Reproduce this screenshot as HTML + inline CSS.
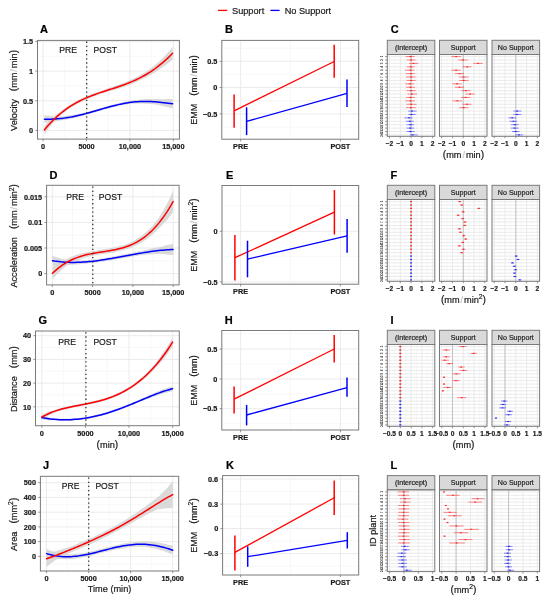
<!DOCTYPE html>
<html><head><meta charset="utf-8"><title>Figure</title>
<style>html,body{margin:0;padding:0;background:#fff;width:550px;height:600px;overflow:hidden}svg{display:block;font-family:"Liberation Sans",sans-serif;filter:blur(0.3px)}</style>
</head><body>
<svg width="550" height="600" viewBox="0 0 550 600" font-family='"Liberation Sans", sans-serif'><defs><clipPath id="c40"><rect x="38" y="40.9" width="140.9" height="97.7"/></clipPath><clipPath id="c185"><rect x="47.1" y="185.8" width="131.5" height="98.6"/></clipPath><clipPath id="c331"><rect x="36" y="331.5" width="142.8" height="93.7"/></clipPath><clipPath id="c476"><rect x="40.9" y="476.8" width="137.3" height="93.7"/></clipPath></defs><rect width="550" height="600" fill="#fff"/><rect x="37.5" y="40.4" width="141.9" height="98.7" fill="#fff"/>
<line x1="64.8" y1="40.4" x2="64.8" y2="139.1" stroke="#f3f3f3" stroke-width="0.6"/>
<line x1="108.2" y1="40.4" x2="108.2" y2="139.1" stroke="#f3f3f3" stroke-width="0.6"/>
<line x1="151.6" y1="40.4" x2="151.6" y2="139.1" stroke="#f3f3f3" stroke-width="0.6"/>
<line x1="37.5" y1="115.58" x2="179.4" y2="115.58" stroke="#f3f3f3" stroke-width="0.6"/>
<line x1="37.5" y1="85.92" x2="179.4" y2="85.92" stroke="#f3f3f3" stroke-width="0.6"/>
<line x1="37.5" y1="56.25" x2="179.4" y2="56.25" stroke="#f3f3f3" stroke-width="0.6"/>
<line x1="43.1" y1="40.4" x2="43.1" y2="139.1" stroke="#e6e6e6" stroke-width="0.8"/>
<line x1="86.5" y1="40.4" x2="86.5" y2="139.1" stroke="#e6e6e6" stroke-width="0.8"/>
<line x1="129.9" y1="40.4" x2="129.9" y2="139.1" stroke="#e6e6e6" stroke-width="0.8"/>
<line x1="173.3" y1="40.4" x2="173.3" y2="139.1" stroke="#e6e6e6" stroke-width="0.8"/>
<line x1="37.5" y1="130.4" x2="179.4" y2="130.4" stroke="#e6e6e6" stroke-width="0.8"/>
<line x1="37.5" y1="100.75" x2="179.4" y2="100.75" stroke="#e6e6e6" stroke-width="0.8"/>
<line x1="37.5" y1="71.1" x2="179.4" y2="71.1" stroke="#e6e6e6" stroke-width="0.8"/>
<line x1="37.5" y1="41.4" x2="179.4" y2="41.4" stroke="#e6e6e6" stroke-width="0.8"/>
<g clip-path="url(#c40)">
<path d="M44.4,115.63 L46.57,115.87 L48.75,116.08 L50.92,116.25 L53.09,116.39 L55.26,116.49 L57.44,116.56 L59.61,116.58 L61.78,116.44 L63.96,116.22 L66.13,115.97 L68.3,115.69 L70.47,115.36 L72.65,115.01 L74.82,114.61 L76.99,114.19 L79.17,113.74 L81.34,113.26 L83.51,112.76 L85.68,112.24 L87.86,111.69 L90.03,111.14 L92.2,110.51 L94.38,109.87 L96.55,109.22 L98.72,108.57 L100.89,107.93 L103.07,107.29 L105.24,106.65 L107.41,106.03 L109.59,105.42 L111.76,104.83 L113.93,104.27 L116.11,103.72 L118.28,103.2 L120.45,102.72 L122.62,102.26 L124.8,101.84 L126.97,101.45 L129.14,101.1 L131.32,100.74 L133.49,100.37 L135.66,100.05 L137.83,99.77 L140.01,99.54 L142.18,99.35 L144.35,99.19 L146.53,99.09 L148.7,99.02 L150.87,98.99 L153.04,99 L155.22,99.04 L157.39,99.11 L159.56,99.21 L161.74,99.18 L163.91,99.13 L166.08,99.1 L168.25,99.07 L170.43,99.04 L172.6,99.01 L172.6,108.41 L170.43,107.86 L168.25,107.3 L166.08,106.74 L163.91,106.19 L161.74,105.65 L159.56,105.16 L157.39,104.85 L155.22,104.56 L153.04,104.3 L150.87,104.08 L148.7,103.89 L146.53,103.74 L144.35,103.63 L142.18,103.56 L140.01,103.54 L137.83,103.56 L135.66,103.62 L133.49,103.72 L131.32,103.87 L129.14,104.1 L126.97,104.42 L124.8,104.79 L122.62,105.19 L120.45,105.62 L118.28,106.09 L116.11,106.58 L113.93,107.1 L111.76,107.65 L109.59,108.22 L107.41,108.8 L105.24,109.41 L103.07,110.02 L100.89,110.64 L98.72,111.26 L96.55,111.89 L94.38,112.51 L92.2,113.13 L90.03,113.74 L87.86,114.39 L85.68,115.04 L83.51,115.66 L81.34,116.27 L79.17,116.85 L76.99,117.4 L74.82,117.92 L72.65,118.42 L70.47,118.88 L68.3,119.3 L66.13,119.69 L63.96,120.04 L61.78,120.35 L59.61,120.65 L57.44,121.05 L55.26,121.4 L53.09,121.72 L50.92,122 L48.75,122.24 L46.57,122.45 L44.4,122.63Z" fill="#d4d4d4" fill-opacity="0.85"/>
<path d="M44.4,125.9 L46.57,123.59 L48.75,121.41 L50.92,119.35 L53.09,117.41 L55.26,115.58 L57.44,113.86 L59.61,112.24 L61.78,110.51 L63.96,108.84 L66.13,107.26 L68.3,105.77 L70.47,104.36 L72.65,103.03 L74.82,101.78 L76.99,100.59 L79.17,99.47 L81.34,98.42 L83.51,97.41 L85.68,96.47 L87.86,95.57 L90.03,94.71 L92.2,93.89 L94.38,93.11 L96.55,92.35 L98.72,91.62 L100.89,90.88 L103.07,90.11 L105.24,89.35 L107.41,88.59 L109.59,87.84 L111.76,87.09 L113.93,86.33 L116.11,85.57 L118.28,84.78 L120.45,83.99 L122.62,83.17 L124.8,82.32 L126.97,81.44 L129.14,80.53 L131.32,79.58 L133.49,78.59 L135.66,77.55 L137.83,76.47 L140.01,75.33 L142.18,74.03 L144.35,72.67 L146.53,71.25 L148.7,69.76 L150.87,68.2 L153.04,66.57 L155.22,64.87 L157.39,63.09 L159.56,61.23 L161.74,59.08 L163.91,56.79 L166.08,54.41 L168.25,51.95 L170.43,49.39 L172.6,46.75 L172.6,59.75 L170.43,61.53 L168.25,63.22 L166.08,64.83 L163.91,66.34 L161.74,67.77 L159.56,69.17 L157.39,70.7 L155.22,72.15 L153.04,73.53 L150.87,74.83 L148.7,76.06 L146.53,77.23 L144.35,78.32 L142.18,79.36 L140.01,80.33 L137.83,81.36 L135.66,82.34 L133.49,83.26 L131.32,84.15 L129.14,84.99 L126.97,85.79 L124.8,86.56 L122.62,87.3 L120.45,88.01 L118.28,88.7 L116.11,89.37 L113.93,90.03 L111.76,90.68 L109.59,91.32 L107.41,91.96 L105.24,92.61 L103.07,93.26 L100.89,93.92 L98.72,94.65 L96.55,95.44 L94.38,96.25 L92.2,97.08 L90.03,97.96 L87.86,98.87 L85.68,99.82 L83.51,100.83 L81.34,101.88 L79.17,102.99 L76.99,104.17 L74.82,105.41 L72.65,106.72 L70.47,108.1 L68.3,109.56 L66.13,111.11 L63.96,112.74 L61.78,114.47 L59.61,116.34 L57.44,118.51 L55.26,120.79 L53.09,123.18 L50.92,125.68 L48.75,128.3 L46.57,131.03 L44.4,133.9Z" fill="#d4d4d4" fill-opacity="0.85"/>
<path d="M44.4,119.13 L46.57,119.16 L48.75,119.16 L50.92,119.13 L53.09,119.06 L55.26,118.95 L57.44,118.8 L59.61,118.62 L61.78,118.39 L63.96,118.13 L66.13,117.83 L68.3,117.49 L70.47,117.12 L72.65,116.71 L74.82,116.27 L76.99,115.8 L79.17,115.29 L81.34,114.76 L83.51,114.21 L85.68,113.64 L87.86,113.04 L90.03,112.44 L92.2,111.82 L94.38,111.19 L96.55,110.55 L98.72,109.92 L100.89,109.28 L103.07,108.65 L105.24,108.03 L107.41,107.42 L109.59,106.82 L111.76,106.24 L113.93,105.69 L116.11,105.15 L118.28,104.64 L120.45,104.17 L122.62,103.72 L124.8,103.31 L126.97,102.94 L129.14,102.6 L131.32,102.3 L133.49,102.05 L135.66,101.84 L137.83,101.67 L140.01,101.54 L142.18,101.45 L144.35,101.41 L146.53,101.41 L148.7,101.45 L150.87,101.53 L153.04,101.65 L155.22,101.8 L157.39,101.98 L159.56,102.18 L161.74,102.41 L163.91,102.66 L166.08,102.92 L168.25,103.19 L170.43,103.45 L172.6,103.71" fill="none" stroke="#0000ff" stroke-width="1.5" stroke-linecap="round"/>
<path d="M44.4,129.9 L46.57,127.31 L48.75,124.85 L50.92,122.52 L53.09,120.29 L55.26,118.18 L57.44,116.18 L59.61,114.29 L61.78,112.49 L63.96,110.79 L66.13,109.19 L68.3,107.67 L70.47,106.23 L72.65,104.87 L74.82,103.59 L76.99,102.38 L79.17,101.23 L81.34,100.15 L83.51,99.12 L85.68,98.14 L87.86,97.22 L90.03,96.33 L92.2,95.49 L94.38,94.68 L96.55,93.89 L98.72,93.14 L100.89,92.4 L103.07,91.68 L105.24,90.98 L107.41,90.28 L109.59,89.58 L111.76,88.88 L113.93,88.18 L116.11,87.47 L118.28,86.74 L120.45,86 L122.62,85.23 L124.8,84.44 L126.97,83.62 L129.14,82.76 L131.32,81.86 L133.49,80.93 L135.66,79.95 L137.83,78.91 L140.01,77.83 L142.18,76.69 L144.35,75.5 L146.53,74.24 L148.7,72.91 L150.87,71.52 L153.04,70.05 L155.22,68.51 L157.39,66.9 L159.56,65.2 L161.74,63.43 L163.91,61.57 L166.08,59.62 L168.25,57.59 L170.43,55.46 L172.6,53.25" fill="none" stroke="#ff0000" stroke-width="1.5" stroke-linecap="round"/>
</g>
<line x1="86.7" y1="41.6" x2="86.7" y2="139.1" stroke="#2a2a2a" stroke-width="1.25" stroke-dasharray="1.3 2.85"/>
<text x="77" y="53.3" font-size="8.6" text-anchor="end" fill="#1a1a1a" stroke="#1a1a1a" stroke-width="0.2">PRE</text>
<text x="93.6" y="53.3" font-size="8.6" text-anchor="start" fill="#1a1a1a" stroke="#1a1a1a" stroke-width="0.2">POST</text>
<rect x="37.5" y="40.4" width="141.9" height="98.7" fill="none" stroke="#7a7a7a" stroke-width="1"/>
<line x1="35.3" y1="130.4" x2="37.5" y2="130.4" stroke="#7a7a7a" stroke-width="0.8"/>
<text x="33.1" y="133.15" font-size="7.3" text-anchor="end" font-weight="bold" fill="#1a1a1a" stroke="#1a1a1a" stroke-width="0.2">0</text>
<line x1="35.3" y1="100.75" x2="37.5" y2="100.75" stroke="#7a7a7a" stroke-width="0.8"/>
<text x="33.1" y="103.5" font-size="7.3" text-anchor="end" font-weight="bold" fill="#1a1a1a" stroke="#1a1a1a" stroke-width="0.2">0.5</text>
<line x1="35.3" y1="71.1" x2="37.5" y2="71.1" stroke="#7a7a7a" stroke-width="0.8"/>
<text x="33.1" y="73.85" font-size="7.3" text-anchor="end" font-weight="bold" fill="#1a1a1a" stroke="#1a1a1a" stroke-width="0.2">1</text>
<line x1="35.3" y1="41.4" x2="37.5" y2="41.4" stroke="#7a7a7a" stroke-width="0.8"/>
<text x="33.1" y="44.15" font-size="7.3" text-anchor="end" font-weight="bold" fill="#1a1a1a" stroke="#1a1a1a" stroke-width="0.2">1.5</text>
<line x1="43.1" y1="139.1" x2="43.1" y2="141.3" stroke="#7a7a7a" stroke-width="0.8"/>
<text x="43.1" y="149" font-size="7.3" text-anchor="middle" font-weight="bold" fill="#1a1a1a" stroke="#1a1a1a" stroke-width="0.2">0</text>
<line x1="86.5" y1="139.1" x2="86.5" y2="141.3" stroke="#7a7a7a" stroke-width="0.8"/>
<text x="86.5" y="149" font-size="7.3" text-anchor="middle" font-weight="bold" fill="#1a1a1a" stroke="#1a1a1a" stroke-width="0.2">5000</text>
<line x1="129.9" y1="139.1" x2="129.9" y2="141.3" stroke="#7a7a7a" stroke-width="0.8"/>
<text x="129.9" y="149" font-size="7.3" text-anchor="middle" font-weight="bold" fill="#1a1a1a" stroke="#1a1a1a" stroke-width="0.2">10,000</text>
<line x1="173.3" y1="139.1" x2="173.3" y2="141.3" stroke="#7a7a7a" stroke-width="0.8"/>
<text x="173.3" y="149" font-size="7.3" text-anchor="middle" font-weight="bold" fill="#1a1a1a" stroke="#1a1a1a" stroke-width="0.2">15,000</text>
<text x="40.1" y="33.3" font-size="11" text-anchor="start" font-weight="bold" fill="#000" stroke="#000" stroke-width="0.2">A</text>
<text transform="translate(16.6,90.45) rotate(-90)" font-size="9.2" text-anchor="middle" fill="#1a1a1a" stroke="#1a1a1a" stroke-width="0.2">Velocity<tspan dx="8.0"><tspan font-size="10.2">(</tspan>mm<tspan dx="0.9" fill="#c4c4c4" stroke="#c4c4c4">/</tspan><tspan dx="0.9">min</tspan><tspan font-size="10.2">)</tspan></tspan></text>
<rect x="46.6" y="185.3" width="132.5" height="99.6" fill="#fff"/>
<line x1="72.45" y1="185.3" x2="72.45" y2="284.9" stroke="#f3f3f3" stroke-width="0.6"/>
<line x1="112.75" y1="185.3" x2="112.75" y2="284.9" stroke="#f3f3f3" stroke-width="0.6"/>
<line x1="153.05" y1="185.3" x2="153.05" y2="284.9" stroke="#f3f3f3" stroke-width="0.6"/>
<line x1="46.6" y1="260.8" x2="179.1" y2="260.8" stroke="#f3f3f3" stroke-width="0.6"/>
<line x1="46.6" y1="235.2" x2="179.1" y2="235.2" stroke="#f3f3f3" stroke-width="0.6"/>
<line x1="46.6" y1="209.6" x2="179.1" y2="209.6" stroke="#f3f3f3" stroke-width="0.6"/>
<line x1="52.3" y1="185.3" x2="52.3" y2="284.9" stroke="#e6e6e6" stroke-width="0.8"/>
<line x1="92.6" y1="185.3" x2="92.6" y2="284.9" stroke="#e6e6e6" stroke-width="0.8"/>
<line x1="132.9" y1="185.3" x2="132.9" y2="284.9" stroke="#e6e6e6" stroke-width="0.8"/>
<line x1="173.2" y1="185.3" x2="173.2" y2="284.9" stroke="#e6e6e6" stroke-width="0.8"/>
<line x1="46.6" y1="273.6" x2="179.1" y2="273.6" stroke="#e6e6e6" stroke-width="0.8"/>
<line x1="46.6" y1="248" x2="179.1" y2="248" stroke="#e6e6e6" stroke-width="0.8"/>
<line x1="46.6" y1="222.4" x2="179.1" y2="222.4" stroke="#e6e6e6" stroke-width="0.8"/>
<line x1="46.6" y1="196.8" x2="179.1" y2="196.8" stroke="#e6e6e6" stroke-width="0.8"/>
<g clip-path="url(#c185)">
<path d="M52.5,255.7 L54.54,256.45 L56.59,257.15 L58.63,257.82 L60.68,258.45 L62.72,259.04 L64.76,259.6 L66.81,259.84 L68.85,260 L70.9,260.14 L72.94,260.24 L74.98,260.31 L77.03,260.35 L79.07,260.37 L81.12,260.35 L83.16,260.32 L85.21,260.26 L87.25,260.17 L89.29,260.07 L91.34,259.87 L93.38,259.62 L95.43,259.36 L97.47,259.07 L99.51,258.77 L101.56,258.46 L103.6,258.13 L105.65,257.79 L107.69,257.43 L109.73,257.07 L111.78,256.7 L113.82,256.32 L115.87,255.93 L117.91,255.54 L119.95,255.14 L122,254.74 L124.04,254.34 L126.09,253.94 L128.13,253.54 L130.17,253.14 L132.22,252.75 L134.26,252.35 L136.31,251.97 L138.35,251.58 L140.39,251.19 L142.44,250.69 L144.48,250.2 L146.53,249.72 L148.57,249.25 L150.62,248.8 L152.66,248.36 L154.7,247.94 L156.75,247.53 L158.79,247.14 L160.84,246.69 L162.88,246.14 L164.92,245.62 L166.97,245.11 L169.01,244.63 L171.06,244.17 L173.1,243.74 L173.1,255.14 L171.06,254.89 L169.01,254.66 L166.97,254.45 L164.92,254.27 L162.88,254.11 L160.84,253.97 L158.79,253.96 L156.75,254.04 L154.7,254.14 L152.66,254.26 L150.62,254.39 L148.57,254.54 L146.53,254.7 L144.48,254.87 L142.44,255.05 L140.39,255.24 L138.35,255.55 L136.31,255.89 L134.26,256.24 L132.22,256.59 L130.17,256.95 L128.13,257.3 L126.09,257.66 L124.04,258.02 L122,258.38 L119.95,258.74 L117.91,259.1 L115.87,259.45 L113.82,259.79 L111.78,260.13 L109.73,260.46 L107.69,260.79 L105.65,261.1 L103.6,261.4 L101.56,261.69 L99.51,261.96 L97.47,262.22 L95.43,262.47 L93.38,262.69 L91.34,262.9 L89.29,263.12 L87.25,263.39 L85.21,263.64 L83.16,263.87 L81.12,264.07 L79.07,264.24 L77.03,264.39 L74.98,264.51 L72.94,264.6 L70.9,264.66 L68.85,264.7 L66.81,264.69 L64.76,264.7 L62.72,264.96 L60.68,265.18 L58.63,265.37 L56.59,265.52 L54.54,265.63 L52.5,265.7Z" fill="#d4d4d4" fill-opacity="0.85"/>
<path d="M52.5,267.29 L54.54,265.78 L56.59,264.4 L58.63,263.14 L60.68,261.99 L62.72,260.96 L64.76,260.04 L66.81,258.95 L68.85,257.92 L70.9,256.98 L72.94,256.13 L74.98,255.36 L77.03,254.66 L79.07,254.04 L81.12,253.48 L83.16,252.98 L85.21,252.54 L87.25,252.14 L89.29,251.79 L91.34,251.4 L93.38,251 L95.43,250.64 L97.47,250.29 L99.51,249.95 L101.56,249.63 L103.6,249.3 L105.65,248.98 L107.69,248.64 L109.73,248.29 L111.78,247.92 L113.82,247.53 L115.87,247.1 L117.91,246.63 L119.95,246.12 L122,245.56 L124.04,244.95 L126.09,244.22 L128.13,243.39 L130.17,242.48 L132.22,241.49 L134.26,240.42 L136.31,239.26 L138.35,238 L140.39,236.65 L142.44,235.18 L144.48,233.6 L146.53,231.78 L148.57,229.79 L150.62,227.67 L152.66,225.41 L154.7,223.02 L156.75,220.48 L158.79,217.78 L160.84,214.73 L162.88,211.21 L164.92,207.53 L166.97,203.67 L169.01,199.64 L171.06,195.42 L173.1,191.02 L173.1,212.02 L171.06,214.86 L169.01,217.52 L166.97,219.99 L164.92,222.29 L162.88,224.41 L160.84,226.37 L158.79,228.46 L156.75,230.61 L154.7,232.6 L152.66,234.45 L150.62,236.16 L148.57,237.74 L146.53,239.18 L144.48,240.55 L142.44,241.92 L140.39,243.18 L138.35,244.34 L136.31,245.39 L134.26,246.35 L132.22,247.21 L130.17,248 L128.13,248.7 L126.09,249.33 L124.04,249.94 L122,250.53 L119.95,251.06 L117.91,251.55 L115.87,252 L113.82,252.4 L111.78,252.77 L109.73,253.12 L107.69,253.45 L105.65,253.76 L103.6,254.06 L101.56,254.36 L99.51,254.66 L97.47,254.97 L95.43,255.3 L93.38,255.64 L91.34,256.01 L89.29,256.45 L87.25,257 L85.21,257.6 L83.16,258.24 L81.12,258.93 L79.07,259.69 L77.03,260.51 L74.98,261.4 L72.94,262.36 L70.9,263.41 L68.85,264.55 L66.81,265.78 L64.76,267.14 L62.72,268.88 L60.68,270.72 L58.63,272.68 L56.59,274.76 L54.54,276.96 L52.5,279.29Z" fill="#d4d4d4" fill-opacity="0.85"/>
<path d="M52.5,260.7 L54.54,261.04 L56.59,261.33 L58.63,261.59 L60.68,261.82 L62.72,262 L64.76,262.15 L66.81,262.27 L68.85,262.35 L70.9,262.4 L72.94,262.42 L74.98,262.41 L77.03,262.37 L79.07,262.3 L81.12,262.21 L83.16,262.09 L85.21,261.95 L87.25,261.78 L89.29,261.59 L91.34,261.39 L93.38,261.16 L95.43,260.91 L97.47,260.65 L99.51,260.37 L101.56,260.07 L103.6,259.76 L105.65,259.44 L107.69,259.11 L109.73,258.77 L111.78,258.42 L113.82,258.06 L115.87,257.69 L117.91,257.32 L119.95,256.94 L122,256.56 L124.04,256.18 L126.09,255.8 L128.13,255.42 L130.17,255.04 L132.22,254.67 L134.26,254.3 L136.31,253.93 L138.35,253.57 L140.39,253.21 L142.44,252.87 L144.48,252.53 L146.53,252.21 L148.57,251.9 L150.62,251.6 L152.66,251.31 L154.7,251.04 L156.75,250.78 L158.79,250.55 L160.84,250.33 L162.88,250.13 L164.92,249.94 L166.97,249.78 L169.01,249.65 L171.06,249.53 L173.1,249.44" fill="none" stroke="#0000ff" stroke-width="1.5" stroke-linecap="round"/>
<path d="M52.5,273.29 L54.54,271.37 L56.59,269.58 L58.63,267.91 L60.68,266.36 L62.72,264.92 L64.76,263.59 L66.81,262.36 L68.85,261.23 L70.9,260.2 L72.94,259.25 L74.98,258.38 L77.03,257.58 L79.07,256.86 L81.12,256.21 L83.16,255.61 L85.21,255.07 L87.25,254.57 L89.29,254.12 L91.34,253.71 L93.38,253.32 L95.43,252.97 L97.47,252.63 L99.51,252.31 L101.56,251.99 L103.6,251.68 L105.65,251.37 L107.69,251.05 L109.73,250.71 L111.78,250.35 L113.82,249.96 L115.87,249.55 L117.91,249.09 L119.95,248.59 L122,248.05 L124.04,247.44 L126.09,246.78 L128.13,246.04 L130.17,245.24 L132.22,244.35 L134.26,243.38 L136.31,242.33 L138.35,241.17 L140.39,239.91 L142.44,238.55 L144.48,237.08 L146.53,235.48 L148.57,233.76 L150.62,231.92 L152.66,229.93 L154.7,227.81 L156.75,225.54 L158.79,223.12 L160.84,220.55 L162.88,217.81 L164.92,214.91 L166.97,211.83 L169.01,208.58 L171.06,205.14 L173.1,201.52" fill="none" stroke="#ff0000" stroke-width="1.5" stroke-linecap="round"/>
</g>
<line x1="92.8" y1="186.5" x2="92.8" y2="284.9" stroke="#2a2a2a" stroke-width="1.25" stroke-dasharray="1.3 2.85"/>
<text x="84" y="200.2" font-size="8.6" text-anchor="end" fill="#1a1a1a" stroke="#1a1a1a" stroke-width="0.2">PRE</text>
<text x="98.8" y="200.2" font-size="8.6" text-anchor="start" fill="#1a1a1a" stroke="#1a1a1a" stroke-width="0.2">POST</text>
<rect x="46.6" y="185.3" width="132.5" height="99.6" fill="none" stroke="#7a7a7a" stroke-width="1"/>
<line x1="44.4" y1="273.6" x2="46.6" y2="273.6" stroke="#7a7a7a" stroke-width="0.8"/>
<text x="42.2" y="276.35" font-size="7.3" text-anchor="end" font-weight="bold" fill="#1a1a1a" stroke="#1a1a1a" stroke-width="0.2">0</text>
<line x1="44.4" y1="248" x2="46.6" y2="248" stroke="#7a7a7a" stroke-width="0.8"/>
<text x="42.2" y="250.75" font-size="7.3" text-anchor="end" font-weight="bold" fill="#1a1a1a" stroke="#1a1a1a" stroke-width="0.2">0.005</text>
<line x1="44.4" y1="222.4" x2="46.6" y2="222.4" stroke="#7a7a7a" stroke-width="0.8"/>
<text x="42.2" y="225.15" font-size="7.3" text-anchor="end" font-weight="bold" fill="#1a1a1a" stroke="#1a1a1a" stroke-width="0.2">0.01</text>
<line x1="44.4" y1="196.8" x2="46.6" y2="196.8" stroke="#7a7a7a" stroke-width="0.8"/>
<text x="42.2" y="199.55" font-size="7.3" text-anchor="end" font-weight="bold" fill="#1a1a1a" stroke="#1a1a1a" stroke-width="0.2">0.015</text>
<line x1="52.3" y1="284.9" x2="52.3" y2="287.1" stroke="#7a7a7a" stroke-width="0.8"/>
<text x="52.3" y="294.8" font-size="7.3" text-anchor="middle" font-weight="bold" fill="#1a1a1a" stroke="#1a1a1a" stroke-width="0.2">0</text>
<line x1="92.6" y1="284.9" x2="92.6" y2="287.1" stroke="#7a7a7a" stroke-width="0.8"/>
<text x="92.6" y="294.8" font-size="7.3" text-anchor="middle" font-weight="bold" fill="#1a1a1a" stroke="#1a1a1a" stroke-width="0.2">5000</text>
<line x1="132.9" y1="284.9" x2="132.9" y2="287.1" stroke="#7a7a7a" stroke-width="0.8"/>
<text x="132.9" y="294.8" font-size="7.3" text-anchor="middle" font-weight="bold" fill="#1a1a1a" stroke="#1a1a1a" stroke-width="0.2">10,000</text>
<line x1="173.2" y1="284.9" x2="173.2" y2="287.1" stroke="#7a7a7a" stroke-width="0.8"/>
<text x="173.2" y="294.8" font-size="7.3" text-anchor="middle" font-weight="bold" fill="#1a1a1a" stroke="#1a1a1a" stroke-width="0.2">15,000</text>
<text x="49.6" y="178.5" font-size="11" text-anchor="start" font-weight="bold" fill="#000" stroke="#000" stroke-width="0.2">D</text>
<text transform="translate(17.4,235.8) rotate(-90)" font-size="9.2" text-anchor="middle" fill="#1a1a1a" stroke="#1a1a1a" stroke-width="0.2">Acceleration<tspan dx="8.0"><tspan font-size="10.2">(</tspan>mm<tspan dx="0.9" fill="#c4c4c4" stroke="#c4c4c4">/</tspan><tspan dx="0.9">min</tspan><tspan font-size="6.8" dy="-3.9">2</tspan><tspan dy="3.9" font-size="10.2">)</tspan></tspan></text>
<rect x="35.5" y="331" width="143.8" height="94.7" fill="#fff"/>
<line x1="63.6" y1="331" x2="63.6" y2="425.7" stroke="#f3f3f3" stroke-width="0.6"/>
<line x1="107.2" y1="331" x2="107.2" y2="425.7" stroke="#f3f3f3" stroke-width="0.6"/>
<line x1="150.8" y1="331" x2="150.8" y2="425.7" stroke="#f3f3f3" stroke-width="0.6"/>
<line x1="35.5" y1="394.95" x2="179.3" y2="394.95" stroke="#f3f3f3" stroke-width="0.6"/>
<line x1="35.5" y1="371.25" x2="179.3" y2="371.25" stroke="#f3f3f3" stroke-width="0.6"/>
<line x1="35.5" y1="347.55" x2="179.3" y2="347.55" stroke="#f3f3f3" stroke-width="0.6"/>
<line x1="35.5" y1="418.65" x2="179.3" y2="418.65" stroke="#f3f3f3" stroke-width="0.6"/>
<line x1="41.8" y1="331" x2="41.8" y2="425.7" stroke="#e6e6e6" stroke-width="0.8"/>
<line x1="85.4" y1="331" x2="85.4" y2="425.7" stroke="#e6e6e6" stroke-width="0.8"/>
<line x1="129" y1="331" x2="129" y2="425.7" stroke="#e6e6e6" stroke-width="0.8"/>
<line x1="172.6" y1="331" x2="172.6" y2="425.7" stroke="#e6e6e6" stroke-width="0.8"/>
<line x1="35.5" y1="406.8" x2="179.3" y2="406.8" stroke="#e6e6e6" stroke-width="0.8"/>
<line x1="35.5" y1="383.1" x2="179.3" y2="383.1" stroke="#e6e6e6" stroke-width="0.8"/>
<line x1="35.5" y1="359.4" x2="179.3" y2="359.4" stroke="#e6e6e6" stroke-width="0.8"/>
<line x1="35.5" y1="335.7" x2="179.3" y2="335.7" stroke="#e6e6e6" stroke-width="0.8"/>
<g clip-path="url(#c331)">
<path d="M41.7,415.6 L43.92,416.16 L46.14,416.68 L48.36,417.16 L50.57,417.61 L52.79,418.01 L55.01,418.37 L57.23,418.52 L59.45,418.63 L61.67,418.7 L63.89,418.73 L66.11,418.73 L68.32,418.68 L70.54,418.6 L72.76,418.48 L74.98,418.32 L77.2,418.12 L79.42,417.89 L81.64,417.62 L83.85,417.31 L86.07,416.97 L88.29,416.59 L90.51,416.17 L92.73,415.72 L94.95,415.23 L97.17,414.71 L99.38,414.16 L101.6,413.57 L103.82,412.96 L106.04,412.31 L108.26,411.63 L110.48,410.92 L112.7,410.18 L114.92,409.42 L117.13,408.63 L119.35,407.82 L121.57,406.98 L123.79,406.13 L126.01,405.25 L128.23,404.36 L130.45,403.46 L132.66,402.54 L134.88,401.61 L137.1,400.68 L139.32,399.74 L141.54,398.74 L143.76,397.71 L145.98,396.69 L148.19,395.68 L150.41,394.68 L152.63,393.7 L154.85,392.73 L157.07,391.79 L159.29,390.88 L161.51,390 L163.73,389.15 L165.94,388.35 L168.16,387.6 L170.38,386.9 L172.6,386.25 L172.6,391.25 L170.38,391.72 L168.16,392.24 L165.94,392.82 L163.73,393.45 L161.51,394.11 L159.29,394.82 L157.07,395.55 L154.85,396.32 L152.63,397.11 L150.41,397.91 L148.19,398.74 L145.98,399.57 L143.76,400.41 L141.54,401.26 L139.32,402.13 L137.1,403.06 L134.88,403.99 L132.66,404.9 L130.45,405.81 L128.23,406.71 L126.01,407.59 L123.79,408.45 L121.57,409.3 L119.35,410.12 L117.13,410.92 L114.92,411.7 L112.7,412.45 L110.48,413.18 L108.26,413.88 L106.04,414.55 L103.82,415.19 L101.6,415.79 L99.38,416.37 L97.17,416.91 L94.95,417.42 L92.73,417.9 L90.51,418.34 L88.29,418.74 L86.07,419.11 L83.85,419.45 L81.64,419.74 L79.42,420 L77.2,420.23 L74.98,420.41 L72.76,420.56 L70.54,420.67 L68.32,420.74 L66.11,420.78 L63.89,420.77 L61.67,420.73 L59.45,420.65 L57.23,420.53 L55.01,420.37 L52.79,420.34 L50.57,420.27 L48.36,420.16 L46.14,420.02 L43.92,419.83 L41.7,419.6Z" fill="#d4d4d4" fill-opacity="0.85"/>
<path d="M41.7,414.74 L43.92,413.67 L46.14,412.71 L48.36,411.86 L50.57,411.09 L52.79,410.41 L55.01,409.8 L57.23,409.06 L59.45,408.38 L61.67,407.75 L63.89,407.17 L66.11,406.64 L68.32,406.13 L70.54,405.65 L72.76,405.2 L74.98,404.76 L77.2,404.34 L79.42,403.91 L81.64,403.5 L83.85,403.07 L86.07,402.64 L88.29,402.2 L90.51,401.73 L92.73,401.25 L94.95,400.74 L97.17,400.2 L99.38,399.63 L101.6,399.03 L103.82,398.38 L106.04,397.69 L108.26,396.95 L110.48,396.16 L112.7,395.32 L114.92,394.42 L117.13,393.46 L119.35,392.44 L121.57,391.35 L123.79,390.19 L126.01,388.96 L128.23,387.66 L130.45,386.26 L132.66,384.68 L134.88,383.03 L137.1,381.29 L139.32,379.46 L141.54,377.53 L143.76,375.51 L145.98,373.38 L148.19,371.16 L150.41,368.82 L152.63,366.38 L154.85,363.82 L157.07,361 L159.29,358.06 L161.51,354.99 L163.73,351.79 L165.94,348.45 L168.16,344.98 L170.38,341.36 L172.6,337.59 L172.6,346.59 L170.38,349.85 L168.16,352.97 L165.94,355.94 L163.73,358.77 L161.51,361.47 L159.29,364.03 L157.07,366.47 L154.85,368.8 L152.63,371.15 L150.41,373.38 L148.19,375.5 L145.98,377.52 L143.76,379.43 L141.54,381.24 L139.32,382.95 L137.1,384.57 L134.88,386.1 L132.66,387.54 L130.45,388.9 L128.23,390.26 L126.01,391.56 L123.79,392.79 L121.57,393.95 L119.35,395.04 L117.13,396.06 L114.92,397.02 L112.7,397.92 L110.48,398.76 L108.26,399.55 L106.04,400.29 L103.82,400.98 L101.6,401.63 L99.38,402.23 L97.17,402.8 L94.95,403.34 L92.73,403.85 L90.51,404.33 L88.29,404.8 L86.07,405.24 L83.85,405.67 L81.64,406.1 L79.42,406.51 L77.2,406.94 L74.98,407.36 L72.76,407.8 L70.54,408.25 L68.32,408.73 L66.11,409.24 L63.89,409.77 L61.67,410.35 L59.45,410.98 L57.23,411.66 L55.01,412.4 L52.79,413.4 L50.57,414.49 L48.36,415.65 L46.14,416.91 L43.92,418.27 L41.7,419.74Z" fill="#d4d4d4" fill-opacity="0.85"/>
<path d="M41.7,417.6 L43.92,417.99 L46.14,418.35 L48.36,418.66 L50.57,418.94 L52.79,419.17 L55.01,419.37 L57.23,419.52 L59.45,419.64 L61.67,419.71 L63.89,419.75 L66.11,419.75 L68.32,419.71 L70.54,419.64 L72.76,419.52 L74.98,419.37 L77.2,419.18 L79.42,418.95 L81.64,418.68 L83.85,418.38 L86.07,418.04 L88.29,417.67 L90.51,417.26 L92.73,416.81 L94.95,416.33 L97.17,415.81 L99.38,415.27 L101.6,414.68 L103.82,414.07 L106.04,413.43 L108.26,412.75 L110.48,412.05 L112.7,411.32 L114.92,410.56 L117.13,409.78 L119.35,408.97 L121.57,408.14 L123.79,407.29 L126.01,406.42 L128.23,405.53 L130.45,404.63 L132.66,403.72 L134.88,402.8 L137.1,401.87 L139.32,400.93 L141.54,400 L143.76,399.06 L145.98,398.13 L148.19,397.21 L150.41,396.3 L152.63,395.4 L154.85,394.53 L157.07,393.67 L159.29,392.85 L161.51,392.05 L163.73,391.3 L165.94,390.59 L168.16,389.92 L170.38,389.31 L172.6,388.75" fill="none" stroke="#0000ff" stroke-width="1.5" stroke-linecap="round"/>
<path d="M41.7,417.24 L43.92,415.97 L46.14,414.81 L48.36,413.76 L50.57,412.79 L52.79,411.91 L55.01,411.1 L57.23,410.36 L59.45,409.68 L61.67,409.05 L63.89,408.47 L66.11,407.94 L68.32,407.43 L70.54,406.95 L72.76,406.5 L74.98,406.06 L77.2,405.64 L79.42,405.21 L81.64,404.8 L83.85,404.37 L86.07,403.94 L88.29,403.5 L90.51,403.03 L92.73,402.55 L94.95,402.04 L97.17,401.5 L99.38,400.93 L101.6,400.33 L103.82,399.68 L106.04,398.99 L108.26,398.25 L110.48,397.46 L112.7,396.62 L114.92,395.72 L117.13,394.76 L119.35,393.74 L121.57,392.65 L123.79,391.49 L126.01,390.26 L128.23,388.96 L130.45,387.58 L132.66,386.11 L134.88,384.56 L137.1,382.93 L139.32,381.2 L141.54,379.38 L143.76,377.47 L145.98,375.45 L148.19,373.33 L150.41,371.1 L152.63,368.76 L154.85,366.31 L157.07,363.74 L159.29,361.05 L161.51,358.23 L163.73,355.28 L165.94,352.19 L168.16,348.97 L170.38,345.61 L172.6,342.09" fill="none" stroke="#ff0000" stroke-width="1.5" stroke-linecap="round"/>
</g>
<line x1="85.9" y1="332.2" x2="85.9" y2="425.7" stroke="#2a2a2a" stroke-width="1.25" stroke-dasharray="1.3 2.85"/>
<text x="75.9" y="344.6" font-size="8.6" text-anchor="end" fill="#1a1a1a" stroke="#1a1a1a" stroke-width="0.2">PRE</text>
<text x="93.4" y="344.6" font-size="8.6" text-anchor="start" fill="#1a1a1a" stroke="#1a1a1a" stroke-width="0.2">POST</text>
<rect x="35.5" y="331" width="143.8" height="94.7" fill="none" stroke="#7a7a7a" stroke-width="1"/>
<line x1="33.3" y1="406.8" x2="35.5" y2="406.8" stroke="#7a7a7a" stroke-width="0.8"/>
<text x="31.1" y="409.55" font-size="7.3" text-anchor="end" font-weight="bold" fill="#1a1a1a" stroke="#1a1a1a" stroke-width="0.2">10</text>
<line x1="33.3" y1="383.1" x2="35.5" y2="383.1" stroke="#7a7a7a" stroke-width="0.8"/>
<text x="31.1" y="385.85" font-size="7.3" text-anchor="end" font-weight="bold" fill="#1a1a1a" stroke="#1a1a1a" stroke-width="0.2">20</text>
<line x1="33.3" y1="359.4" x2="35.5" y2="359.4" stroke="#7a7a7a" stroke-width="0.8"/>
<text x="31.1" y="362.15" font-size="7.3" text-anchor="end" font-weight="bold" fill="#1a1a1a" stroke="#1a1a1a" stroke-width="0.2">30</text>
<line x1="33.3" y1="335.7" x2="35.5" y2="335.7" stroke="#7a7a7a" stroke-width="0.8"/>
<text x="31.1" y="338.45" font-size="7.3" text-anchor="end" font-weight="bold" fill="#1a1a1a" stroke="#1a1a1a" stroke-width="0.2">40</text>
<line x1="41.8" y1="425.7" x2="41.8" y2="427.9" stroke="#7a7a7a" stroke-width="0.8"/>
<text x="41.8" y="435.6" font-size="7.3" text-anchor="middle" font-weight="bold" fill="#1a1a1a" stroke="#1a1a1a" stroke-width="0.2">0</text>
<line x1="85.4" y1="425.7" x2="85.4" y2="427.9" stroke="#7a7a7a" stroke-width="0.8"/>
<text x="85.4" y="435.6" font-size="7.3" text-anchor="middle" font-weight="bold" fill="#1a1a1a" stroke="#1a1a1a" stroke-width="0.2">5000</text>
<line x1="129" y1="425.7" x2="129" y2="427.9" stroke="#7a7a7a" stroke-width="0.8"/>
<text x="129" y="435.6" font-size="7.3" text-anchor="middle" font-weight="bold" fill="#1a1a1a" stroke="#1a1a1a" stroke-width="0.2">10,000</text>
<line x1="172.6" y1="425.7" x2="172.6" y2="427.9" stroke="#7a7a7a" stroke-width="0.8"/>
<text x="172.6" y="435.6" font-size="7.3" text-anchor="middle" font-weight="bold" fill="#1a1a1a" stroke="#1a1a1a" stroke-width="0.2">15,000</text>
<text x="38.6" y="323.7" font-size="11" text-anchor="start" font-weight="bold" fill="#000" stroke="#000" stroke-width="0.2">G</text>
<text transform="translate(17,379.05) rotate(-90)" font-size="9.2" text-anchor="middle" fill="#1a1a1a" stroke="#1a1a1a" stroke-width="0.2">Distance<tspan dx="8.0"><tspan font-size="10.2">(</tspan>mm<tspan font-size="10.2">)</tspan></tspan></text>
<text x="107.4" y="447.6" font-size="9.2" text-anchor="middle" fill="#1a1a1a" stroke="#1a1a1a" stroke-width="0.2"><tspan font-size="10.2">(</tspan>min<tspan font-size="10.2">)</tspan></text>
<rect x="40.4" y="476.3" width="138.3" height="94.7" fill="#fff"/>
<line x1="67.55" y1="476.3" x2="67.55" y2="571" stroke="#f3f3f3" stroke-width="0.6"/>
<line x1="109.6" y1="476.3" x2="109.6" y2="571" stroke="#f3f3f3" stroke-width="0.6"/>
<line x1="151.65" y1="476.3" x2="151.65" y2="571" stroke="#f3f3f3" stroke-width="0.6"/>
<line x1="40.4" y1="549.05" x2="178.7" y2="549.05" stroke="#f3f3f3" stroke-width="0.6"/>
<line x1="40.4" y1="534.3" x2="178.7" y2="534.3" stroke="#f3f3f3" stroke-width="0.6"/>
<line x1="40.4" y1="519.55" x2="178.7" y2="519.55" stroke="#f3f3f3" stroke-width="0.6"/>
<line x1="40.4" y1="504.8" x2="178.7" y2="504.8" stroke="#f3f3f3" stroke-width="0.6"/>
<line x1="40.4" y1="490.05" x2="178.7" y2="490.05" stroke="#f3f3f3" stroke-width="0.6"/>
<line x1="40.4" y1="563.75" x2="178.7" y2="563.75" stroke="#f3f3f3" stroke-width="0.6"/>
<line x1="46.5" y1="476.3" x2="46.5" y2="571" stroke="#e6e6e6" stroke-width="0.8"/>
<line x1="88.6" y1="476.3" x2="88.6" y2="571" stroke="#e6e6e6" stroke-width="0.8"/>
<line x1="130.6" y1="476.3" x2="130.6" y2="571" stroke="#e6e6e6" stroke-width="0.8"/>
<line x1="172.7" y1="476.3" x2="172.7" y2="571" stroke="#e6e6e6" stroke-width="0.8"/>
<line x1="40.4" y1="556.4" x2="178.7" y2="556.4" stroke="#e6e6e6" stroke-width="0.8"/>
<line x1="40.4" y1="541.7" x2="178.7" y2="541.7" stroke="#e6e6e6" stroke-width="0.8"/>
<line x1="40.4" y1="526.9" x2="178.7" y2="526.9" stroke="#e6e6e6" stroke-width="0.8"/>
<line x1="40.4" y1="512.2" x2="178.7" y2="512.2" stroke="#e6e6e6" stroke-width="0.8"/>
<line x1="40.4" y1="497.4" x2="178.7" y2="497.4" stroke="#e6e6e6" stroke-width="0.8"/>
<line x1="40.4" y1="482.7" x2="178.7" y2="482.7" stroke="#e6e6e6" stroke-width="0.8"/>
<g clip-path="url(#c476)">
<path d="M46.6,549.15 L48.74,550.09 L50.87,550.96 L53.01,551.76 L55.15,552.48 L57.29,553.14 L59.42,553.72 L61.56,554.02 L63.7,554.18 L65.84,554.27 L67.97,554.3 L70.11,554.27 L72.25,554.18 L74.38,554.04 L76.52,553.85 L78.66,553.61 L80.8,553.32 L82.93,552.99 L85.07,552.63 L87.21,552.23 L89.35,551.8 L91.48,551.34 L93.62,550.87 L95.76,550.37 L97.89,549.86 L100.03,549.34 L102.17,548.76 L104.31,548.18 L106.44,547.6 L108.58,547.03 L110.72,546.47 L112.86,545.93 L114.99,545.4 L117.13,544.89 L119.27,544.41 L121.41,543.96 L123.54,543.54 L125.68,543.16 L127.82,542.81 L129.95,542.51 L132.09,542.25 L134.23,542.04 L136.37,541.88 L138.5,541.77 L140.64,541.68 L142.78,541.6 L144.92,541.57 L147.05,541.59 L149.19,541.68 L151.33,541.82 L153.46,542.01 L155.6,542.26 L157.74,542.57 L159.88,542.93 L162.01,543.28 L164.15,543.69 L166.29,544.13 L168.43,544.63 L170.56,545.16 L172.7,545.73 L172.7,554.73 L170.56,553.82 L168.43,552.95 L166.29,552.12 L164.15,551.34 L162.01,550.6 L159.88,549.92 L157.74,549.34 L155.6,548.82 L153.46,548.36 L151.33,547.95 L149.19,547.6 L147.05,547.3 L144.92,547.06 L142.78,546.88 L140.64,546.75 L138.5,546.73 L136.37,546.79 L134.23,546.9 L132.09,547.05 L129.95,547.26 L127.82,547.51 L125.68,547.8 L123.54,548.13 L121.41,548.49 L119.27,548.89 L117.13,549.32 L114.99,549.77 L112.86,550.25 L110.72,550.74 L108.58,551.25 L106.44,551.77 L104.31,552.29 L102.17,552.82 L100.03,553.34 L97.89,553.91 L95.76,554.48 L93.62,555.03 L91.48,555.56 L89.35,556.07 L87.21,556.55 L85.07,557 L82.93,557.42 L80.8,557.8 L78.66,558.14 L76.52,558.44 L74.38,558.68 L72.25,558.88 L70.11,559.02 L67.97,559.1 L65.84,559.13 L63.7,559.09 L61.56,558.98 L59.42,558.89 L57.29,558.95 L55.15,558.93 L53.01,558.84 L50.87,558.68 L48.74,558.45 L46.6,558.15Z" fill="#d4d4d4" fill-opacity="0.85"/>
<path d="M46.6,551.3 L48.74,551.38 L50.87,551.45 L53.01,551.49 L55.15,551.48 L57.29,550.84 L59.42,550.19 L61.56,549.53 L63.7,548.86 L65.84,548.18 L67.97,547.49 L70.11,546.79 L72.25,545.91 L74.38,545.03 L76.52,544.14 L78.66,543.25 L80.8,542.34 L82.93,541.42 L85.07,540.5 L87.21,539.56 L89.35,538.61 L91.48,537.65 L93.62,536.68 L95.76,535.69 L97.89,534.69 L100.03,533.68 L102.17,532.65 L104.31,531.61 L106.44,530.54 L108.58,529.46 L110.72,528.35 L112.86,527.18 L114.99,526 L117.13,524.79 L119.27,523.57 L121.41,522.33 L123.54,521.03 L125.68,519.7 L127.82,518.35 L129.95,516.98 L132.09,515.59 L134.23,514.19 L136.37,512.72 L138.5,511.24 L140.64,509.75 L142.78,508.25 L144.92,506.74 L147.05,505.18 L149.19,503.58 L151.33,501.97 L153.46,500.37 L155.6,498.77 L157.74,497.19 L159.88,495.18 L162.01,493.12 L164.15,491.09 L166.29,489.01 L168.43,486.45 L170.56,483.93 L172.7,481.45 L172.7,507.95 L170.56,508.04 L168.43,508.17 L166.29,508.33 L164.15,508.52 L162.01,508.74 L159.88,508.97 L157.74,509.31 L155.6,510.29 L153.46,511.28 L151.33,512.28 L149.19,513.28 L147.05,514.28 L144.92,515.41 L142.78,516.65 L140.64,517.88 L138.5,519.11 L136.37,520.32 L134.23,521.52 L132.09,522.74 L129.95,523.94 L127.82,525.13 L125.68,526.3 L123.54,527.46 L121.41,528.61 L119.27,529.8 L117.13,530.97 L114.99,532.12 L112.86,533.25 L110.72,534.37 L108.58,535.46 L106.44,536.54 L104.31,537.61 L102.17,538.65 L100.03,539.68 L97.89,540.69 L95.76,541.69 L93.62,542.68 L91.48,543.65 L89.35,544.61 L87.21,545.56 L85.07,546.5 L82.93,547.42 L80.8,548.34 L78.66,549.25 L76.52,550.14 L74.38,551.03 L72.25,551.91 L70.11,552.79 L67.97,553.86 L65.84,554.93 L63.7,555.99 L61.56,557.05 L59.42,558.09 L57.29,559.13 L55.15,560.16 L53.01,561.8 L50.87,563.48 L48.74,565.15 L46.6,566.8Z" fill="#d4d4d4" fill-opacity="0.85"/>
<path d="M46.6,553.65 L48.74,554.27 L50.87,554.82 L53.01,555.3 L55.15,555.71 L57.29,556.04 L59.42,556.31 L61.56,556.5 L63.7,556.63 L65.84,556.7 L67.97,556.7 L70.11,556.65 L72.25,556.53 L74.38,556.36 L76.52,556.14 L78.66,555.87 L80.8,555.56 L82.93,555.21 L85.07,554.82 L87.21,554.39 L89.35,553.93 L91.48,553.45 L93.62,552.95 L95.76,552.42 L97.89,551.89 L100.03,551.34 L102.17,550.79 L104.31,550.24 L106.44,549.68 L108.58,549.14 L110.72,548.61 L112.86,548.09 L114.99,547.58 L117.13,547.1 L119.27,546.65 L121.41,546.23 L123.54,545.83 L125.68,545.48 L127.82,545.16 L129.95,544.88 L132.09,544.65 L134.23,544.47 L136.37,544.33 L138.5,544.25 L140.64,544.22 L142.78,544.24 L144.92,544.31 L147.05,544.45 L149.19,544.64 L151.33,544.88 L153.46,545.18 L155.6,545.54 L157.74,545.96 L159.88,546.42 L162.01,546.94 L164.15,547.51 L166.29,548.13 L168.43,548.79 L170.56,549.49 L172.7,550.23" fill="none" stroke="#0000ff" stroke-width="1.5" stroke-linecap="round"/>
<path d="M46.6,558.8 L48.74,558.04 L50.87,557.27 L53.01,556.48 L55.15,555.67 L57.29,554.86 L59.42,554.04 L61.56,553.2 L63.7,552.36 L65.84,551.51 L67.97,550.65 L70.11,549.79 L72.25,548.91 L74.38,548.03 L76.52,547.14 L78.66,546.25 L80.8,545.34 L82.93,544.42 L85.07,543.5 L87.21,542.56 L89.35,541.61 L91.48,540.65 L93.62,539.68 L95.76,538.69 L97.89,537.69 L100.03,536.68 L102.17,535.65 L104.31,534.61 L106.44,533.54 L108.58,532.46 L110.72,531.37 L112.86,530.25 L114.99,529.12 L117.13,527.97 L119.27,526.8 L121.41,525.61 L123.54,524.4 L125.68,523.18 L127.82,521.94 L129.95,520.68 L132.09,519.4 L134.23,518.11 L136.37,516.8 L138.5,515.48 L140.64,514.15 L142.78,512.81 L144.92,511.46 L147.05,510.11 L149.19,508.75 L151.33,507.39 L153.46,506.04 L155.6,504.69 L157.74,503.36 L159.88,502.03 L162.01,500.73 L164.15,499.45 L166.29,498.19 L168.43,496.97 L170.56,495.79 L172.7,494.65" fill="none" stroke="#ff0000" stroke-width="1.5" stroke-linecap="round"/>
</g>
<line x1="88.7" y1="477.5" x2="88.7" y2="571" stroke="#2a2a2a" stroke-width="1.25" stroke-dasharray="1.3 2.85"/>
<text x="79.4" y="489.2" font-size="8.6" text-anchor="end" fill="#1a1a1a" stroke="#1a1a1a" stroke-width="0.2">PRE</text>
<text x="95.4" y="489.2" font-size="8.6" text-anchor="start" fill="#1a1a1a" stroke="#1a1a1a" stroke-width="0.2">POST</text>
<rect x="40.4" y="476.3" width="138.3" height="94.7" fill="none" stroke="#7a7a7a" stroke-width="1"/>
<line x1="38.2" y1="556.4" x2="40.4" y2="556.4" stroke="#7a7a7a" stroke-width="0.8"/>
<text x="36" y="559.15" font-size="7.3" text-anchor="end" font-weight="bold" fill="#1a1a1a" stroke="#1a1a1a" stroke-width="0.2">0</text>
<line x1="38.2" y1="541.7" x2="40.4" y2="541.7" stroke="#7a7a7a" stroke-width="0.8"/>
<text x="36" y="544.45" font-size="7.3" text-anchor="end" font-weight="bold" fill="#1a1a1a" stroke="#1a1a1a" stroke-width="0.2">100</text>
<line x1="38.2" y1="526.9" x2="40.4" y2="526.9" stroke="#7a7a7a" stroke-width="0.8"/>
<text x="36" y="529.65" font-size="7.3" text-anchor="end" font-weight="bold" fill="#1a1a1a" stroke="#1a1a1a" stroke-width="0.2">200</text>
<line x1="38.2" y1="512.2" x2="40.4" y2="512.2" stroke="#7a7a7a" stroke-width="0.8"/>
<text x="36" y="514.95" font-size="7.3" text-anchor="end" font-weight="bold" fill="#1a1a1a" stroke="#1a1a1a" stroke-width="0.2">300</text>
<line x1="38.2" y1="497.4" x2="40.4" y2="497.4" stroke="#7a7a7a" stroke-width="0.8"/>
<text x="36" y="500.15" font-size="7.3" text-anchor="end" font-weight="bold" fill="#1a1a1a" stroke="#1a1a1a" stroke-width="0.2">400</text>
<line x1="38.2" y1="482.7" x2="40.4" y2="482.7" stroke="#7a7a7a" stroke-width="0.8"/>
<text x="36" y="485.45" font-size="7.3" text-anchor="end" font-weight="bold" fill="#1a1a1a" stroke="#1a1a1a" stroke-width="0.2">500</text>
<line x1="46.5" y1="571" x2="46.5" y2="573.2" stroke="#7a7a7a" stroke-width="0.8"/>
<text x="46.5" y="580.9" font-size="7.3" text-anchor="middle" font-weight="bold" fill="#1a1a1a" stroke="#1a1a1a" stroke-width="0.2">0</text>
<line x1="88.6" y1="571" x2="88.6" y2="573.2" stroke="#7a7a7a" stroke-width="0.8"/>
<text x="88.6" y="580.9" font-size="7.3" text-anchor="middle" font-weight="bold" fill="#1a1a1a" stroke="#1a1a1a" stroke-width="0.2">5000</text>
<line x1="130.6" y1="571" x2="130.6" y2="573.2" stroke="#7a7a7a" stroke-width="0.8"/>
<text x="130.6" y="580.9" font-size="7.3" text-anchor="middle" font-weight="bold" fill="#1a1a1a" stroke="#1a1a1a" stroke-width="0.2">10,000</text>
<line x1="172.7" y1="571" x2="172.7" y2="573.2" stroke="#7a7a7a" stroke-width="0.8"/>
<text x="172.7" y="580.9" font-size="7.3" text-anchor="middle" font-weight="bold" fill="#1a1a1a" stroke="#1a1a1a" stroke-width="0.2">15,000</text>
<text x="43.1" y="469" font-size="11" text-anchor="start" font-weight="bold" fill="#000" stroke="#000" stroke-width="0.2">J</text>
<text transform="translate(16.8,524.35) rotate(-90)" font-size="9.2" text-anchor="middle" fill="#1a1a1a" stroke="#1a1a1a" stroke-width="0.2">Area<tspan dx="8.0"><tspan font-size="10.2">(</tspan>mm<tspan font-size="6.8" dy="-3.9">2</tspan><tspan dy="3.9" font-size="10.2">)</tspan></tspan></text>
<text x="109.55" y="592.4" font-size="9.2" text-anchor="middle" fill="#1a1a1a" stroke="#1a1a1a" stroke-width="0.2">Time (min)</text>
<line x1="290.5" y1="40.4" x2="290.5" y2="139.2" stroke="#f3f3f3" stroke-width="0.6"/>
<line x1="221.8" y1="127.1" x2="358.7" y2="127.1" stroke="#f3f3f3" stroke-width="0.6"/>
<line x1="221.8" y1="100.7" x2="358.7" y2="100.7" stroke="#f3f3f3" stroke-width="0.6"/>
<line x1="221.8" y1="74.4" x2="358.7" y2="74.4" stroke="#f3f3f3" stroke-width="0.6"/>
<line x1="221.8" y1="48.2" x2="358.7" y2="48.2" stroke="#f3f3f3" stroke-width="0.6"/>
<line x1="240.6" y1="40.4" x2="240.6" y2="139.2" stroke="#e6e6e6" stroke-width="0.8"/>
<line x1="340.4" y1="40.4" x2="340.4" y2="139.2" stroke="#e6e6e6" stroke-width="0.8"/>
<line x1="221.8" y1="113.9" x2="358.7" y2="113.9" stroke="#e6e6e6" stroke-width="0.8"/>
<line x1="221.8" y1="87.5" x2="358.7" y2="87.5" stroke="#e6e6e6" stroke-width="0.8"/>
<line x1="221.8" y1="61.3" x2="358.7" y2="61.3" stroke="#e6e6e6" stroke-width="0.8"/>
<line x1="234.1" y1="110.8" x2="334.2" y2="61.5" stroke="#ff0000" stroke-width="1.3"/>
<line x1="234.1" y1="94.5" x2="234.1" y2="127.7" stroke="#ff0000" stroke-width="1.5"/>
<line x1="334.2" y1="44.8" x2="334.2" y2="77.8" stroke="#ff0000" stroke-width="1.5"/>
<line x1="246.6" y1="121.4" x2="347" y2="93.4" stroke="#0000ff" stroke-width="1.3"/>
<line x1="246.6" y1="107.3" x2="246.6" y2="135.1" stroke="#0000ff" stroke-width="1.5"/>
<line x1="347" y1="79.5" x2="347" y2="107" stroke="#0000ff" stroke-width="1.5"/>
<rect x="221.8" y="40.4" width="136.9" height="98.8" fill="none" stroke="#7a7a7a" stroke-width="1"/>
<line x1="219.6" y1="113.9" x2="221.8" y2="113.9" stroke="#7a7a7a" stroke-width="0.8"/>
<text x="217.4" y="116.65" font-size="7.3" text-anchor="end" font-weight="bold" fill="#1a1a1a" stroke="#1a1a1a" stroke-width="0.2">−0.5</text>
<line x1="219.6" y1="87.5" x2="221.8" y2="87.5" stroke="#7a7a7a" stroke-width="0.8"/>
<text x="217.4" y="90.25" font-size="7.3" text-anchor="end" font-weight="bold" fill="#1a1a1a" stroke="#1a1a1a" stroke-width="0.2">0</text>
<line x1="219.6" y1="61.3" x2="221.8" y2="61.3" stroke="#7a7a7a" stroke-width="0.8"/>
<text x="217.4" y="64.05" font-size="7.3" text-anchor="end" font-weight="bold" fill="#1a1a1a" stroke="#1a1a1a" stroke-width="0.2">0.5</text>
<line x1="240.6" y1="139.2" x2="240.6" y2="141.4" stroke="#7a7a7a" stroke-width="0.8"/>
<text x="240.6" y="149.1" font-size="7.3" text-anchor="middle" font-weight="bold" fill="#1a1a1a" stroke="#1a1a1a" stroke-width="0.2">PRE</text>
<line x1="340.4" y1="139.2" x2="340.4" y2="141.4" stroke="#7a7a7a" stroke-width="0.8"/>
<text x="340.4" y="149.1" font-size="7.3" text-anchor="middle" font-weight="bold" fill="#1a1a1a" stroke="#1a1a1a" stroke-width="0.2">POST</text>
<text x="225" y="33.3" font-size="11" text-anchor="start" font-weight="bold" fill="#000" stroke="#000" stroke-width="0.2">B</text>
<text transform="translate(196.8,90) rotate(-90)" font-size="9" text-anchor="middle" fill="#1a1a1a" stroke="#1a1a1a" stroke-width="0.2">EMM<tspan dx="8.0"><tspan font-size="10.2">(</tspan>mm<tspan dx="0.9" fill="#c4c4c4" stroke="#c4c4c4">/</tspan><tspan dx="0.9">min</tspan><tspan font-size="10.2">)</tspan></tspan></text>
<line x1="290.5" y1="185.5" x2="290.5" y2="284.2" stroke="#f3f3f3" stroke-width="0.6"/>
<line x1="222" y1="256.6" x2="358.7" y2="256.6" stroke="#f3f3f3" stroke-width="0.6"/>
<line x1="222" y1="206" x2="358.7" y2="206" stroke="#f3f3f3" stroke-width="0.6"/>
<line x1="240.6" y1="185.5" x2="240.6" y2="284.2" stroke="#e6e6e6" stroke-width="0.8"/>
<line x1="340.4" y1="185.5" x2="340.4" y2="284.2" stroke="#e6e6e6" stroke-width="0.8"/>
<line x1="222" y1="281.9" x2="358.7" y2="281.9" stroke="#e6e6e6" stroke-width="0.8"/>
<line x1="222" y1="231.3" x2="358.7" y2="231.3" stroke="#e6e6e6" stroke-width="0.8"/>
<line x1="234.9" y1="257.7" x2="334.4" y2="212.2" stroke="#ff0000" stroke-width="1.3"/>
<line x1="234.9" y1="235.1" x2="234.9" y2="280.4" stroke="#ff0000" stroke-width="1.5"/>
<line x1="334.4" y1="190.1" x2="334.4" y2="234.5" stroke="#ff0000" stroke-width="1.5"/>
<line x1="247.5" y1="259.1" x2="347.1" y2="235.9" stroke="#0000ff" stroke-width="1.3"/>
<line x1="247.5" y1="240.7" x2="247.5" y2="277.3" stroke="#0000ff" stroke-width="1.5"/>
<line x1="347.1" y1="219" x2="347.1" y2="252.8" stroke="#0000ff" stroke-width="1.5"/>
<rect x="222" y="185.5" width="136.7" height="98.7" fill="none" stroke="#7a7a7a" stroke-width="1"/>
<line x1="219.8" y1="281.9" x2="222" y2="281.9" stroke="#7a7a7a" stroke-width="0.8"/>
<text x="217.6" y="284.65" font-size="7.3" text-anchor="end" font-weight="bold" fill="#1a1a1a" stroke="#1a1a1a" stroke-width="0.2">−0.5</text>
<line x1="219.8" y1="231.3" x2="222" y2="231.3" stroke="#7a7a7a" stroke-width="0.8"/>
<text x="217.6" y="234.05" font-size="7.3" text-anchor="end" font-weight="bold" fill="#1a1a1a" stroke="#1a1a1a" stroke-width="0.2">0</text>
<line x1="240.6" y1="284.2" x2="240.6" y2="286.4" stroke="#7a7a7a" stroke-width="0.8"/>
<text x="240.6" y="294.1" font-size="7.3" text-anchor="middle" font-weight="bold" fill="#1a1a1a" stroke="#1a1a1a" stroke-width="0.2">PRE</text>
<line x1="340.4" y1="284.2" x2="340.4" y2="286.4" stroke="#7a7a7a" stroke-width="0.8"/>
<text x="340.4" y="294.1" font-size="7.3" text-anchor="middle" font-weight="bold" fill="#1a1a1a" stroke="#1a1a1a" stroke-width="0.2">POST</text>
<text x="225.9" y="178.5" font-size="11" text-anchor="start" font-weight="bold" fill="#000" stroke="#000" stroke-width="0.2">E</text>
<text transform="translate(197.3,235.05) rotate(-90)" font-size="9" text-anchor="middle" fill="#1a1a1a" stroke="#1a1a1a" stroke-width="0.2">EMM<tspan dx="8.0"><tspan font-size="10.2">(</tspan>mm<tspan dx="0.9" fill="#c4c4c4" stroke="#c4c4c4">/</tspan><tspan dx="0.9">min</tspan><tspan font-size="6.8" dy="-3.9">2</tspan><tspan dy="3.9" font-size="10.2">)</tspan></tspan></text>
<line x1="290.5" y1="330.5" x2="290.5" y2="430" stroke="#f3f3f3" stroke-width="0.6"/>
<line x1="221.8" y1="423.6" x2="358.7" y2="423.6" stroke="#f3f3f3" stroke-width="0.6"/>
<line x1="221.8" y1="393.9" x2="358.7" y2="393.9" stroke="#f3f3f3" stroke-width="0.6"/>
<line x1="221.8" y1="364" x2="358.7" y2="364" stroke="#f3f3f3" stroke-width="0.6"/>
<line x1="221.8" y1="334" x2="358.7" y2="334" stroke="#f3f3f3" stroke-width="0.6"/>
<line x1="240.6" y1="330.5" x2="240.6" y2="430" stroke="#e6e6e6" stroke-width="0.8"/>
<line x1="340.4" y1="330.5" x2="340.4" y2="430" stroke="#e6e6e6" stroke-width="0.8"/>
<line x1="221.8" y1="408.7" x2="358.7" y2="408.7" stroke="#e6e6e6" stroke-width="0.8"/>
<line x1="221.8" y1="379" x2="358.7" y2="379" stroke="#e6e6e6" stroke-width="0.8"/>
<line x1="221.8" y1="349" x2="358.7" y2="349" stroke="#e6e6e6" stroke-width="0.8"/>
<line x1="234.1" y1="399.2" x2="334.2" y2="349" stroke="#ff0000" stroke-width="1.3"/>
<line x1="234.1" y1="386.4" x2="234.1" y2="413.6" stroke="#ff0000" stroke-width="1.5"/>
<line x1="334.2" y1="335.1" x2="334.2" y2="362.4" stroke="#ff0000" stroke-width="1.5"/>
<line x1="246.6" y1="415" x2="347" y2="387.7" stroke="#0000ff" stroke-width="1.3"/>
<line x1="246.6" y1="404.9" x2="246.6" y2="425.4" stroke="#0000ff" stroke-width="1.5"/>
<line x1="347" y1="377.6" x2="347" y2="396.7" stroke="#0000ff" stroke-width="1.5"/>
<rect x="221.8" y="330.5" width="136.9" height="99.5" fill="none" stroke="#7a7a7a" stroke-width="1"/>
<line x1="219.6" y1="408.7" x2="221.8" y2="408.7" stroke="#7a7a7a" stroke-width="0.8"/>
<text x="217.4" y="411.45" font-size="7.3" text-anchor="end" font-weight="bold" fill="#1a1a1a" stroke="#1a1a1a" stroke-width="0.2">−0.5</text>
<line x1="219.6" y1="379" x2="221.8" y2="379" stroke="#7a7a7a" stroke-width="0.8"/>
<text x="217.4" y="381.75" font-size="7.3" text-anchor="end" font-weight="bold" fill="#1a1a1a" stroke="#1a1a1a" stroke-width="0.2">0</text>
<line x1="219.6" y1="349" x2="221.8" y2="349" stroke="#7a7a7a" stroke-width="0.8"/>
<text x="217.4" y="351.75" font-size="7.3" text-anchor="end" font-weight="bold" fill="#1a1a1a" stroke="#1a1a1a" stroke-width="0.2">0.5</text>
<line x1="240.6" y1="430" x2="240.6" y2="432.2" stroke="#7a7a7a" stroke-width="0.8"/>
<text x="240.6" y="439.9" font-size="7.3" text-anchor="middle" font-weight="bold" fill="#1a1a1a" stroke="#1a1a1a" stroke-width="0.2">PRE</text>
<line x1="340.4" y1="430" x2="340.4" y2="432.2" stroke="#7a7a7a" stroke-width="0.8"/>
<text x="340.4" y="439.9" font-size="7.3" text-anchor="middle" font-weight="bold" fill="#1a1a1a" stroke="#1a1a1a" stroke-width="0.2">POST</text>
<text x="224.8" y="323.7" font-size="11" text-anchor="start" font-weight="bold" fill="#000" stroke="#000" stroke-width="0.2">H</text>
<text transform="translate(196.8,380.45) rotate(-90)" font-size="9" text-anchor="middle" fill="#1a1a1a" stroke="#1a1a1a" stroke-width="0.2">EMM<tspan dx="8.0"><tspan font-size="10.2">(</tspan>mm<tspan font-size="10.2">)</tspan></tspan></text>
<line x1="290.5" y1="475.6" x2="290.5" y2="575" stroke="#f3f3f3" stroke-width="0.6"/>
<line x1="222.6" y1="566.2" x2="358.7" y2="566.2" stroke="#f3f3f3" stroke-width="0.6"/>
<line x1="222.6" y1="541.2" x2="358.7" y2="541.2" stroke="#f3f3f3" stroke-width="0.6"/>
<line x1="222.6" y1="516.4" x2="358.7" y2="516.4" stroke="#f3f3f3" stroke-width="0.6"/>
<line x1="222.6" y1="491.6" x2="358.7" y2="491.6" stroke="#f3f3f3" stroke-width="0.6"/>
<line x1="240.6" y1="475.6" x2="240.6" y2="575" stroke="#e6e6e6" stroke-width="0.8"/>
<line x1="340.4" y1="475.6" x2="340.4" y2="575" stroke="#e6e6e6" stroke-width="0.8"/>
<line x1="222.6" y1="553.7" x2="358.7" y2="553.7" stroke="#e6e6e6" stroke-width="0.8"/>
<line x1="222.6" y1="528.6" x2="358.7" y2="528.6" stroke="#e6e6e6" stroke-width="0.8"/>
<line x1="222.6" y1="504.1" x2="358.7" y2="504.1" stroke="#e6e6e6" stroke-width="0.8"/>
<line x1="222.6" y1="479" x2="358.7" y2="479" stroke="#e6e6e6" stroke-width="0.8"/>
<line x1="234.9" y1="552.4" x2="334.2" y2="497.8" stroke="#ff0000" stroke-width="1.3"/>
<line x1="234.9" y1="535.4" x2="234.9" y2="570.4" stroke="#ff0000" stroke-width="1.5"/>
<line x1="334.2" y1="480.4" x2="334.2" y2="515" stroke="#ff0000" stroke-width="1.5"/>
<line x1="247.7" y1="556.7" x2="347.3" y2="540.4" stroke="#0000ff" stroke-width="1.3"/>
<line x1="247.7" y1="546.4" x2="247.7" y2="566.8" stroke="#0000ff" stroke-width="1.5"/>
<line x1="347.3" y1="532.2" x2="347.3" y2="548.5" stroke="#0000ff" stroke-width="1.5"/>
<rect x="222.6" y="475.6" width="136.1" height="99.4" fill="none" stroke="#7a7a7a" stroke-width="1"/>
<line x1="220.4" y1="553.7" x2="222.6" y2="553.7" stroke="#7a7a7a" stroke-width="0.8"/>
<text x="218.2" y="556.45" font-size="7.3" text-anchor="end" font-weight="bold" fill="#1a1a1a" stroke="#1a1a1a" stroke-width="0.2">−0.3</text>
<line x1="220.4" y1="528.6" x2="222.6" y2="528.6" stroke="#7a7a7a" stroke-width="0.8"/>
<text x="218.2" y="531.35" font-size="7.3" text-anchor="end" font-weight="bold" fill="#1a1a1a" stroke="#1a1a1a" stroke-width="0.2">0</text>
<line x1="220.4" y1="504.1" x2="222.6" y2="504.1" stroke="#7a7a7a" stroke-width="0.8"/>
<text x="218.2" y="506.85" font-size="7.3" text-anchor="end" font-weight="bold" fill="#1a1a1a" stroke="#1a1a1a" stroke-width="0.2">0.3</text>
<line x1="220.4" y1="479" x2="222.6" y2="479" stroke="#7a7a7a" stroke-width="0.8"/>
<text x="218.2" y="481.75" font-size="7.3" text-anchor="end" font-weight="bold" fill="#1a1a1a" stroke="#1a1a1a" stroke-width="0.2">0.6</text>
<line x1="240.6" y1="575" x2="240.6" y2="577.2" stroke="#7a7a7a" stroke-width="0.8"/>
<text x="240.6" y="584.9" font-size="7.3" text-anchor="middle" font-weight="bold" fill="#1a1a1a" stroke="#1a1a1a" stroke-width="0.2">PRE</text>
<line x1="340.4" y1="575" x2="340.4" y2="577.2" stroke="#7a7a7a" stroke-width="0.8"/>
<text x="340.4" y="584.9" font-size="7.3" text-anchor="middle" font-weight="bold" fill="#1a1a1a" stroke="#1a1a1a" stroke-width="0.2">POST</text>
<text x="225.9" y="469" font-size="11" text-anchor="start" font-weight="bold" fill="#000" stroke="#000" stroke-width="0.2">K</text>
<text transform="translate(196.8,525.5) rotate(-90)" font-size="9" text-anchor="middle" fill="#1a1a1a" stroke="#1a1a1a" stroke-width="0.2">EMM<tspan dx="8.0"><tspan font-size="10.2">(</tspan>mm<tspan font-size="6.8" dy="-3.9">2</tspan><tspan dy="3.9" font-size="10.2">)</tspan></tspan></text>
<rect x="387.3" y="40.3" width="47.5" height="14.2" fill="#d9d9d9" stroke="#7a7a7a" stroke-width="1"/>
<text x="411.05" y="49.9" font-size="7.1" text-anchor="middle" fill="#222" stroke="#222" stroke-width="0.2">(Intercept)</text>
<line x1="394.85" y1="54.5" x2="394.85" y2="136.3" stroke="#f3f3f3" stroke-width="0.6"/>
<line x1="405.65" y1="54.5" x2="405.65" y2="136.3" stroke="#f3f3f3" stroke-width="0.6"/>
<line x1="416.45" y1="54.5" x2="416.45" y2="136.3" stroke="#f3f3f3" stroke-width="0.6"/>
<line x1="427.25" y1="54.5" x2="427.25" y2="136.3" stroke="#f3f3f3" stroke-width="0.6"/>
<line x1="389.45" y1="54.5" x2="389.45" y2="136.3" stroke="#e6e6e6" stroke-width="0.8"/>
<line x1="400.25" y1="54.5" x2="400.25" y2="136.3" stroke="#e6e6e6" stroke-width="0.8"/>
<line x1="411.05" y1="54.5" x2="411.05" y2="136.3" stroke="#e6e6e6" stroke-width="0.8"/>
<line x1="421.85" y1="54.5" x2="421.85" y2="136.3" stroke="#e6e6e6" stroke-width="0.8"/>
<line x1="432.65" y1="54.5" x2="432.65" y2="136.3" stroke="#e6e6e6" stroke-width="0.8"/>
<line x1="387.3" y1="56.6" x2="434.8" y2="56.6" stroke="#e6e6e6" stroke-width="0.8"/>
<line x1="387.3" y1="60.01" x2="434.8" y2="60.01" stroke="#e6e6e6" stroke-width="0.8"/>
<line x1="387.3" y1="63.41" x2="434.8" y2="63.41" stroke="#e6e6e6" stroke-width="0.8"/>
<line x1="387.3" y1="66.81" x2="434.8" y2="66.81" stroke="#e6e6e6" stroke-width="0.8"/>
<line x1="387.3" y1="70.22" x2="434.8" y2="70.22" stroke="#e6e6e6" stroke-width="0.8"/>
<line x1="387.3" y1="73.62" x2="434.8" y2="73.62" stroke="#e6e6e6" stroke-width="0.8"/>
<line x1="387.3" y1="77.03" x2="434.8" y2="77.03" stroke="#e6e6e6" stroke-width="0.8"/>
<line x1="387.3" y1="80.44" x2="434.8" y2="80.44" stroke="#e6e6e6" stroke-width="0.8"/>
<line x1="387.3" y1="83.84" x2="434.8" y2="83.84" stroke="#e6e6e6" stroke-width="0.8"/>
<line x1="387.3" y1="87.25" x2="434.8" y2="87.25" stroke="#e6e6e6" stroke-width="0.8"/>
<line x1="387.3" y1="90.65" x2="434.8" y2="90.65" stroke="#e6e6e6" stroke-width="0.8"/>
<line x1="387.3" y1="94.06" x2="434.8" y2="94.06" stroke="#e6e6e6" stroke-width="0.8"/>
<line x1="387.3" y1="97.46" x2="434.8" y2="97.46" stroke="#e6e6e6" stroke-width="0.8"/>
<line x1="387.3" y1="100.87" x2="434.8" y2="100.87" stroke="#e6e6e6" stroke-width="0.8"/>
<line x1="387.3" y1="104.27" x2="434.8" y2="104.27" stroke="#e6e6e6" stroke-width="0.8"/>
<line x1="387.3" y1="107.67" x2="434.8" y2="107.67" stroke="#e6e6e6" stroke-width="0.8"/>
<line x1="387.3" y1="111.08" x2="434.8" y2="111.08" stroke="#e6e6e6" stroke-width="0.8"/>
<line x1="387.3" y1="114.48" x2="434.8" y2="114.48" stroke="#e6e6e6" stroke-width="0.8"/>
<line x1="387.3" y1="117.89" x2="434.8" y2="117.89" stroke="#e6e6e6" stroke-width="0.8"/>
<line x1="387.3" y1="121.29" x2="434.8" y2="121.29" stroke="#e6e6e6" stroke-width="0.8"/>
<line x1="387.3" y1="124.7" x2="434.8" y2="124.7" stroke="#e6e6e6" stroke-width="0.8"/>
<line x1="387.3" y1="128.1" x2="434.8" y2="128.1" stroke="#e6e6e6" stroke-width="0.8"/>
<line x1="387.3" y1="131.51" x2="434.8" y2="131.51" stroke="#e6e6e6" stroke-width="0.8"/>
<line x1="387.3" y1="134.91" x2="434.8" y2="134.91" stroke="#e6e6e6" stroke-width="0.8"/>
<line x1="411.05" y1="54.5" x2="411.05" y2="136.3" stroke="#b0b0b0" stroke-width="0.7"/>
<line x1="405.7" y1="56.6" x2="414.7" y2="56.6" stroke="#ff0000" stroke-width="1.0" stroke-opacity="0.45"/>
<rect x="409.6" y="56" width="1.8" height="1.2" fill="#ff0000" fill-opacity="0.7"/>
<line x1="406.7" y1="60.01" x2="415.7" y2="60.01" stroke="#ff0000" stroke-width="1.0" stroke-opacity="0.45"/>
<rect x="410.3" y="59.41" width="1.8" height="1.2" fill="#ff0000" fill-opacity="0.7"/>
<line x1="409" y1="63.41" x2="418.3" y2="63.41" stroke="#ff0000" stroke-width="1.0" stroke-opacity="0.45"/>
<rect x="412.6" y="62.81" width="1.8" height="1.2" fill="#ff0000" fill-opacity="0.7"/>
<line x1="406.7" y1="66.81" x2="414.7" y2="66.81" stroke="#ff0000" stroke-width="1.0" stroke-opacity="0.45"/>
<rect x="409.9" y="66.22" width="1.8" height="1.2" fill="#ff0000" fill-opacity="0.7"/>
<line x1="405.2" y1="70.22" x2="414.2" y2="70.22" stroke="#ff0000" stroke-width="1.0" stroke-opacity="0.45"/>
<rect x="409.6" y="69.62" width="1.8" height="1.2" fill="#ff0000" fill-opacity="0.7"/>
<line x1="405.7" y1="73.62" x2="415" y2="73.62" stroke="#ff0000" stroke-width="1.0" stroke-opacity="0.45"/>
<rect x="409.9" y="73.03" width="1.8" height="1.2" fill="#ff0000" fill-opacity="0.7"/>
<line x1="406" y1="77.03" x2="415.7" y2="77.03" stroke="#ff0000" stroke-width="1.0" stroke-opacity="0.45"/>
<rect x="410.3" y="76.43" width="1.8" height="1.2" fill="#ff0000" fill-opacity="0.7"/>
<line x1="406.7" y1="80.44" x2="415.7" y2="80.44" stroke="#ff0000" stroke-width="1.0" stroke-opacity="0.45"/>
<rect x="410.3" y="79.84" width="1.8" height="1.2" fill="#ff0000" fill-opacity="0.7"/>
<line x1="405.2" y1="83.84" x2="414.2" y2="83.84" stroke="#ff0000" stroke-width="1.0" stroke-opacity="0.45"/>
<rect x="408.8" y="83.24" width="1.8" height="1.2" fill="#ff0000" fill-opacity="0.7"/>
<line x1="406" y1="87.25" x2="415" y2="87.25" stroke="#ff0000" stroke-width="1.0" stroke-opacity="0.45"/>
<rect x="409.6" y="86.65" width="1.8" height="1.2" fill="#ff0000" fill-opacity="0.7"/>
<line x1="406.7" y1="90.65" x2="415.7" y2="90.65" stroke="#ff0000" stroke-width="1.0" stroke-opacity="0.45"/>
<rect x="410.3" y="90.05" width="1.8" height="1.2" fill="#ff0000" fill-opacity="0.7"/>
<line x1="407.5" y1="94.06" x2="417" y2="94.06" stroke="#ff0000" stroke-width="1.0" stroke-opacity="0.45"/>
<rect x="411.1" y="93.46" width="1.8" height="1.2" fill="#ff0000" fill-opacity="0.7"/>
<line x1="406" y1="97.46" x2="415" y2="97.46" stroke="#ff0000" stroke-width="1.0" stroke-opacity="0.45"/>
<rect x="409.6" y="96.86" width="1.8" height="1.2" fill="#ff0000" fill-opacity="0.7"/>
<line x1="405.2" y1="100.87" x2="415" y2="100.87" stroke="#ff0000" stroke-width="1.0" stroke-opacity="0.45"/>
<rect x="409.6" y="100.27" width="1.8" height="1.2" fill="#ff0000" fill-opacity="0.7"/>
<line x1="406.7" y1="104.27" x2="416.5" y2="104.27" stroke="#ff0000" stroke-width="1.0" stroke-opacity="0.45"/>
<rect x="410.3" y="103.67" width="1.8" height="1.2" fill="#ff0000" fill-opacity="0.7"/>
<line x1="406" y1="107.67" x2="415.7" y2="107.67" stroke="#ff0000" stroke-width="1.0" stroke-opacity="0.45"/>
<rect x="409.9" y="107.08" width="1.8" height="1.2" fill="#ff0000" fill-opacity="0.7"/>
<line x1="408.2" y1="111.08" x2="416.5" y2="111.08" stroke="#0000ff" stroke-width="1.0" stroke-opacity="0.45"/>
<rect x="411.1" y="110.48" width="1.8" height="1.2" fill="#0000ff" fill-opacity="0.7"/>
<line x1="408.2" y1="114.48" x2="415.7" y2="114.48" stroke="#0000ff" stroke-width="1.0" stroke-opacity="0.45"/>
<rect x="410.8" y="113.89" width="1.8" height="1.2" fill="#0000ff" fill-opacity="0.7"/>
<line x1="404.5" y1="117.89" x2="412.7" y2="117.89" stroke="#0000ff" stroke-width="1.0" stroke-opacity="0.45"/>
<rect x="408.1" y="117.29" width="1.8" height="1.2" fill="#0000ff" fill-opacity="0.7"/>
<line x1="406" y1="121.29" x2="413.8" y2="121.29" stroke="#0000ff" stroke-width="1.0" stroke-opacity="0.45"/>
<rect x="408.8" y="120.69" width="1.8" height="1.2" fill="#0000ff" fill-opacity="0.7"/>
<line x1="406.7" y1="124.7" x2="414.2" y2="124.7" stroke="#0000ff" stroke-width="1.0" stroke-opacity="0.45"/>
<rect x="409.6" y="124.1" width="1.8" height="1.2" fill="#0000ff" fill-opacity="0.7"/>
<line x1="406.5" y1="128.1" x2="414.2" y2="128.1" stroke="#0000ff" stroke-width="1.0" stroke-opacity="0.45"/>
<rect x="409.3" y="127.5" width="1.8" height="1.2" fill="#0000ff" fill-opacity="0.7"/>
<line x1="406.7" y1="131.51" x2="414.7" y2="131.51" stroke="#0000ff" stroke-width="1.0" stroke-opacity="0.45"/>
<rect x="409.3" y="130.91" width="1.8" height="1.2" fill="#0000ff" fill-opacity="0.7"/>
<line x1="409.7" y1="134.91" x2="417.7" y2="134.91" stroke="#0000ff" stroke-width="1.0" stroke-opacity="0.45"/>
<rect x="411.8" y="134.31" width="1.8" height="1.2" fill="#0000ff" fill-opacity="0.7"/>
<rect x="387.3" y="54.5" width="47.5" height="81.8" fill="none" stroke="#7a7a7a" stroke-width="1"/>
<line x1="389.45" y1="136.3" x2="389.45" y2="138.3" stroke="#7a7a7a" stroke-width="0.8"/>
<text x="389.45" y="145.7" font-size="6.6" text-anchor="middle" font-weight="bold" fill="#1a1a1a" stroke="#1a1a1a" stroke-width="0.2">−2</text>
<line x1="400.25" y1="136.3" x2="400.25" y2="138.3" stroke="#7a7a7a" stroke-width="0.8"/>
<text x="400.25" y="145.7" font-size="6.6" text-anchor="middle" font-weight="bold" fill="#1a1a1a" stroke="#1a1a1a" stroke-width="0.2">−1</text>
<line x1="411.05" y1="136.3" x2="411.05" y2="138.3" stroke="#7a7a7a" stroke-width="0.8"/>
<text x="411.05" y="145.7" font-size="6.6" text-anchor="middle" font-weight="bold" fill="#1a1a1a" stroke="#1a1a1a" stroke-width="0.2">0</text>
<line x1="421.85" y1="136.3" x2="421.85" y2="138.3" stroke="#7a7a7a" stroke-width="0.8"/>
<text x="421.85" y="145.7" font-size="6.6" text-anchor="middle" font-weight="bold" fill="#1a1a1a" stroke="#1a1a1a" stroke-width="0.2">1</text>
<line x1="432.65" y1="136.3" x2="432.65" y2="138.3" stroke="#7a7a7a" stroke-width="0.8"/>
<text x="432.65" y="145.7" font-size="6.6" text-anchor="middle" font-weight="bold" fill="#1a1a1a" stroke="#1a1a1a" stroke-width="0.2">2</text>
<rect x="439.5" y="40.3" width="47.5" height="14.2" fill="#d9d9d9" stroke="#7a7a7a" stroke-width="1"/>
<text x="463.25" y="49.9" font-size="7.1" text-anchor="middle" fill="#222" stroke="#222" stroke-width="0.2">Support</text>
<line x1="447.05" y1="54.5" x2="447.05" y2="136.3" stroke="#f3f3f3" stroke-width="0.6"/>
<line x1="457.85" y1="54.5" x2="457.85" y2="136.3" stroke="#f3f3f3" stroke-width="0.6"/>
<line x1="468.65" y1="54.5" x2="468.65" y2="136.3" stroke="#f3f3f3" stroke-width="0.6"/>
<line x1="479.45" y1="54.5" x2="479.45" y2="136.3" stroke="#f3f3f3" stroke-width="0.6"/>
<line x1="441.65" y1="54.5" x2="441.65" y2="136.3" stroke="#e6e6e6" stroke-width="0.8"/>
<line x1="452.45" y1="54.5" x2="452.45" y2="136.3" stroke="#e6e6e6" stroke-width="0.8"/>
<line x1="463.25" y1="54.5" x2="463.25" y2="136.3" stroke="#e6e6e6" stroke-width="0.8"/>
<line x1="474.05" y1="54.5" x2="474.05" y2="136.3" stroke="#e6e6e6" stroke-width="0.8"/>
<line x1="484.85" y1="54.5" x2="484.85" y2="136.3" stroke="#e6e6e6" stroke-width="0.8"/>
<line x1="439.5" y1="56.6" x2="487" y2="56.6" stroke="#e6e6e6" stroke-width="0.8"/>
<line x1="439.5" y1="60.01" x2="487" y2="60.01" stroke="#e6e6e6" stroke-width="0.8"/>
<line x1="439.5" y1="63.41" x2="487" y2="63.41" stroke="#e6e6e6" stroke-width="0.8"/>
<line x1="439.5" y1="66.81" x2="487" y2="66.81" stroke="#e6e6e6" stroke-width="0.8"/>
<line x1="439.5" y1="70.22" x2="487" y2="70.22" stroke="#e6e6e6" stroke-width="0.8"/>
<line x1="439.5" y1="73.62" x2="487" y2="73.62" stroke="#e6e6e6" stroke-width="0.8"/>
<line x1="439.5" y1="77.03" x2="487" y2="77.03" stroke="#e6e6e6" stroke-width="0.8"/>
<line x1="439.5" y1="80.44" x2="487" y2="80.44" stroke="#e6e6e6" stroke-width="0.8"/>
<line x1="439.5" y1="83.84" x2="487" y2="83.84" stroke="#e6e6e6" stroke-width="0.8"/>
<line x1="439.5" y1="87.25" x2="487" y2="87.25" stroke="#e6e6e6" stroke-width="0.8"/>
<line x1="439.5" y1="90.65" x2="487" y2="90.65" stroke="#e6e6e6" stroke-width="0.8"/>
<line x1="439.5" y1="94.06" x2="487" y2="94.06" stroke="#e6e6e6" stroke-width="0.8"/>
<line x1="439.5" y1="97.46" x2="487" y2="97.46" stroke="#e6e6e6" stroke-width="0.8"/>
<line x1="439.5" y1="100.87" x2="487" y2="100.87" stroke="#e6e6e6" stroke-width="0.8"/>
<line x1="439.5" y1="104.27" x2="487" y2="104.27" stroke="#e6e6e6" stroke-width="0.8"/>
<line x1="439.5" y1="107.67" x2="487" y2="107.67" stroke="#e6e6e6" stroke-width="0.8"/>
<line x1="439.5" y1="111.08" x2="487" y2="111.08" stroke="#e6e6e6" stroke-width="0.8"/>
<line x1="439.5" y1="114.48" x2="487" y2="114.48" stroke="#e6e6e6" stroke-width="0.8"/>
<line x1="439.5" y1="117.89" x2="487" y2="117.89" stroke="#e6e6e6" stroke-width="0.8"/>
<line x1="439.5" y1="121.29" x2="487" y2="121.29" stroke="#e6e6e6" stroke-width="0.8"/>
<line x1="439.5" y1="124.7" x2="487" y2="124.7" stroke="#e6e6e6" stroke-width="0.8"/>
<line x1="439.5" y1="128.1" x2="487" y2="128.1" stroke="#e6e6e6" stroke-width="0.8"/>
<line x1="439.5" y1="131.51" x2="487" y2="131.51" stroke="#e6e6e6" stroke-width="0.8"/>
<line x1="439.5" y1="134.91" x2="487" y2="134.91" stroke="#e6e6e6" stroke-width="0.8"/>
<line x1="463.25" y1="54.5" x2="463.25" y2="136.3" stroke="#b0b0b0" stroke-width="0.7"/>
<line x1="451.4" y1="56.6" x2="461.2" y2="56.6" stroke="#ff0000" stroke-width="1.0" stroke-opacity="0.45"/>
<rect x="455.2" y="56" width="1.8" height="1.2" fill="#ff0000" fill-opacity="0.7"/>
<line x1="458.3" y1="60.01" x2="467.9" y2="60.01" stroke="#ff0000" stroke-width="1.0" stroke-opacity="0.45"/>
<rect x="461.9" y="59.41" width="1.8" height="1.2" fill="#ff0000" fill-opacity="0.7"/>
<line x1="473.3" y1="63.41" x2="482.8" y2="63.41" stroke="#ff0000" stroke-width="1.0" stroke-opacity="0.45"/>
<rect x="477.2" y="62.81" width="1.8" height="1.2" fill="#ff0000" fill-opacity="0.7"/>
<line x1="462.5" y1="66.81" x2="471.7" y2="66.81" stroke="#ff0000" stroke-width="1.0" stroke-opacity="0.45"/>
<rect x="466.3" y="66.22" width="1.8" height="1.2" fill="#ff0000" fill-opacity="0.7"/>
<line x1="451.4" y1="70.22" x2="460.8" y2="70.22" stroke="#ff0000" stroke-width="1.0" stroke-opacity="0.45"/>
<rect x="455.2" y="69.62" width="1.8" height="1.2" fill="#ff0000" fill-opacity="0.7"/>
<line x1="454.8" y1="73.62" x2="464.1" y2="73.62" stroke="#ff0000" stroke-width="1.0" stroke-opacity="0.45"/>
<rect x="458.6" y="73.03" width="1.8" height="1.2" fill="#ff0000" fill-opacity="0.7"/>
<line x1="459" y1="77.03" x2="468.4" y2="77.03" stroke="#ff0000" stroke-width="1.0" stroke-opacity="0.45"/>
<rect x="462.8" y="76.43" width="1.8" height="1.2" fill="#ff0000" fill-opacity="0.7"/>
<line x1="459" y1="80.44" x2="468.4" y2="80.44" stroke="#ff0000" stroke-width="1.0" stroke-opacity="0.45"/>
<rect x="462.8" y="79.84" width="1.8" height="1.2" fill="#ff0000" fill-opacity="0.7"/>
<line x1="452.3" y1="83.84" x2="461.6" y2="83.84" stroke="#ff0000" stroke-width="1.0" stroke-opacity="0.45"/>
<rect x="456.1" y="83.24" width="1.8" height="1.2" fill="#ff0000" fill-opacity="0.7"/>
<line x1="454.8" y1="87.25" x2="464.1" y2="87.25" stroke="#ff0000" stroke-width="1.0" stroke-opacity="0.45"/>
<rect x="458.6" y="86.65" width="1.8" height="1.2" fill="#ff0000" fill-opacity="0.7"/>
<line x1="461.2" y1="90.65" x2="470.7" y2="90.65" stroke="#ff0000" stroke-width="1.0" stroke-opacity="0.45"/>
<rect x="465" y="90.05" width="1.8" height="1.2" fill="#ff0000" fill-opacity="0.7"/>
<line x1="465.4" y1="94.06" x2="474.8" y2="94.06" stroke="#ff0000" stroke-width="1.0" stroke-opacity="0.45"/>
<rect x="469.2" y="93.46" width="1.8" height="1.2" fill="#ff0000" fill-opacity="0.7"/>
<line x1="460.9" y1="97.46" x2="470.5" y2="97.46" stroke="#ff0000" stroke-width="1.0" stroke-opacity="0.45"/>
<rect x="464.7" y="96.86" width="1.8" height="1.2" fill="#ff0000" fill-opacity="0.7"/>
<line x1="452.7" y1="100.87" x2="462.1" y2="100.87" stroke="#ff0000" stroke-width="1.0" stroke-opacity="0.45"/>
<rect x="456.5" y="100.27" width="1.8" height="1.2" fill="#ff0000" fill-opacity="0.7"/>
<line x1="462.5" y1="104.27" x2="471.5" y2="104.27" stroke="#ff0000" stroke-width="1.0" stroke-opacity="0.45"/>
<rect x="466" y="103.67" width="1.8" height="1.2" fill="#ff0000" fill-opacity="0.7"/>
<line x1="459" y1="107.67" x2="468.4" y2="107.67" stroke="#ff0000" stroke-width="1.0" stroke-opacity="0.45"/>
<rect x="462.8" y="107.08" width="1.8" height="1.2" fill="#ff0000" fill-opacity="0.7"/>
<rect x="439.5" y="54.5" width="47.5" height="81.8" fill="none" stroke="#7a7a7a" stroke-width="1"/>
<line x1="441.65" y1="136.3" x2="441.65" y2="138.3" stroke="#7a7a7a" stroke-width="0.8"/>
<text x="441.65" y="145.7" font-size="6.6" text-anchor="middle" font-weight="bold" fill="#1a1a1a" stroke="#1a1a1a" stroke-width="0.2">−2</text>
<line x1="452.45" y1="136.3" x2="452.45" y2="138.3" stroke="#7a7a7a" stroke-width="0.8"/>
<text x="452.45" y="145.7" font-size="6.6" text-anchor="middle" font-weight="bold" fill="#1a1a1a" stroke="#1a1a1a" stroke-width="0.2">−1</text>
<line x1="463.25" y1="136.3" x2="463.25" y2="138.3" stroke="#7a7a7a" stroke-width="0.8"/>
<text x="463.25" y="145.7" font-size="6.6" text-anchor="middle" font-weight="bold" fill="#1a1a1a" stroke="#1a1a1a" stroke-width="0.2">0</text>
<line x1="474.05" y1="136.3" x2="474.05" y2="138.3" stroke="#7a7a7a" stroke-width="0.8"/>
<text x="474.05" y="145.7" font-size="6.6" text-anchor="middle" font-weight="bold" fill="#1a1a1a" stroke="#1a1a1a" stroke-width="0.2">1</text>
<line x1="484.85" y1="136.3" x2="484.85" y2="138.3" stroke="#7a7a7a" stroke-width="0.8"/>
<text x="484.85" y="145.7" font-size="6.6" text-anchor="middle" font-weight="bold" fill="#1a1a1a" stroke="#1a1a1a" stroke-width="0.2">2</text>
<rect x="492" y="40.3" width="47.6" height="14.2" fill="#d9d9d9" stroke="#7a7a7a" stroke-width="1"/>
<text x="515.8" y="49.9" font-size="7.1" text-anchor="middle" fill="#222" stroke="#222" stroke-width="0.2">No Support</text>
<line x1="499.6" y1="54.5" x2="499.6" y2="136.3" stroke="#f3f3f3" stroke-width="0.6"/>
<line x1="510.4" y1="54.5" x2="510.4" y2="136.3" stroke="#f3f3f3" stroke-width="0.6"/>
<line x1="521.2" y1="54.5" x2="521.2" y2="136.3" stroke="#f3f3f3" stroke-width="0.6"/>
<line x1="532" y1="54.5" x2="532" y2="136.3" stroke="#f3f3f3" stroke-width="0.6"/>
<line x1="494.2" y1="54.5" x2="494.2" y2="136.3" stroke="#e6e6e6" stroke-width="0.8"/>
<line x1="505" y1="54.5" x2="505" y2="136.3" stroke="#e6e6e6" stroke-width="0.8"/>
<line x1="515.8" y1="54.5" x2="515.8" y2="136.3" stroke="#e6e6e6" stroke-width="0.8"/>
<line x1="526.6" y1="54.5" x2="526.6" y2="136.3" stroke="#e6e6e6" stroke-width="0.8"/>
<line x1="537.4" y1="54.5" x2="537.4" y2="136.3" stroke="#e6e6e6" stroke-width="0.8"/>
<line x1="492" y1="56.6" x2="539.6" y2="56.6" stroke="#e6e6e6" stroke-width="0.8"/>
<line x1="492" y1="60.01" x2="539.6" y2="60.01" stroke="#e6e6e6" stroke-width="0.8"/>
<line x1="492" y1="63.41" x2="539.6" y2="63.41" stroke="#e6e6e6" stroke-width="0.8"/>
<line x1="492" y1="66.81" x2="539.6" y2="66.81" stroke="#e6e6e6" stroke-width="0.8"/>
<line x1="492" y1="70.22" x2="539.6" y2="70.22" stroke="#e6e6e6" stroke-width="0.8"/>
<line x1="492" y1="73.62" x2="539.6" y2="73.62" stroke="#e6e6e6" stroke-width="0.8"/>
<line x1="492" y1="77.03" x2="539.6" y2="77.03" stroke="#e6e6e6" stroke-width="0.8"/>
<line x1="492" y1="80.44" x2="539.6" y2="80.44" stroke="#e6e6e6" stroke-width="0.8"/>
<line x1="492" y1="83.84" x2="539.6" y2="83.84" stroke="#e6e6e6" stroke-width="0.8"/>
<line x1="492" y1="87.25" x2="539.6" y2="87.25" stroke="#e6e6e6" stroke-width="0.8"/>
<line x1="492" y1="90.65" x2="539.6" y2="90.65" stroke="#e6e6e6" stroke-width="0.8"/>
<line x1="492" y1="94.06" x2="539.6" y2="94.06" stroke="#e6e6e6" stroke-width="0.8"/>
<line x1="492" y1="97.46" x2="539.6" y2="97.46" stroke="#e6e6e6" stroke-width="0.8"/>
<line x1="492" y1="100.87" x2="539.6" y2="100.87" stroke="#e6e6e6" stroke-width="0.8"/>
<line x1="492" y1="104.27" x2="539.6" y2="104.27" stroke="#e6e6e6" stroke-width="0.8"/>
<line x1="492" y1="107.67" x2="539.6" y2="107.67" stroke="#e6e6e6" stroke-width="0.8"/>
<line x1="492" y1="111.08" x2="539.6" y2="111.08" stroke="#e6e6e6" stroke-width="0.8"/>
<line x1="492" y1="114.48" x2="539.6" y2="114.48" stroke="#e6e6e6" stroke-width="0.8"/>
<line x1="492" y1="117.89" x2="539.6" y2="117.89" stroke="#e6e6e6" stroke-width="0.8"/>
<line x1="492" y1="121.29" x2="539.6" y2="121.29" stroke="#e6e6e6" stroke-width="0.8"/>
<line x1="492" y1="124.7" x2="539.6" y2="124.7" stroke="#e6e6e6" stroke-width="0.8"/>
<line x1="492" y1="128.1" x2="539.6" y2="128.1" stroke="#e6e6e6" stroke-width="0.8"/>
<line x1="492" y1="131.51" x2="539.6" y2="131.51" stroke="#e6e6e6" stroke-width="0.8"/>
<line x1="492" y1="134.91" x2="539.6" y2="134.91" stroke="#e6e6e6" stroke-width="0.8"/>
<line x1="515.8" y1="54.5" x2="515.8" y2="136.3" stroke="#b0b0b0" stroke-width="0.7"/>
<line x1="513.3" y1="111.08" x2="521.5" y2="111.08" stroke="#0000ff" stroke-width="1.0" stroke-opacity="0.45"/>
<rect x="516.3" y="110.48" width="1.8" height="1.2" fill="#0000ff" fill-opacity="0.7"/>
<line x1="513.2" y1="114.48" x2="521.2" y2="114.48" stroke="#0000ff" stroke-width="1.0" stroke-opacity="0.45"/>
<rect x="516.3" y="113.89" width="1.8" height="1.2" fill="#0000ff" fill-opacity="0.7"/>
<line x1="508.5" y1="117.89" x2="516.2" y2="117.89" stroke="#0000ff" stroke-width="1.0" stroke-opacity="0.45"/>
<rect x="511.3" y="117.29" width="1.8" height="1.2" fill="#0000ff" fill-opacity="0.7"/>
<line x1="509.5" y1="121.29" x2="517.2" y2="121.29" stroke="#0000ff" stroke-width="1.0" stroke-opacity="0.45"/>
<rect x="512.6" y="120.69" width="1.8" height="1.2" fill="#0000ff" fill-opacity="0.7"/>
<line x1="511" y1="124.7" x2="518.8" y2="124.7" stroke="#0000ff" stroke-width="1.0" stroke-opacity="0.45"/>
<rect x="514.1" y="124.1" width="1.8" height="1.2" fill="#0000ff" fill-opacity="0.7"/>
<line x1="510.8" y1="128.1" x2="518.8" y2="128.1" stroke="#0000ff" stroke-width="1.0" stroke-opacity="0.45"/>
<rect x="513.6" y="127.5" width="1.8" height="1.2" fill="#0000ff" fill-opacity="0.7"/>
<line x1="512" y1="131.51" x2="519.5" y2="131.51" stroke="#0000ff" stroke-width="1.0" stroke-opacity="0.45"/>
<rect x="514.6" y="130.91" width="1.8" height="1.2" fill="#0000ff" fill-opacity="0.7"/>
<line x1="515.2" y1="134.91" x2="523" y2="134.91" stroke="#0000ff" stroke-width="1.0" stroke-opacity="0.45"/>
<rect x="518.1" y="134.31" width="1.8" height="1.2" fill="#0000ff" fill-opacity="0.7"/>
<rect x="492" y="54.5" width="47.6" height="81.8" fill="none" stroke="#7a7a7a" stroke-width="1"/>
<line x1="494.2" y1="136.3" x2="494.2" y2="138.3" stroke="#7a7a7a" stroke-width="0.8"/>
<text x="494.2" y="145.7" font-size="6.6" text-anchor="middle" font-weight="bold" fill="#1a1a1a" stroke="#1a1a1a" stroke-width="0.2">−2</text>
<line x1="505" y1="136.3" x2="505" y2="138.3" stroke="#7a7a7a" stroke-width="0.8"/>
<text x="505" y="145.7" font-size="6.6" text-anchor="middle" font-weight="bold" fill="#1a1a1a" stroke="#1a1a1a" stroke-width="0.2">−1</text>
<line x1="515.8" y1="136.3" x2="515.8" y2="138.3" stroke="#7a7a7a" stroke-width="0.8"/>
<text x="515.8" y="145.7" font-size="6.6" text-anchor="middle" font-weight="bold" fill="#1a1a1a" stroke="#1a1a1a" stroke-width="0.2">0</text>
<line x1="526.6" y1="136.3" x2="526.6" y2="138.3" stroke="#7a7a7a" stroke-width="0.8"/>
<text x="526.6" y="145.7" font-size="6.6" text-anchor="middle" font-weight="bold" fill="#1a1a1a" stroke="#1a1a1a" stroke-width="0.2">1</text>
<line x1="537.4" y1="136.3" x2="537.4" y2="138.3" stroke="#7a7a7a" stroke-width="0.8"/>
<text x="537.4" y="145.7" font-size="6.6" text-anchor="middle" font-weight="bold" fill="#1a1a1a" stroke="#1a1a1a" stroke-width="0.2">2</text>
<line x1="385.1" y1="56.6" x2="387.3" y2="56.6" stroke="#7a7a7a" stroke-width="0.8"/>
<text transform="translate(382.9,56.6) rotate(-90)" font-size="3.1" font-weight="bold" text-anchor="middle" fill="#333">1</text>
<line x1="385.1" y1="60.01" x2="387.3" y2="60.01" stroke="#7a7a7a" stroke-width="0.8"/>
<text transform="translate(382.9,60.01) rotate(-90)" font-size="3.1" font-weight="bold" text-anchor="middle" fill="#333">2</text>
<line x1="385.1" y1="63.41" x2="387.3" y2="63.41" stroke="#7a7a7a" stroke-width="0.8"/>
<text transform="translate(382.9,63.41) rotate(-90)" font-size="3.1" font-weight="bold" text-anchor="middle" fill="#333">3</text>
<line x1="385.1" y1="66.81" x2="387.3" y2="66.81" stroke="#7a7a7a" stroke-width="0.8"/>
<text transform="translate(382.9,66.81) rotate(-90)" font-size="3.1" font-weight="bold" text-anchor="middle" fill="#333">4</text>
<line x1="385.1" y1="70.22" x2="387.3" y2="70.22" stroke="#7a7a7a" stroke-width="0.8"/>
<text transform="translate(382.9,70.22) rotate(-90)" font-size="3.1" font-weight="bold" text-anchor="middle" fill="#333">5</text>
<line x1="385.1" y1="73.62" x2="387.3" y2="73.62" stroke="#7a7a7a" stroke-width="0.8"/>
<text transform="translate(382.9,73.62) rotate(-90)" font-size="3.1" font-weight="bold" text-anchor="middle" fill="#333">6</text>
<line x1="385.1" y1="77.03" x2="387.3" y2="77.03" stroke="#7a7a7a" stroke-width="0.8"/>
<text transform="translate(382.9,77.03) rotate(-90)" font-size="3.1" font-weight="bold" text-anchor="middle" fill="#333">7</text>
<line x1="385.1" y1="80.44" x2="387.3" y2="80.44" stroke="#7a7a7a" stroke-width="0.8"/>
<text transform="translate(382.9,80.44) rotate(-90)" font-size="3.1" font-weight="bold" text-anchor="middle" fill="#333">8</text>
<line x1="385.1" y1="83.84" x2="387.3" y2="83.84" stroke="#7a7a7a" stroke-width="0.8"/>
<text transform="translate(382.9,83.84) rotate(-90)" font-size="3.1" font-weight="bold" text-anchor="middle" fill="#333">9</text>
<line x1="385.1" y1="87.25" x2="387.3" y2="87.25" stroke="#7a7a7a" stroke-width="0.8"/>
<text transform="translate(382.9,87.25) rotate(-90)" font-size="3.1" font-weight="bold" text-anchor="middle" fill="#333">10</text>
<line x1="385.1" y1="90.65" x2="387.3" y2="90.65" stroke="#7a7a7a" stroke-width="0.8"/>
<text transform="translate(382.9,90.65) rotate(-90)" font-size="3.1" font-weight="bold" text-anchor="middle" fill="#333">11</text>
<line x1="385.1" y1="94.06" x2="387.3" y2="94.06" stroke="#7a7a7a" stroke-width="0.8"/>
<text transform="translate(382.9,94.06) rotate(-90)" font-size="3.1" font-weight="bold" text-anchor="middle" fill="#333">12</text>
<line x1="385.1" y1="97.46" x2="387.3" y2="97.46" stroke="#7a7a7a" stroke-width="0.8"/>
<text transform="translate(382.9,97.46) rotate(-90)" font-size="3.1" font-weight="bold" text-anchor="middle" fill="#333">13</text>
<line x1="385.1" y1="100.87" x2="387.3" y2="100.87" stroke="#7a7a7a" stroke-width="0.8"/>
<text transform="translate(382.9,100.87) rotate(-90)" font-size="3.1" font-weight="bold" text-anchor="middle" fill="#333">14</text>
<line x1="385.1" y1="104.27" x2="387.3" y2="104.27" stroke="#7a7a7a" stroke-width="0.8"/>
<text transform="translate(382.9,104.27) rotate(-90)" font-size="3.1" font-weight="bold" text-anchor="middle" fill="#333">15</text>
<line x1="385.1" y1="107.67" x2="387.3" y2="107.67" stroke="#7a7a7a" stroke-width="0.8"/>
<text transform="translate(382.9,107.67) rotate(-90)" font-size="3.1" font-weight="bold" text-anchor="middle" fill="#333">16</text>
<line x1="385.1" y1="111.08" x2="387.3" y2="111.08" stroke="#7a7a7a" stroke-width="0.8"/>
<text transform="translate(382.9,111.08) rotate(-90)" font-size="3.1" font-weight="bold" text-anchor="middle" fill="#333">17</text>
<line x1="385.1" y1="114.48" x2="387.3" y2="114.48" stroke="#7a7a7a" stroke-width="0.8"/>
<text transform="translate(382.9,114.48) rotate(-90)" font-size="3.1" font-weight="bold" text-anchor="middle" fill="#333">18</text>
<line x1="385.1" y1="117.89" x2="387.3" y2="117.89" stroke="#7a7a7a" stroke-width="0.8"/>
<text transform="translate(382.9,117.89) rotate(-90)" font-size="3.1" font-weight="bold" text-anchor="middle" fill="#333">19</text>
<line x1="385.1" y1="121.29" x2="387.3" y2="121.29" stroke="#7a7a7a" stroke-width="0.8"/>
<text transform="translate(382.9,121.29) rotate(-90)" font-size="3.1" font-weight="bold" text-anchor="middle" fill="#333">20</text>
<line x1="385.1" y1="124.7" x2="387.3" y2="124.7" stroke="#7a7a7a" stroke-width="0.8"/>
<text transform="translate(382.9,124.7) rotate(-90)" font-size="3.1" font-weight="bold" text-anchor="middle" fill="#333">21</text>
<line x1="385.1" y1="128.1" x2="387.3" y2="128.1" stroke="#7a7a7a" stroke-width="0.8"/>
<text transform="translate(382.9,128.1) rotate(-90)" font-size="3.1" font-weight="bold" text-anchor="middle" fill="#333">22</text>
<line x1="385.1" y1="131.51" x2="387.3" y2="131.51" stroke="#7a7a7a" stroke-width="0.8"/>
<text transform="translate(382.9,131.51) rotate(-90)" font-size="3.1" font-weight="bold" text-anchor="middle" fill="#333">23</text>
<line x1="385.1" y1="134.91" x2="387.3" y2="134.91" stroke="#7a7a7a" stroke-width="0.8"/>
<text transform="translate(382.9,134.91) rotate(-90)" font-size="3.1" font-weight="bold" text-anchor="middle" fill="#333">24</text>
<text x="390.8" y="33.3" font-size="11" text-anchor="start" font-weight="bold" fill="#000" stroke="#000" stroke-width="0.2">C</text>
<text x="463.45" y="157.8" font-size="9.2" text-anchor="middle" fill="#1a1a1a" stroke="#1a1a1a" stroke-width="0.2"><tspan font-size="10.2">(</tspan>mm<tspan dx="0.9" fill="#c4c4c4" stroke="#c4c4c4">/</tspan><tspan dx="0.9">min</tspan><tspan font-size="10.2">)</tspan></text>
<rect x="387.3" y="185.3" width="47.5" height="14.2" fill="#d9d9d9" stroke="#7a7a7a" stroke-width="1"/>
<text x="411.05" y="194.9" font-size="7.1" text-anchor="middle" fill="#222" stroke="#222" stroke-width="0.2">(Intercept)</text>
<line x1="394.85" y1="199.5" x2="394.85" y2="281.3" stroke="#f3f3f3" stroke-width="0.6"/>
<line x1="405.65" y1="199.5" x2="405.65" y2="281.3" stroke="#f3f3f3" stroke-width="0.6"/>
<line x1="416.45" y1="199.5" x2="416.45" y2="281.3" stroke="#f3f3f3" stroke-width="0.6"/>
<line x1="427.25" y1="199.5" x2="427.25" y2="281.3" stroke="#f3f3f3" stroke-width="0.6"/>
<line x1="389.45" y1="199.5" x2="389.45" y2="281.3" stroke="#e6e6e6" stroke-width="0.8"/>
<line x1="400.25" y1="199.5" x2="400.25" y2="281.3" stroke="#e6e6e6" stroke-width="0.8"/>
<line x1="411.05" y1="199.5" x2="411.05" y2="281.3" stroke="#e6e6e6" stroke-width="0.8"/>
<line x1="421.85" y1="199.5" x2="421.85" y2="281.3" stroke="#e6e6e6" stroke-width="0.8"/>
<line x1="432.65" y1="199.5" x2="432.65" y2="281.3" stroke="#e6e6e6" stroke-width="0.8"/>
<line x1="387.3" y1="201.6" x2="434.8" y2="201.6" stroke="#e6e6e6" stroke-width="0.8"/>
<line x1="387.3" y1="205" x2="434.8" y2="205" stroke="#e6e6e6" stroke-width="0.8"/>
<line x1="387.3" y1="208.41" x2="434.8" y2="208.41" stroke="#e6e6e6" stroke-width="0.8"/>
<line x1="387.3" y1="211.81" x2="434.8" y2="211.81" stroke="#e6e6e6" stroke-width="0.8"/>
<line x1="387.3" y1="215.22" x2="434.8" y2="215.22" stroke="#e6e6e6" stroke-width="0.8"/>
<line x1="387.3" y1="218.62" x2="434.8" y2="218.62" stroke="#e6e6e6" stroke-width="0.8"/>
<line x1="387.3" y1="222.03" x2="434.8" y2="222.03" stroke="#e6e6e6" stroke-width="0.8"/>
<line x1="387.3" y1="225.44" x2="434.8" y2="225.44" stroke="#e6e6e6" stroke-width="0.8"/>
<line x1="387.3" y1="228.84" x2="434.8" y2="228.84" stroke="#e6e6e6" stroke-width="0.8"/>
<line x1="387.3" y1="232.25" x2="434.8" y2="232.25" stroke="#e6e6e6" stroke-width="0.8"/>
<line x1="387.3" y1="235.65" x2="434.8" y2="235.65" stroke="#e6e6e6" stroke-width="0.8"/>
<line x1="387.3" y1="239.06" x2="434.8" y2="239.06" stroke="#e6e6e6" stroke-width="0.8"/>
<line x1="387.3" y1="242.46" x2="434.8" y2="242.46" stroke="#e6e6e6" stroke-width="0.8"/>
<line x1="387.3" y1="245.87" x2="434.8" y2="245.87" stroke="#e6e6e6" stroke-width="0.8"/>
<line x1="387.3" y1="249.27" x2="434.8" y2="249.27" stroke="#e6e6e6" stroke-width="0.8"/>
<line x1="387.3" y1="252.67" x2="434.8" y2="252.67" stroke="#e6e6e6" stroke-width="0.8"/>
<line x1="387.3" y1="256.08" x2="434.8" y2="256.08" stroke="#e6e6e6" stroke-width="0.8"/>
<line x1="387.3" y1="259.49" x2="434.8" y2="259.49" stroke="#e6e6e6" stroke-width="0.8"/>
<line x1="387.3" y1="262.89" x2="434.8" y2="262.89" stroke="#e6e6e6" stroke-width="0.8"/>
<line x1="387.3" y1="266.29" x2="434.8" y2="266.29" stroke="#e6e6e6" stroke-width="0.8"/>
<line x1="387.3" y1="269.7" x2="434.8" y2="269.7" stroke="#e6e6e6" stroke-width="0.8"/>
<line x1="387.3" y1="273.11" x2="434.8" y2="273.11" stroke="#e6e6e6" stroke-width="0.8"/>
<line x1="387.3" y1="276.51" x2="434.8" y2="276.51" stroke="#e6e6e6" stroke-width="0.8"/>
<line x1="387.3" y1="279.91" x2="434.8" y2="279.91" stroke="#e6e6e6" stroke-width="0.8"/>
<line x1="411.05" y1="199.5" x2="411.05" y2="281.3" stroke="#b0b0b0" stroke-width="0.7"/>
<line x1="410.4" y1="201.6" x2="411.7" y2="201.6" stroke="#ff0000" stroke-width="1.0" stroke-opacity="0.45"/>
<rect x="410.15" y="201" width="1.8" height="1.2" fill="#ff0000" fill-opacity="0.7"/>
<line x1="410.4" y1="205" x2="411.7" y2="205" stroke="#ff0000" stroke-width="1.0" stroke-opacity="0.45"/>
<rect x="410.15" y="204.41" width="1.8" height="1.2" fill="#ff0000" fill-opacity="0.7"/>
<line x1="410.4" y1="208.41" x2="411.7" y2="208.41" stroke="#ff0000" stroke-width="1.0" stroke-opacity="0.45"/>
<rect x="410.15" y="207.81" width="1.8" height="1.2" fill="#ff0000" fill-opacity="0.7"/>
<line x1="410.4" y1="211.81" x2="411.7" y2="211.81" stroke="#ff0000" stroke-width="1.0" stroke-opacity="0.45"/>
<rect x="410.15" y="211.22" width="1.8" height="1.2" fill="#ff0000" fill-opacity="0.7"/>
<line x1="410.4" y1="215.22" x2="411.7" y2="215.22" stroke="#ff0000" stroke-width="1.0" stroke-opacity="0.45"/>
<rect x="410.15" y="214.62" width="1.8" height="1.2" fill="#ff0000" fill-opacity="0.7"/>
<line x1="410.4" y1="218.62" x2="411.7" y2="218.62" stroke="#ff0000" stroke-width="1.0" stroke-opacity="0.45"/>
<rect x="410.15" y="218.03" width="1.8" height="1.2" fill="#ff0000" fill-opacity="0.7"/>
<line x1="410.4" y1="222.03" x2="411.7" y2="222.03" stroke="#ff0000" stroke-width="1.0" stroke-opacity="0.45"/>
<rect x="410.15" y="221.43" width="1.8" height="1.2" fill="#ff0000" fill-opacity="0.7"/>
<line x1="410.4" y1="225.44" x2="411.7" y2="225.44" stroke="#ff0000" stroke-width="1.0" stroke-opacity="0.45"/>
<rect x="410.15" y="224.84" width="1.8" height="1.2" fill="#ff0000" fill-opacity="0.7"/>
<line x1="410.4" y1="228.84" x2="411.7" y2="228.84" stroke="#ff0000" stroke-width="1.0" stroke-opacity="0.45"/>
<rect x="410.15" y="228.24" width="1.8" height="1.2" fill="#ff0000" fill-opacity="0.7"/>
<line x1="410.4" y1="232.25" x2="411.7" y2="232.25" stroke="#ff0000" stroke-width="1.0" stroke-opacity="0.45"/>
<rect x="410.15" y="231.65" width="1.8" height="1.2" fill="#ff0000" fill-opacity="0.7"/>
<line x1="410.4" y1="235.65" x2="411.7" y2="235.65" stroke="#ff0000" stroke-width="1.0" stroke-opacity="0.45"/>
<rect x="410.15" y="235.05" width="1.8" height="1.2" fill="#ff0000" fill-opacity="0.7"/>
<line x1="410.4" y1="239.06" x2="411.7" y2="239.06" stroke="#ff0000" stroke-width="1.0" stroke-opacity="0.45"/>
<rect x="410.15" y="238.46" width="1.8" height="1.2" fill="#ff0000" fill-opacity="0.7"/>
<line x1="410.4" y1="242.46" x2="411.7" y2="242.46" stroke="#ff0000" stroke-width="1.0" stroke-opacity="0.45"/>
<rect x="410.15" y="241.86" width="1.8" height="1.2" fill="#ff0000" fill-opacity="0.7"/>
<line x1="410.4" y1="245.87" x2="411.7" y2="245.87" stroke="#ff0000" stroke-width="1.0" stroke-opacity="0.45"/>
<rect x="410.15" y="245.27" width="1.8" height="1.2" fill="#ff0000" fill-opacity="0.7"/>
<line x1="410.4" y1="249.27" x2="411.7" y2="249.27" stroke="#ff0000" stroke-width="1.0" stroke-opacity="0.45"/>
<rect x="410.15" y="248.67" width="1.8" height="1.2" fill="#ff0000" fill-opacity="0.7"/>
<line x1="410.4" y1="252.67" x2="411.7" y2="252.67" stroke="#ff0000" stroke-width="1.0" stroke-opacity="0.45"/>
<rect x="410.15" y="252.07" width="1.8" height="1.2" fill="#ff0000" fill-opacity="0.7"/>
<line x1="410.4" y1="256.08" x2="411.7" y2="256.08" stroke="#0000ff" stroke-width="1.0" stroke-opacity="0.45"/>
<rect x="410.15" y="255.48" width="1.8" height="1.2" fill="#0000ff" fill-opacity="0.7"/>
<line x1="410.4" y1="259.49" x2="411.7" y2="259.49" stroke="#0000ff" stroke-width="1.0" stroke-opacity="0.45"/>
<rect x="410.15" y="258.88" width="1.8" height="1.2" fill="#0000ff" fill-opacity="0.7"/>
<line x1="410.4" y1="262.89" x2="411.7" y2="262.89" stroke="#0000ff" stroke-width="1.0" stroke-opacity="0.45"/>
<rect x="410.15" y="262.29" width="1.8" height="1.2" fill="#0000ff" fill-opacity="0.7"/>
<line x1="410.4" y1="266.29" x2="411.7" y2="266.29" stroke="#0000ff" stroke-width="1.0" stroke-opacity="0.45"/>
<rect x="410.15" y="265.69" width="1.8" height="1.2" fill="#0000ff" fill-opacity="0.7"/>
<line x1="410.4" y1="269.7" x2="411.7" y2="269.7" stroke="#0000ff" stroke-width="1.0" stroke-opacity="0.45"/>
<rect x="410.15" y="269.1" width="1.8" height="1.2" fill="#0000ff" fill-opacity="0.7"/>
<line x1="410.4" y1="273.11" x2="411.7" y2="273.11" stroke="#0000ff" stroke-width="1.0" stroke-opacity="0.45"/>
<rect x="410.15" y="272.5" width="1.8" height="1.2" fill="#0000ff" fill-opacity="0.7"/>
<line x1="410.4" y1="276.51" x2="411.7" y2="276.51" stroke="#0000ff" stroke-width="1.0" stroke-opacity="0.45"/>
<rect x="410.15" y="275.91" width="1.8" height="1.2" fill="#0000ff" fill-opacity="0.7"/>
<line x1="410.4" y1="279.91" x2="411.7" y2="279.91" stroke="#0000ff" stroke-width="1.0" stroke-opacity="0.45"/>
<rect x="410.15" y="279.31" width="1.8" height="1.2" fill="#0000ff" fill-opacity="0.7"/>
<rect x="387.3" y="199.5" width="47.5" height="81.8" fill="none" stroke="#7a7a7a" stroke-width="1"/>
<line x1="389.45" y1="281.3" x2="389.45" y2="283.3" stroke="#7a7a7a" stroke-width="0.8"/>
<text x="389.45" y="290.7" font-size="6.6" text-anchor="middle" font-weight="bold" fill="#1a1a1a" stroke="#1a1a1a" stroke-width="0.2">−2</text>
<line x1="400.25" y1="281.3" x2="400.25" y2="283.3" stroke="#7a7a7a" stroke-width="0.8"/>
<text x="400.25" y="290.7" font-size="6.6" text-anchor="middle" font-weight="bold" fill="#1a1a1a" stroke="#1a1a1a" stroke-width="0.2">−1</text>
<line x1="411.05" y1="281.3" x2="411.05" y2="283.3" stroke="#7a7a7a" stroke-width="0.8"/>
<text x="411.05" y="290.7" font-size="6.6" text-anchor="middle" font-weight="bold" fill="#1a1a1a" stroke="#1a1a1a" stroke-width="0.2">0</text>
<line x1="421.85" y1="281.3" x2="421.85" y2="283.3" stroke="#7a7a7a" stroke-width="0.8"/>
<text x="421.85" y="290.7" font-size="6.6" text-anchor="middle" font-weight="bold" fill="#1a1a1a" stroke="#1a1a1a" stroke-width="0.2">1</text>
<line x1="432.65" y1="281.3" x2="432.65" y2="283.3" stroke="#7a7a7a" stroke-width="0.8"/>
<text x="432.65" y="290.7" font-size="6.6" text-anchor="middle" font-weight="bold" fill="#1a1a1a" stroke="#1a1a1a" stroke-width="0.2">2</text>
<rect x="439.5" y="185.3" width="47.5" height="14.2" fill="#d9d9d9" stroke="#7a7a7a" stroke-width="1"/>
<text x="463.25" y="194.9" font-size="7.1" text-anchor="middle" fill="#222" stroke="#222" stroke-width="0.2">Support</text>
<line x1="447.05" y1="199.5" x2="447.05" y2="281.3" stroke="#f3f3f3" stroke-width="0.6"/>
<line x1="457.85" y1="199.5" x2="457.85" y2="281.3" stroke="#f3f3f3" stroke-width="0.6"/>
<line x1="468.65" y1="199.5" x2="468.65" y2="281.3" stroke="#f3f3f3" stroke-width="0.6"/>
<line x1="479.45" y1="199.5" x2="479.45" y2="281.3" stroke="#f3f3f3" stroke-width="0.6"/>
<line x1="441.65" y1="199.5" x2="441.65" y2="281.3" stroke="#e6e6e6" stroke-width="0.8"/>
<line x1="452.45" y1="199.5" x2="452.45" y2="281.3" stroke="#e6e6e6" stroke-width="0.8"/>
<line x1="463.25" y1="199.5" x2="463.25" y2="281.3" stroke="#e6e6e6" stroke-width="0.8"/>
<line x1="474.05" y1="199.5" x2="474.05" y2="281.3" stroke="#e6e6e6" stroke-width="0.8"/>
<line x1="484.85" y1="199.5" x2="484.85" y2="281.3" stroke="#e6e6e6" stroke-width="0.8"/>
<line x1="439.5" y1="201.6" x2="487" y2="201.6" stroke="#e6e6e6" stroke-width="0.8"/>
<line x1="439.5" y1="205" x2="487" y2="205" stroke="#e6e6e6" stroke-width="0.8"/>
<line x1="439.5" y1="208.41" x2="487" y2="208.41" stroke="#e6e6e6" stroke-width="0.8"/>
<line x1="439.5" y1="211.81" x2="487" y2="211.81" stroke="#e6e6e6" stroke-width="0.8"/>
<line x1="439.5" y1="215.22" x2="487" y2="215.22" stroke="#e6e6e6" stroke-width="0.8"/>
<line x1="439.5" y1="218.62" x2="487" y2="218.62" stroke="#e6e6e6" stroke-width="0.8"/>
<line x1="439.5" y1="222.03" x2="487" y2="222.03" stroke="#e6e6e6" stroke-width="0.8"/>
<line x1="439.5" y1="225.44" x2="487" y2="225.44" stroke="#e6e6e6" stroke-width="0.8"/>
<line x1="439.5" y1="228.84" x2="487" y2="228.84" stroke="#e6e6e6" stroke-width="0.8"/>
<line x1="439.5" y1="232.25" x2="487" y2="232.25" stroke="#e6e6e6" stroke-width="0.8"/>
<line x1="439.5" y1="235.65" x2="487" y2="235.65" stroke="#e6e6e6" stroke-width="0.8"/>
<line x1="439.5" y1="239.06" x2="487" y2="239.06" stroke="#e6e6e6" stroke-width="0.8"/>
<line x1="439.5" y1="242.46" x2="487" y2="242.46" stroke="#e6e6e6" stroke-width="0.8"/>
<line x1="439.5" y1="245.87" x2="487" y2="245.87" stroke="#e6e6e6" stroke-width="0.8"/>
<line x1="439.5" y1="249.27" x2="487" y2="249.27" stroke="#e6e6e6" stroke-width="0.8"/>
<line x1="439.5" y1="252.67" x2="487" y2="252.67" stroke="#e6e6e6" stroke-width="0.8"/>
<line x1="439.5" y1="256.08" x2="487" y2="256.08" stroke="#e6e6e6" stroke-width="0.8"/>
<line x1="439.5" y1="259.49" x2="487" y2="259.49" stroke="#e6e6e6" stroke-width="0.8"/>
<line x1="439.5" y1="262.89" x2="487" y2="262.89" stroke="#e6e6e6" stroke-width="0.8"/>
<line x1="439.5" y1="266.29" x2="487" y2="266.29" stroke="#e6e6e6" stroke-width="0.8"/>
<line x1="439.5" y1="269.7" x2="487" y2="269.7" stroke="#e6e6e6" stroke-width="0.8"/>
<line x1="439.5" y1="273.11" x2="487" y2="273.11" stroke="#e6e6e6" stroke-width="0.8"/>
<line x1="439.5" y1="276.51" x2="487" y2="276.51" stroke="#e6e6e6" stroke-width="0.8"/>
<line x1="439.5" y1="279.91" x2="487" y2="279.91" stroke="#e6e6e6" stroke-width="0.8"/>
<line x1="463.25" y1="199.5" x2="463.25" y2="281.3" stroke="#b0b0b0" stroke-width="0.7"/>
<line x1="458.1" y1="201.6" x2="461.3" y2="201.6" stroke="#ff0000" stroke-width="1.0" stroke-opacity="0.45"/>
<rect x="458.8" y="201" width="1.8" height="1.2" fill="#ff0000" fill-opacity="0.7"/>
<line x1="460.1" y1="205" x2="463.3" y2="205" stroke="#ff0000" stroke-width="1.0" stroke-opacity="0.45"/>
<rect x="460.8" y="204.41" width="1.8" height="1.2" fill="#ff0000" fill-opacity="0.7"/>
<line x1="477.2" y1="208.41" x2="480.4" y2="208.41" stroke="#ff0000" stroke-width="1.0" stroke-opacity="0.45"/>
<rect x="477.9" y="207.81" width="1.8" height="1.2" fill="#ff0000" fill-opacity="0.7"/>
<line x1="461.6" y1="211.81" x2="464.8" y2="211.81" stroke="#ff0000" stroke-width="1.0" stroke-opacity="0.45"/>
<rect x="462.3" y="211.22" width="1.8" height="1.2" fill="#ff0000" fill-opacity="0.7"/>
<line x1="456.6" y1="215.22" x2="459.8" y2="215.22" stroke="#ff0000" stroke-width="1.0" stroke-opacity="0.45"/>
<rect x="457.3" y="214.62" width="1.8" height="1.2" fill="#ff0000" fill-opacity="0.7"/>
<line x1="461.1" y1="218.62" x2="464.3" y2="218.62" stroke="#ff0000" stroke-width="1.0" stroke-opacity="0.45"/>
<rect x="461.8" y="218.03" width="1.8" height="1.2" fill="#ff0000" fill-opacity="0.7"/>
<line x1="463.4" y1="222.03" x2="466.6" y2="222.03" stroke="#ff0000" stroke-width="1.0" stroke-opacity="0.45"/>
<rect x="464.1" y="221.43" width="1.8" height="1.2" fill="#ff0000" fill-opacity="0.7"/>
<line x1="463.1" y1="225.44" x2="466.3" y2="225.44" stroke="#ff0000" stroke-width="1.0" stroke-opacity="0.45"/>
<rect x="463.8" y="224.84" width="1.8" height="1.2" fill="#ff0000" fill-opacity="0.7"/>
<line x1="457.8" y1="228.84" x2="461" y2="228.84" stroke="#ff0000" stroke-width="1.0" stroke-opacity="0.45"/>
<rect x="458.5" y="228.24" width="1.8" height="1.2" fill="#ff0000" fill-opacity="0.7"/>
<line x1="458.9" y1="232.25" x2="462.1" y2="232.25" stroke="#ff0000" stroke-width="1.0" stroke-opacity="0.45"/>
<rect x="459.6" y="231.65" width="1.8" height="1.2" fill="#ff0000" fill-opacity="0.7"/>
<line x1="462.2" y1="235.65" x2="465.4" y2="235.65" stroke="#ff0000" stroke-width="1.0" stroke-opacity="0.45"/>
<rect x="462.9" y="235.05" width="1.8" height="1.2" fill="#ff0000" fill-opacity="0.7"/>
<line x1="464.1" y1="239.06" x2="467.3" y2="239.06" stroke="#ff0000" stroke-width="1.0" stroke-opacity="0.45"/>
<rect x="464.8" y="238.46" width="1.8" height="1.2" fill="#ff0000" fill-opacity="0.7"/>
<line x1="461.1" y1="242.46" x2="464.3" y2="242.46" stroke="#ff0000" stroke-width="1.0" stroke-opacity="0.45"/>
<rect x="461.8" y="241.86" width="1.8" height="1.2" fill="#ff0000" fill-opacity="0.7"/>
<line x1="457.8" y1="245.87" x2="461" y2="245.87" stroke="#ff0000" stroke-width="1.0" stroke-opacity="0.45"/>
<rect x="458.5" y="245.27" width="1.8" height="1.2" fill="#ff0000" fill-opacity="0.7"/>
<line x1="461.9" y1="249.27" x2="465.1" y2="249.27" stroke="#ff0000" stroke-width="1.0" stroke-opacity="0.45"/>
<rect x="462.6" y="248.67" width="1.8" height="1.2" fill="#ff0000" fill-opacity="0.7"/>
<line x1="460.1" y1="252.67" x2="463.3" y2="252.67" stroke="#ff0000" stroke-width="1.0" stroke-opacity="0.45"/>
<rect x="460.8" y="252.07" width="1.8" height="1.2" fill="#ff0000" fill-opacity="0.7"/>
<rect x="439.5" y="199.5" width="47.5" height="81.8" fill="none" stroke="#7a7a7a" stroke-width="1"/>
<line x1="441.65" y1="281.3" x2="441.65" y2="283.3" stroke="#7a7a7a" stroke-width="0.8"/>
<text x="441.65" y="290.7" font-size="6.6" text-anchor="middle" font-weight="bold" fill="#1a1a1a" stroke="#1a1a1a" stroke-width="0.2">−2</text>
<line x1="452.45" y1="281.3" x2="452.45" y2="283.3" stroke="#7a7a7a" stroke-width="0.8"/>
<text x="452.45" y="290.7" font-size="6.6" text-anchor="middle" font-weight="bold" fill="#1a1a1a" stroke="#1a1a1a" stroke-width="0.2">−1</text>
<line x1="463.25" y1="281.3" x2="463.25" y2="283.3" stroke="#7a7a7a" stroke-width="0.8"/>
<text x="463.25" y="290.7" font-size="6.6" text-anchor="middle" font-weight="bold" fill="#1a1a1a" stroke="#1a1a1a" stroke-width="0.2">0</text>
<line x1="474.05" y1="281.3" x2="474.05" y2="283.3" stroke="#7a7a7a" stroke-width="0.8"/>
<text x="474.05" y="290.7" font-size="6.6" text-anchor="middle" font-weight="bold" fill="#1a1a1a" stroke="#1a1a1a" stroke-width="0.2">1</text>
<line x1="484.85" y1="281.3" x2="484.85" y2="283.3" stroke="#7a7a7a" stroke-width="0.8"/>
<text x="484.85" y="290.7" font-size="6.6" text-anchor="middle" font-weight="bold" fill="#1a1a1a" stroke="#1a1a1a" stroke-width="0.2">2</text>
<rect x="492" y="185.3" width="47.6" height="14.2" fill="#d9d9d9" stroke="#7a7a7a" stroke-width="1"/>
<text x="515.8" y="194.9" font-size="7.1" text-anchor="middle" fill="#222" stroke="#222" stroke-width="0.2">No Support</text>
<line x1="499.6" y1="199.5" x2="499.6" y2="281.3" stroke="#f3f3f3" stroke-width="0.6"/>
<line x1="510.4" y1="199.5" x2="510.4" y2="281.3" stroke="#f3f3f3" stroke-width="0.6"/>
<line x1="521.2" y1="199.5" x2="521.2" y2="281.3" stroke="#f3f3f3" stroke-width="0.6"/>
<line x1="532" y1="199.5" x2="532" y2="281.3" stroke="#f3f3f3" stroke-width="0.6"/>
<line x1="494.2" y1="199.5" x2="494.2" y2="281.3" stroke="#e6e6e6" stroke-width="0.8"/>
<line x1="505" y1="199.5" x2="505" y2="281.3" stroke="#e6e6e6" stroke-width="0.8"/>
<line x1="515.8" y1="199.5" x2="515.8" y2="281.3" stroke="#e6e6e6" stroke-width="0.8"/>
<line x1="526.6" y1="199.5" x2="526.6" y2="281.3" stroke="#e6e6e6" stroke-width="0.8"/>
<line x1="537.4" y1="199.5" x2="537.4" y2="281.3" stroke="#e6e6e6" stroke-width="0.8"/>
<line x1="492" y1="201.6" x2="539.6" y2="201.6" stroke="#e6e6e6" stroke-width="0.8"/>
<line x1="492" y1="205" x2="539.6" y2="205" stroke="#e6e6e6" stroke-width="0.8"/>
<line x1="492" y1="208.41" x2="539.6" y2="208.41" stroke="#e6e6e6" stroke-width="0.8"/>
<line x1="492" y1="211.81" x2="539.6" y2="211.81" stroke="#e6e6e6" stroke-width="0.8"/>
<line x1="492" y1="215.22" x2="539.6" y2="215.22" stroke="#e6e6e6" stroke-width="0.8"/>
<line x1="492" y1="218.62" x2="539.6" y2="218.62" stroke="#e6e6e6" stroke-width="0.8"/>
<line x1="492" y1="222.03" x2="539.6" y2="222.03" stroke="#e6e6e6" stroke-width="0.8"/>
<line x1="492" y1="225.44" x2="539.6" y2="225.44" stroke="#e6e6e6" stroke-width="0.8"/>
<line x1="492" y1="228.84" x2="539.6" y2="228.84" stroke="#e6e6e6" stroke-width="0.8"/>
<line x1="492" y1="232.25" x2="539.6" y2="232.25" stroke="#e6e6e6" stroke-width="0.8"/>
<line x1="492" y1="235.65" x2="539.6" y2="235.65" stroke="#e6e6e6" stroke-width="0.8"/>
<line x1="492" y1="239.06" x2="539.6" y2="239.06" stroke="#e6e6e6" stroke-width="0.8"/>
<line x1="492" y1="242.46" x2="539.6" y2="242.46" stroke="#e6e6e6" stroke-width="0.8"/>
<line x1="492" y1="245.87" x2="539.6" y2="245.87" stroke="#e6e6e6" stroke-width="0.8"/>
<line x1="492" y1="249.27" x2="539.6" y2="249.27" stroke="#e6e6e6" stroke-width="0.8"/>
<line x1="492" y1="252.67" x2="539.6" y2="252.67" stroke="#e6e6e6" stroke-width="0.8"/>
<line x1="492" y1="256.08" x2="539.6" y2="256.08" stroke="#e6e6e6" stroke-width="0.8"/>
<line x1="492" y1="259.49" x2="539.6" y2="259.49" stroke="#e6e6e6" stroke-width="0.8"/>
<line x1="492" y1="262.89" x2="539.6" y2="262.89" stroke="#e6e6e6" stroke-width="0.8"/>
<line x1="492" y1="266.29" x2="539.6" y2="266.29" stroke="#e6e6e6" stroke-width="0.8"/>
<line x1="492" y1="269.7" x2="539.6" y2="269.7" stroke="#e6e6e6" stroke-width="0.8"/>
<line x1="492" y1="273.11" x2="539.6" y2="273.11" stroke="#e6e6e6" stroke-width="0.8"/>
<line x1="492" y1="276.51" x2="539.6" y2="276.51" stroke="#e6e6e6" stroke-width="0.8"/>
<line x1="492" y1="279.91" x2="539.6" y2="279.91" stroke="#e6e6e6" stroke-width="0.8"/>
<line x1="515.8" y1="199.5" x2="515.8" y2="281.3" stroke="#b0b0b0" stroke-width="0.7"/>
<line x1="514.6" y1="256.08" x2="517.8" y2="256.08" stroke="#0000ff" stroke-width="1.0" stroke-opacity="0.45"/>
<rect x="515.3" y="255.48" width="1.8" height="1.2" fill="#0000ff" fill-opacity="0.7"/>
<line x1="516.4" y1="259.49" x2="519.6" y2="259.49" stroke="#0000ff" stroke-width="1.0" stroke-opacity="0.45"/>
<rect x="517.1" y="258.88" width="1.8" height="1.2" fill="#0000ff" fill-opacity="0.7"/>
<line x1="510.9" y1="262.89" x2="514.1" y2="262.89" stroke="#0000ff" stroke-width="1.0" stroke-opacity="0.45"/>
<rect x="511.6" y="262.29" width="1.8" height="1.2" fill="#0000ff" fill-opacity="0.7"/>
<line x1="512.7" y1="266.29" x2="515.9" y2="266.29" stroke="#0000ff" stroke-width="1.0" stroke-opacity="0.45"/>
<rect x="513.4" y="265.69" width="1.8" height="1.2" fill="#0000ff" fill-opacity="0.7"/>
<line x1="513.9" y1="269.7" x2="517.1" y2="269.7" stroke="#0000ff" stroke-width="1.0" stroke-opacity="0.45"/>
<rect x="514.6" y="269.1" width="1.8" height="1.2" fill="#0000ff" fill-opacity="0.7"/>
<line x1="512.9" y1="273.11" x2="516.1" y2="273.11" stroke="#0000ff" stroke-width="1.0" stroke-opacity="0.45"/>
<rect x="513.6" y="272.5" width="1.8" height="1.2" fill="#0000ff" fill-opacity="0.7"/>
<line x1="513.2" y1="276.51" x2="516.4" y2="276.51" stroke="#0000ff" stroke-width="1.0" stroke-opacity="0.45"/>
<rect x="513.9" y="275.91" width="1.8" height="1.2" fill="#0000ff" fill-opacity="0.7"/>
<line x1="518.2" y1="279.91" x2="521.4" y2="279.91" stroke="#0000ff" stroke-width="1.0" stroke-opacity="0.45"/>
<rect x="518.9" y="279.31" width="1.8" height="1.2" fill="#0000ff" fill-opacity="0.7"/>
<rect x="492" y="199.5" width="47.6" height="81.8" fill="none" stroke="#7a7a7a" stroke-width="1"/>
<line x1="494.2" y1="281.3" x2="494.2" y2="283.3" stroke="#7a7a7a" stroke-width="0.8"/>
<text x="494.2" y="290.7" font-size="6.6" text-anchor="middle" font-weight="bold" fill="#1a1a1a" stroke="#1a1a1a" stroke-width="0.2">−2</text>
<line x1="505" y1="281.3" x2="505" y2="283.3" stroke="#7a7a7a" stroke-width="0.8"/>
<text x="505" y="290.7" font-size="6.6" text-anchor="middle" font-weight="bold" fill="#1a1a1a" stroke="#1a1a1a" stroke-width="0.2">−1</text>
<line x1="515.8" y1="281.3" x2="515.8" y2="283.3" stroke="#7a7a7a" stroke-width="0.8"/>
<text x="515.8" y="290.7" font-size="6.6" text-anchor="middle" font-weight="bold" fill="#1a1a1a" stroke="#1a1a1a" stroke-width="0.2">0</text>
<line x1="526.6" y1="281.3" x2="526.6" y2="283.3" stroke="#7a7a7a" stroke-width="0.8"/>
<text x="526.6" y="290.7" font-size="6.6" text-anchor="middle" font-weight="bold" fill="#1a1a1a" stroke="#1a1a1a" stroke-width="0.2">1</text>
<line x1="537.4" y1="281.3" x2="537.4" y2="283.3" stroke="#7a7a7a" stroke-width="0.8"/>
<text x="537.4" y="290.7" font-size="6.6" text-anchor="middle" font-weight="bold" fill="#1a1a1a" stroke="#1a1a1a" stroke-width="0.2">2</text>
<line x1="385.1" y1="201.6" x2="387.3" y2="201.6" stroke="#7a7a7a" stroke-width="0.8"/>
<text transform="translate(382.9,201.6) rotate(-90)" font-size="3.1" font-weight="bold" text-anchor="middle" fill="#333">1</text>
<line x1="385.1" y1="205" x2="387.3" y2="205" stroke="#7a7a7a" stroke-width="0.8"/>
<text transform="translate(382.9,205) rotate(-90)" font-size="3.1" font-weight="bold" text-anchor="middle" fill="#333">2</text>
<line x1="385.1" y1="208.41" x2="387.3" y2="208.41" stroke="#7a7a7a" stroke-width="0.8"/>
<text transform="translate(382.9,208.41) rotate(-90)" font-size="3.1" font-weight="bold" text-anchor="middle" fill="#333">3</text>
<line x1="385.1" y1="211.81" x2="387.3" y2="211.81" stroke="#7a7a7a" stroke-width="0.8"/>
<text transform="translate(382.9,211.81) rotate(-90)" font-size="3.1" font-weight="bold" text-anchor="middle" fill="#333">4</text>
<line x1="385.1" y1="215.22" x2="387.3" y2="215.22" stroke="#7a7a7a" stroke-width="0.8"/>
<text transform="translate(382.9,215.22) rotate(-90)" font-size="3.1" font-weight="bold" text-anchor="middle" fill="#333">5</text>
<line x1="385.1" y1="218.62" x2="387.3" y2="218.62" stroke="#7a7a7a" stroke-width="0.8"/>
<text transform="translate(382.9,218.62) rotate(-90)" font-size="3.1" font-weight="bold" text-anchor="middle" fill="#333">6</text>
<line x1="385.1" y1="222.03" x2="387.3" y2="222.03" stroke="#7a7a7a" stroke-width="0.8"/>
<text transform="translate(382.9,222.03) rotate(-90)" font-size="3.1" font-weight="bold" text-anchor="middle" fill="#333">7</text>
<line x1="385.1" y1="225.44" x2="387.3" y2="225.44" stroke="#7a7a7a" stroke-width="0.8"/>
<text transform="translate(382.9,225.44) rotate(-90)" font-size="3.1" font-weight="bold" text-anchor="middle" fill="#333">8</text>
<line x1="385.1" y1="228.84" x2="387.3" y2="228.84" stroke="#7a7a7a" stroke-width="0.8"/>
<text transform="translate(382.9,228.84) rotate(-90)" font-size="3.1" font-weight="bold" text-anchor="middle" fill="#333">9</text>
<line x1="385.1" y1="232.25" x2="387.3" y2="232.25" stroke="#7a7a7a" stroke-width="0.8"/>
<text transform="translate(382.9,232.25) rotate(-90)" font-size="3.1" font-weight="bold" text-anchor="middle" fill="#333">10</text>
<line x1="385.1" y1="235.65" x2="387.3" y2="235.65" stroke="#7a7a7a" stroke-width="0.8"/>
<text transform="translate(382.9,235.65) rotate(-90)" font-size="3.1" font-weight="bold" text-anchor="middle" fill="#333">11</text>
<line x1="385.1" y1="239.06" x2="387.3" y2="239.06" stroke="#7a7a7a" stroke-width="0.8"/>
<text transform="translate(382.9,239.06) rotate(-90)" font-size="3.1" font-weight="bold" text-anchor="middle" fill="#333">12</text>
<line x1="385.1" y1="242.46" x2="387.3" y2="242.46" stroke="#7a7a7a" stroke-width="0.8"/>
<text transform="translate(382.9,242.46) rotate(-90)" font-size="3.1" font-weight="bold" text-anchor="middle" fill="#333">13</text>
<line x1="385.1" y1="245.87" x2="387.3" y2="245.87" stroke="#7a7a7a" stroke-width="0.8"/>
<text transform="translate(382.9,245.87) rotate(-90)" font-size="3.1" font-weight="bold" text-anchor="middle" fill="#333">14</text>
<line x1="385.1" y1="249.27" x2="387.3" y2="249.27" stroke="#7a7a7a" stroke-width="0.8"/>
<text transform="translate(382.9,249.27) rotate(-90)" font-size="3.1" font-weight="bold" text-anchor="middle" fill="#333">15</text>
<line x1="385.1" y1="252.67" x2="387.3" y2="252.67" stroke="#7a7a7a" stroke-width="0.8"/>
<text transform="translate(382.9,252.67) rotate(-90)" font-size="3.1" font-weight="bold" text-anchor="middle" fill="#333">16</text>
<line x1="385.1" y1="256.08" x2="387.3" y2="256.08" stroke="#7a7a7a" stroke-width="0.8"/>
<text transform="translate(382.9,256.08) rotate(-90)" font-size="3.1" font-weight="bold" text-anchor="middle" fill="#333">17</text>
<line x1="385.1" y1="259.49" x2="387.3" y2="259.49" stroke="#7a7a7a" stroke-width="0.8"/>
<text transform="translate(382.9,259.49) rotate(-90)" font-size="3.1" font-weight="bold" text-anchor="middle" fill="#333">18</text>
<line x1="385.1" y1="262.89" x2="387.3" y2="262.89" stroke="#7a7a7a" stroke-width="0.8"/>
<text transform="translate(382.9,262.89) rotate(-90)" font-size="3.1" font-weight="bold" text-anchor="middle" fill="#333">19</text>
<line x1="385.1" y1="266.29" x2="387.3" y2="266.29" stroke="#7a7a7a" stroke-width="0.8"/>
<text transform="translate(382.9,266.29) rotate(-90)" font-size="3.1" font-weight="bold" text-anchor="middle" fill="#333">20</text>
<line x1="385.1" y1="269.7" x2="387.3" y2="269.7" stroke="#7a7a7a" stroke-width="0.8"/>
<text transform="translate(382.9,269.7) rotate(-90)" font-size="3.1" font-weight="bold" text-anchor="middle" fill="#333">21</text>
<line x1="385.1" y1="273.11" x2="387.3" y2="273.11" stroke="#7a7a7a" stroke-width="0.8"/>
<text transform="translate(382.9,273.11) rotate(-90)" font-size="3.1" font-weight="bold" text-anchor="middle" fill="#333">22</text>
<line x1="385.1" y1="276.51" x2="387.3" y2="276.51" stroke="#7a7a7a" stroke-width="0.8"/>
<text transform="translate(382.9,276.51) rotate(-90)" font-size="3.1" font-weight="bold" text-anchor="middle" fill="#333">23</text>
<line x1="385.1" y1="279.91" x2="387.3" y2="279.91" stroke="#7a7a7a" stroke-width="0.8"/>
<text transform="translate(382.9,279.91) rotate(-90)" font-size="3.1" font-weight="bold" text-anchor="middle" fill="#333">24</text>
<text x="390.6" y="178.5" font-size="11" text-anchor="start" font-weight="bold" fill="#000" stroke="#000" stroke-width="0.2">F</text>
<text x="463.45" y="303.2" font-size="9.2" text-anchor="middle" fill="#1a1a1a" stroke="#1a1a1a" stroke-width="0.2"><tspan font-size="10.2">(</tspan>mm<tspan dx="0.9" fill="#c4c4c4" stroke="#c4c4c4">/</tspan><tspan dx="0.9">min</tspan><tspan font-size="6.8" dy="-3.9">2</tspan><tspan dy="3.9" font-size="10.2">)</tspan></text>
<rect x="387.3" y="330.3" width="47.5" height="14.2" fill="#d9d9d9" stroke="#7a7a7a" stroke-width="1"/>
<text x="411.05" y="339.9" font-size="7.1" text-anchor="middle" fill="#222" stroke="#222" stroke-width="0.2">(Intercept)</text>
<line x1="394.9" y1="344.5" x2="394.9" y2="426.3" stroke="#f3f3f3" stroke-width="0.6"/>
<line x1="405.7" y1="344.5" x2="405.7" y2="426.3" stroke="#f3f3f3" stroke-width="0.6"/>
<line x1="416.5" y1="344.5" x2="416.5" y2="426.3" stroke="#f3f3f3" stroke-width="0.6"/>
<line x1="427.3" y1="344.5" x2="427.3" y2="426.3" stroke="#f3f3f3" stroke-width="0.6"/>
<line x1="389.5" y1="344.5" x2="389.5" y2="426.3" stroke="#e6e6e6" stroke-width="0.8"/>
<line x1="400.3" y1="344.5" x2="400.3" y2="426.3" stroke="#e6e6e6" stroke-width="0.8"/>
<line x1="411.1" y1="344.5" x2="411.1" y2="426.3" stroke="#e6e6e6" stroke-width="0.8"/>
<line x1="421.9" y1="344.5" x2="421.9" y2="426.3" stroke="#e6e6e6" stroke-width="0.8"/>
<line x1="432.7" y1="344.5" x2="432.7" y2="426.3" stroke="#e6e6e6" stroke-width="0.8"/>
<line x1="387.3" y1="346.6" x2="434.8" y2="346.6" stroke="#e6e6e6" stroke-width="0.8"/>
<line x1="387.3" y1="350" x2="434.8" y2="350" stroke="#e6e6e6" stroke-width="0.8"/>
<line x1="387.3" y1="353.41" x2="434.8" y2="353.41" stroke="#e6e6e6" stroke-width="0.8"/>
<line x1="387.3" y1="356.81" x2="434.8" y2="356.81" stroke="#e6e6e6" stroke-width="0.8"/>
<line x1="387.3" y1="360.22" x2="434.8" y2="360.22" stroke="#e6e6e6" stroke-width="0.8"/>
<line x1="387.3" y1="363.62" x2="434.8" y2="363.62" stroke="#e6e6e6" stroke-width="0.8"/>
<line x1="387.3" y1="367.03" x2="434.8" y2="367.03" stroke="#e6e6e6" stroke-width="0.8"/>
<line x1="387.3" y1="370.44" x2="434.8" y2="370.44" stroke="#e6e6e6" stroke-width="0.8"/>
<line x1="387.3" y1="373.84" x2="434.8" y2="373.84" stroke="#e6e6e6" stroke-width="0.8"/>
<line x1="387.3" y1="377.25" x2="434.8" y2="377.25" stroke="#e6e6e6" stroke-width="0.8"/>
<line x1="387.3" y1="380.65" x2="434.8" y2="380.65" stroke="#e6e6e6" stroke-width="0.8"/>
<line x1="387.3" y1="384.06" x2="434.8" y2="384.06" stroke="#e6e6e6" stroke-width="0.8"/>
<line x1="387.3" y1="387.46" x2="434.8" y2="387.46" stroke="#e6e6e6" stroke-width="0.8"/>
<line x1="387.3" y1="390.87" x2="434.8" y2="390.87" stroke="#e6e6e6" stroke-width="0.8"/>
<line x1="387.3" y1="394.27" x2="434.8" y2="394.27" stroke="#e6e6e6" stroke-width="0.8"/>
<line x1="387.3" y1="397.68" x2="434.8" y2="397.68" stroke="#e6e6e6" stroke-width="0.8"/>
<line x1="387.3" y1="401.08" x2="434.8" y2="401.08" stroke="#e6e6e6" stroke-width="0.8"/>
<line x1="387.3" y1="404.49" x2="434.8" y2="404.49" stroke="#e6e6e6" stroke-width="0.8"/>
<line x1="387.3" y1="407.89" x2="434.8" y2="407.89" stroke="#e6e6e6" stroke-width="0.8"/>
<line x1="387.3" y1="411.3" x2="434.8" y2="411.3" stroke="#e6e6e6" stroke-width="0.8"/>
<line x1="387.3" y1="414.7" x2="434.8" y2="414.7" stroke="#e6e6e6" stroke-width="0.8"/>
<line x1="387.3" y1="418.11" x2="434.8" y2="418.11" stroke="#e6e6e6" stroke-width="0.8"/>
<line x1="387.3" y1="421.51" x2="434.8" y2="421.51" stroke="#e6e6e6" stroke-width="0.8"/>
<line x1="387.3" y1="424.92" x2="434.8" y2="424.92" stroke="#e6e6e6" stroke-width="0.8"/>
<line x1="400.3" y1="344.5" x2="400.3" y2="426.3" stroke="#b0b0b0" stroke-width="0.7"/>
<line x1="399.22" y1="346.6" x2="401.38" y2="346.6" stroke="#ff0000" stroke-width="1.0" stroke-opacity="0.45"/>
<rect x="399.4" y="346" width="1.8" height="1.2" fill="#ff0000" fill-opacity="0.7"/>
<line x1="399.22" y1="350" x2="401.38" y2="350" stroke="#ff0000" stroke-width="1.0" stroke-opacity="0.45"/>
<rect x="399.4" y="349.4" width="1.8" height="1.2" fill="#ff0000" fill-opacity="0.7"/>
<line x1="399.22" y1="353.41" x2="401.38" y2="353.41" stroke="#ff0000" stroke-width="1.0" stroke-opacity="0.45"/>
<rect x="399.4" y="352.81" width="1.8" height="1.2" fill="#ff0000" fill-opacity="0.7"/>
<line x1="399.22" y1="356.81" x2="401.38" y2="356.81" stroke="#ff0000" stroke-width="1.0" stroke-opacity="0.45"/>
<rect x="399.4" y="356.21" width="1.8" height="1.2" fill="#ff0000" fill-opacity="0.7"/>
<line x1="399.22" y1="360.22" x2="401.38" y2="360.22" stroke="#ff0000" stroke-width="1.0" stroke-opacity="0.45"/>
<rect x="399.4" y="359.62" width="1.8" height="1.2" fill="#ff0000" fill-opacity="0.7"/>
<line x1="399.22" y1="363.62" x2="401.38" y2="363.62" stroke="#ff0000" stroke-width="1.0" stroke-opacity="0.45"/>
<rect x="399.4" y="363.02" width="1.8" height="1.2" fill="#ff0000" fill-opacity="0.7"/>
<line x1="399.22" y1="367.03" x2="401.38" y2="367.03" stroke="#ff0000" stroke-width="1.0" stroke-opacity="0.45"/>
<rect x="399.4" y="366.43" width="1.8" height="1.2" fill="#ff0000" fill-opacity="0.7"/>
<line x1="399.22" y1="370.44" x2="401.38" y2="370.44" stroke="#ff0000" stroke-width="1.0" stroke-opacity="0.45"/>
<rect x="399.4" y="369.83" width="1.8" height="1.2" fill="#ff0000" fill-opacity="0.7"/>
<line x1="399.22" y1="373.84" x2="401.38" y2="373.84" stroke="#ff0000" stroke-width="1.0" stroke-opacity="0.45"/>
<rect x="399.4" y="373.24" width="1.8" height="1.2" fill="#ff0000" fill-opacity="0.7"/>
<line x1="399.22" y1="377.25" x2="401.38" y2="377.25" stroke="#ff0000" stroke-width="1.0" stroke-opacity="0.45"/>
<rect x="399.4" y="376.64" width="1.8" height="1.2" fill="#ff0000" fill-opacity="0.7"/>
<line x1="399.22" y1="380.65" x2="401.38" y2="380.65" stroke="#ff0000" stroke-width="1.0" stroke-opacity="0.45"/>
<rect x="399.4" y="380.05" width="1.8" height="1.2" fill="#ff0000" fill-opacity="0.7"/>
<line x1="399.22" y1="384.06" x2="401.38" y2="384.06" stroke="#ff0000" stroke-width="1.0" stroke-opacity="0.45"/>
<rect x="399.4" y="383.45" width="1.8" height="1.2" fill="#ff0000" fill-opacity="0.7"/>
<line x1="399.22" y1="387.46" x2="401.38" y2="387.46" stroke="#ff0000" stroke-width="1.0" stroke-opacity="0.45"/>
<rect x="399.4" y="386.86" width="1.8" height="1.2" fill="#ff0000" fill-opacity="0.7"/>
<line x1="399.22" y1="390.87" x2="401.38" y2="390.87" stroke="#ff0000" stroke-width="1.0" stroke-opacity="0.45"/>
<rect x="399.4" y="390.26" width="1.8" height="1.2" fill="#ff0000" fill-opacity="0.7"/>
<line x1="399.22" y1="394.27" x2="401.38" y2="394.27" stroke="#ff0000" stroke-width="1.0" stroke-opacity="0.45"/>
<rect x="399.4" y="393.67" width="1.8" height="1.2" fill="#ff0000" fill-opacity="0.7"/>
<line x1="399.22" y1="397.68" x2="401.38" y2="397.68" stroke="#ff0000" stroke-width="1.0" stroke-opacity="0.45"/>
<rect x="399.4" y="397.07" width="1.8" height="1.2" fill="#ff0000" fill-opacity="0.7"/>
<line x1="399.22" y1="401.08" x2="401.38" y2="401.08" stroke="#0000ff" stroke-width="1.0" stroke-opacity="0.45"/>
<rect x="399.4" y="400.48" width="1.8" height="1.2" fill="#0000ff" fill-opacity="0.7"/>
<line x1="399.22" y1="404.49" x2="401.38" y2="404.49" stroke="#0000ff" stroke-width="1.0" stroke-opacity="0.45"/>
<rect x="399.4" y="403.88" width="1.8" height="1.2" fill="#0000ff" fill-opacity="0.7"/>
<line x1="399.22" y1="407.89" x2="401.38" y2="407.89" stroke="#0000ff" stroke-width="1.0" stroke-opacity="0.45"/>
<rect x="399.4" y="407.29" width="1.8" height="1.2" fill="#0000ff" fill-opacity="0.7"/>
<line x1="399.22" y1="411.3" x2="401.38" y2="411.3" stroke="#0000ff" stroke-width="1.0" stroke-opacity="0.45"/>
<rect x="399.4" y="410.69" width="1.8" height="1.2" fill="#0000ff" fill-opacity="0.7"/>
<line x1="399.22" y1="414.7" x2="401.38" y2="414.7" stroke="#0000ff" stroke-width="1.0" stroke-opacity="0.45"/>
<rect x="399.4" y="414.1" width="1.8" height="1.2" fill="#0000ff" fill-opacity="0.7"/>
<line x1="399.22" y1="418.11" x2="401.38" y2="418.11" stroke="#0000ff" stroke-width="1.0" stroke-opacity="0.45"/>
<rect x="399.4" y="417.5" width="1.8" height="1.2" fill="#0000ff" fill-opacity="0.7"/>
<line x1="399.22" y1="421.51" x2="401.38" y2="421.51" stroke="#0000ff" stroke-width="1.0" stroke-opacity="0.45"/>
<rect x="399.4" y="420.91" width="1.8" height="1.2" fill="#0000ff" fill-opacity="0.7"/>
<line x1="399.22" y1="424.92" x2="401.38" y2="424.92" stroke="#0000ff" stroke-width="1.0" stroke-opacity="0.45"/>
<rect x="399.4" y="424.31" width="1.8" height="1.2" fill="#0000ff" fill-opacity="0.7"/>
<rect x="387.3" y="344.5" width="47.5" height="81.8" fill="none" stroke="#7a7a7a" stroke-width="1"/>
<line x1="389.5" y1="426.3" x2="389.5" y2="428.3" stroke="#7a7a7a" stroke-width="0.8"/>
<text x="389.5" y="435.7" font-size="6.6" text-anchor="middle" font-weight="bold" fill="#1a1a1a" stroke="#1a1a1a" stroke-width="0.2">−0.5</text>
<line x1="400.3" y1="426.3" x2="400.3" y2="428.3" stroke="#7a7a7a" stroke-width="0.8"/>
<text x="400.3" y="435.7" font-size="6.6" text-anchor="middle" font-weight="bold" fill="#1a1a1a" stroke="#1a1a1a" stroke-width="0.2">0</text>
<line x1="411.1" y1="426.3" x2="411.1" y2="428.3" stroke="#7a7a7a" stroke-width="0.8"/>
<text x="411.1" y="435.7" font-size="6.6" text-anchor="middle" font-weight="bold" fill="#1a1a1a" stroke="#1a1a1a" stroke-width="0.2">0.5</text>
<line x1="421.9" y1="426.3" x2="421.9" y2="428.3" stroke="#7a7a7a" stroke-width="0.8"/>
<text x="421.9" y="435.7" font-size="6.6" text-anchor="middle" font-weight="bold" fill="#1a1a1a" stroke="#1a1a1a" stroke-width="0.2">1</text>
<line x1="432.7" y1="426.3" x2="432.7" y2="428.3" stroke="#7a7a7a" stroke-width="0.8"/>
<text x="432.7" y="435.7" font-size="6.6" text-anchor="middle" font-weight="bold" fill="#1a1a1a" stroke="#1a1a1a" stroke-width="0.2">1.5</text>
<rect x="439.5" y="330.3" width="47.5" height="14.2" fill="#d9d9d9" stroke="#7a7a7a" stroke-width="1"/>
<text x="463.25" y="339.9" font-size="7.1" text-anchor="middle" fill="#222" stroke="#222" stroke-width="0.2">Support</text>
<line x1="447.1" y1="344.5" x2="447.1" y2="426.3" stroke="#f3f3f3" stroke-width="0.6"/>
<line x1="457.9" y1="344.5" x2="457.9" y2="426.3" stroke="#f3f3f3" stroke-width="0.6"/>
<line x1="468.7" y1="344.5" x2="468.7" y2="426.3" stroke="#f3f3f3" stroke-width="0.6"/>
<line x1="479.5" y1="344.5" x2="479.5" y2="426.3" stroke="#f3f3f3" stroke-width="0.6"/>
<line x1="441.7" y1="344.5" x2="441.7" y2="426.3" stroke="#e6e6e6" stroke-width="0.8"/>
<line x1="452.5" y1="344.5" x2="452.5" y2="426.3" stroke="#e6e6e6" stroke-width="0.8"/>
<line x1="463.3" y1="344.5" x2="463.3" y2="426.3" stroke="#e6e6e6" stroke-width="0.8"/>
<line x1="474.1" y1="344.5" x2="474.1" y2="426.3" stroke="#e6e6e6" stroke-width="0.8"/>
<line x1="484.9" y1="344.5" x2="484.9" y2="426.3" stroke="#e6e6e6" stroke-width="0.8"/>
<line x1="439.5" y1="346.6" x2="487" y2="346.6" stroke="#e6e6e6" stroke-width="0.8"/>
<line x1="439.5" y1="350" x2="487" y2="350" stroke="#e6e6e6" stroke-width="0.8"/>
<line x1="439.5" y1="353.41" x2="487" y2="353.41" stroke="#e6e6e6" stroke-width="0.8"/>
<line x1="439.5" y1="356.81" x2="487" y2="356.81" stroke="#e6e6e6" stroke-width="0.8"/>
<line x1="439.5" y1="360.22" x2="487" y2="360.22" stroke="#e6e6e6" stroke-width="0.8"/>
<line x1="439.5" y1="363.62" x2="487" y2="363.62" stroke="#e6e6e6" stroke-width="0.8"/>
<line x1="439.5" y1="367.03" x2="487" y2="367.03" stroke="#e6e6e6" stroke-width="0.8"/>
<line x1="439.5" y1="370.44" x2="487" y2="370.44" stroke="#e6e6e6" stroke-width="0.8"/>
<line x1="439.5" y1="373.84" x2="487" y2="373.84" stroke="#e6e6e6" stroke-width="0.8"/>
<line x1="439.5" y1="377.25" x2="487" y2="377.25" stroke="#e6e6e6" stroke-width="0.8"/>
<line x1="439.5" y1="380.65" x2="487" y2="380.65" stroke="#e6e6e6" stroke-width="0.8"/>
<line x1="439.5" y1="384.06" x2="487" y2="384.06" stroke="#e6e6e6" stroke-width="0.8"/>
<line x1="439.5" y1="387.46" x2="487" y2="387.46" stroke="#e6e6e6" stroke-width="0.8"/>
<line x1="439.5" y1="390.87" x2="487" y2="390.87" stroke="#e6e6e6" stroke-width="0.8"/>
<line x1="439.5" y1="394.27" x2="487" y2="394.27" stroke="#e6e6e6" stroke-width="0.8"/>
<line x1="439.5" y1="397.68" x2="487" y2="397.68" stroke="#e6e6e6" stroke-width="0.8"/>
<line x1="439.5" y1="401.08" x2="487" y2="401.08" stroke="#e6e6e6" stroke-width="0.8"/>
<line x1="439.5" y1="404.49" x2="487" y2="404.49" stroke="#e6e6e6" stroke-width="0.8"/>
<line x1="439.5" y1="407.89" x2="487" y2="407.89" stroke="#e6e6e6" stroke-width="0.8"/>
<line x1="439.5" y1="411.3" x2="487" y2="411.3" stroke="#e6e6e6" stroke-width="0.8"/>
<line x1="439.5" y1="414.7" x2="487" y2="414.7" stroke="#e6e6e6" stroke-width="0.8"/>
<line x1="439.5" y1="418.11" x2="487" y2="418.11" stroke="#e6e6e6" stroke-width="0.8"/>
<line x1="439.5" y1="421.51" x2="487" y2="421.51" stroke="#e6e6e6" stroke-width="0.8"/>
<line x1="439.5" y1="424.92" x2="487" y2="424.92" stroke="#e6e6e6" stroke-width="0.8"/>
<line x1="452.5" y1="344.5" x2="452.5" y2="426.3" stroke="#b0b0b0" stroke-width="0.7"/>
<line x1="459" y1="346.6" x2="466.5" y2="346.6" stroke="#ff0000" stroke-width="1.0" stroke-opacity="0.45"/>
<rect x="461.8" y="346" width="1.8" height="1.2" fill="#ff0000" fill-opacity="0.7"/>
<line x1="442.5" y1="350" x2="450" y2="350" stroke="#ff0000" stroke-width="1.0" stroke-opacity="0.45"/>
<rect x="445.3" y="349.4" width="1.8" height="1.2" fill="#ff0000" fill-opacity="0.7"/>
<line x1="470.7" y1="353.41" x2="477" y2="353.41" stroke="#ff0000" stroke-width="1.0" stroke-opacity="0.45"/>
<rect x="472.8" y="352.81" width="1.8" height="1.2" fill="#ff0000" fill-opacity="0.7"/>
<line x1="443.2" y1="356.81" x2="450" y2="356.81" stroke="#ff0000" stroke-width="1.0" stroke-opacity="0.45"/>
<rect x="445.3" y="356.21" width="1.8" height="1.2" fill="#ff0000" fill-opacity="0.7"/>
<line x1="441.7" y1="360.22" x2="448.8" y2="360.22" stroke="#ff0000" stroke-width="1.0" stroke-opacity="0.45"/>
<rect x="443.8" y="359.62" width="1.8" height="1.2" fill="#ff0000" fill-opacity="0.7"/>
<line x1="446.2" y1="363.62" x2="452.7" y2="363.62" stroke="#ff0000" stroke-width="1.0" stroke-opacity="0.45"/>
<rect x="448.3" y="363.02" width="1.8" height="1.2" fill="#ff0000" fill-opacity="0.7"/>
<line x1="458.2" y1="367.03" x2="464.7" y2="367.03" stroke="#ff0000" stroke-width="1.0" stroke-opacity="0.45"/>
<rect x="460.3" y="366.43" width="1.8" height="1.2" fill="#ff0000" fill-opacity="0.7"/>
<line x1="459.7" y1="370.44" x2="467.2" y2="370.44" stroke="#ff0000" stroke-width="1.0" stroke-opacity="0.45"/>
<rect x="462.6" y="369.83" width="1.8" height="1.2" fill="#ff0000" fill-opacity="0.7"/>
<line x1="452.7" y1="373.84" x2="460.5" y2="373.84" stroke="#ff0000" stroke-width="1.0" stroke-opacity="0.45"/>
<rect x="455.4" y="373.24" width="1.8" height="1.2" fill="#ff0000" fill-opacity="0.7"/>
<line x1="442.8" y1="377.25" x2="445.2" y2="377.25" stroke="#ff0000" stroke-width="1.0" stroke-opacity="0.45"/>
<rect x="443.1" y="376.64" width="1.8" height="1.2" fill="#ff0000" fill-opacity="0.7"/>
<line x1="452.7" y1="380.65" x2="459.7" y2="380.65" stroke="#ff0000" stroke-width="1.0" stroke-opacity="0.45"/>
<rect x="455.1" y="380.05" width="1.8" height="1.2" fill="#ff0000" fill-opacity="0.7"/>
<line x1="443.2" y1="384.06" x2="445.2" y2="384.06" stroke="#ff0000" stroke-width="1.0" stroke-opacity="0.45"/>
<rect x="443.1" y="383.45" width="1.8" height="1.2" fill="#ff0000" fill-opacity="0.7"/>
<line x1="443.2" y1="387.46" x2="451.8" y2="387.46" stroke="#ff0000" stroke-width="1.0" stroke-opacity="0.45"/>
<rect x="446.8" y="386.86" width="1.8" height="1.2" fill="#ff0000" fill-opacity="0.7"/>
<line x1="442" y1="390.87" x2="444" y2="390.87" stroke="#ff0000" stroke-width="1.0" stroke-opacity="0.45"/>
<rect x="441.9" y="390.26" width="1.8" height="1.2" fill="#ff0000" fill-opacity="0.7"/>
<line x1="457.2" y1="397.68" x2="466.2" y2="397.68" stroke="#ff0000" stroke-width="1.0" stroke-opacity="0.45"/>
<rect x="460.8" y="397.07" width="1.8" height="1.2" fill="#ff0000" fill-opacity="0.7"/>
<rect x="439.5" y="344.5" width="47.5" height="81.8" fill="none" stroke="#7a7a7a" stroke-width="1"/>
<line x1="441.7" y1="426.3" x2="441.7" y2="428.3" stroke="#7a7a7a" stroke-width="0.8"/>
<text x="441.7" y="435.7" font-size="6.6" text-anchor="middle" font-weight="bold" fill="#1a1a1a" stroke="#1a1a1a" stroke-width="0.2">−0.5</text>
<line x1="452.5" y1="426.3" x2="452.5" y2="428.3" stroke="#7a7a7a" stroke-width="0.8"/>
<text x="452.5" y="435.7" font-size="6.6" text-anchor="middle" font-weight="bold" fill="#1a1a1a" stroke="#1a1a1a" stroke-width="0.2">0</text>
<line x1="463.3" y1="426.3" x2="463.3" y2="428.3" stroke="#7a7a7a" stroke-width="0.8"/>
<text x="463.3" y="435.7" font-size="6.6" text-anchor="middle" font-weight="bold" fill="#1a1a1a" stroke="#1a1a1a" stroke-width="0.2">0.5</text>
<line x1="474.1" y1="426.3" x2="474.1" y2="428.3" stroke="#7a7a7a" stroke-width="0.8"/>
<text x="474.1" y="435.7" font-size="6.6" text-anchor="middle" font-weight="bold" fill="#1a1a1a" stroke="#1a1a1a" stroke-width="0.2">1</text>
<line x1="484.9" y1="426.3" x2="484.9" y2="428.3" stroke="#7a7a7a" stroke-width="0.8"/>
<text x="484.9" y="435.7" font-size="6.6" text-anchor="middle" font-weight="bold" fill="#1a1a1a" stroke="#1a1a1a" stroke-width="0.2">1.5</text>
<rect x="492" y="330.3" width="47.6" height="14.2" fill="#d9d9d9" stroke="#7a7a7a" stroke-width="1"/>
<text x="515.8" y="339.9" font-size="7.1" text-anchor="middle" fill="#222" stroke="#222" stroke-width="0.2">No Support</text>
<line x1="499.6" y1="344.5" x2="499.6" y2="426.3" stroke="#f3f3f3" stroke-width="0.6"/>
<line x1="510.4" y1="344.5" x2="510.4" y2="426.3" stroke="#f3f3f3" stroke-width="0.6"/>
<line x1="521.2" y1="344.5" x2="521.2" y2="426.3" stroke="#f3f3f3" stroke-width="0.6"/>
<line x1="532" y1="344.5" x2="532" y2="426.3" stroke="#f3f3f3" stroke-width="0.6"/>
<line x1="494.2" y1="344.5" x2="494.2" y2="426.3" stroke="#e6e6e6" stroke-width="0.8"/>
<line x1="505" y1="344.5" x2="505" y2="426.3" stroke="#e6e6e6" stroke-width="0.8"/>
<line x1="515.8" y1="344.5" x2="515.8" y2="426.3" stroke="#e6e6e6" stroke-width="0.8"/>
<line x1="526.6" y1="344.5" x2="526.6" y2="426.3" stroke="#e6e6e6" stroke-width="0.8"/>
<line x1="537.4" y1="344.5" x2="537.4" y2="426.3" stroke="#e6e6e6" stroke-width="0.8"/>
<line x1="492" y1="346.6" x2="539.6" y2="346.6" stroke="#e6e6e6" stroke-width="0.8"/>
<line x1="492" y1="350" x2="539.6" y2="350" stroke="#e6e6e6" stroke-width="0.8"/>
<line x1="492" y1="353.41" x2="539.6" y2="353.41" stroke="#e6e6e6" stroke-width="0.8"/>
<line x1="492" y1="356.81" x2="539.6" y2="356.81" stroke="#e6e6e6" stroke-width="0.8"/>
<line x1="492" y1="360.22" x2="539.6" y2="360.22" stroke="#e6e6e6" stroke-width="0.8"/>
<line x1="492" y1="363.62" x2="539.6" y2="363.62" stroke="#e6e6e6" stroke-width="0.8"/>
<line x1="492" y1="367.03" x2="539.6" y2="367.03" stroke="#e6e6e6" stroke-width="0.8"/>
<line x1="492" y1="370.44" x2="539.6" y2="370.44" stroke="#e6e6e6" stroke-width="0.8"/>
<line x1="492" y1="373.84" x2="539.6" y2="373.84" stroke="#e6e6e6" stroke-width="0.8"/>
<line x1="492" y1="377.25" x2="539.6" y2="377.25" stroke="#e6e6e6" stroke-width="0.8"/>
<line x1="492" y1="380.65" x2="539.6" y2="380.65" stroke="#e6e6e6" stroke-width="0.8"/>
<line x1="492" y1="384.06" x2="539.6" y2="384.06" stroke="#e6e6e6" stroke-width="0.8"/>
<line x1="492" y1="387.46" x2="539.6" y2="387.46" stroke="#e6e6e6" stroke-width="0.8"/>
<line x1="492" y1="390.87" x2="539.6" y2="390.87" stroke="#e6e6e6" stroke-width="0.8"/>
<line x1="492" y1="394.27" x2="539.6" y2="394.27" stroke="#e6e6e6" stroke-width="0.8"/>
<line x1="492" y1="397.68" x2="539.6" y2="397.68" stroke="#e6e6e6" stroke-width="0.8"/>
<line x1="492" y1="401.08" x2="539.6" y2="401.08" stroke="#e6e6e6" stroke-width="0.8"/>
<line x1="492" y1="404.49" x2="539.6" y2="404.49" stroke="#e6e6e6" stroke-width="0.8"/>
<line x1="492" y1="407.89" x2="539.6" y2="407.89" stroke="#e6e6e6" stroke-width="0.8"/>
<line x1="492" y1="411.3" x2="539.6" y2="411.3" stroke="#e6e6e6" stroke-width="0.8"/>
<line x1="492" y1="414.7" x2="539.6" y2="414.7" stroke="#e6e6e6" stroke-width="0.8"/>
<line x1="492" y1="418.11" x2="539.6" y2="418.11" stroke="#e6e6e6" stroke-width="0.8"/>
<line x1="492" y1="421.51" x2="539.6" y2="421.51" stroke="#e6e6e6" stroke-width="0.8"/>
<line x1="492" y1="424.92" x2="539.6" y2="424.92" stroke="#e6e6e6" stroke-width="0.8"/>
<line x1="505" y1="344.5" x2="505" y2="426.3" stroke="#b0b0b0" stroke-width="0.7"/>
<line x1="501" y1="401.08" x2="507.5" y2="401.08" stroke="#0000ff" stroke-width="1.0" stroke-opacity="0.45"/>
<rect x="503.4" y="400.48" width="1.8" height="1.2" fill="#0000ff" fill-opacity="0.7"/>
<line x1="500" y1="404.49" x2="506" y2="404.49" stroke="#0000ff" stroke-width="1.0" stroke-opacity="0.45"/>
<rect x="502.1" y="403.88" width="1.8" height="1.2" fill="#0000ff" fill-opacity="0.7"/>
<line x1="499.2" y1="407.89" x2="506" y2="407.89" stroke="#0000ff" stroke-width="1.0" stroke-opacity="0.45"/>
<rect x="501.6" y="407.29" width="1.8" height="1.2" fill="#0000ff" fill-opacity="0.7"/>
<line x1="507" y1="411.3" x2="512.8" y2="411.3" stroke="#0000ff" stroke-width="1.0" stroke-opacity="0.45"/>
<rect x="508.9" y="410.69" width="1.8" height="1.2" fill="#0000ff" fill-opacity="0.7"/>
<line x1="505.2" y1="414.7" x2="511.8" y2="414.7" stroke="#0000ff" stroke-width="1.0" stroke-opacity="0.45"/>
<rect x="507.6" y="414.1" width="1.8" height="1.2" fill="#0000ff" fill-opacity="0.7"/>
<line x1="495" y1="418.11" x2="497" y2="418.11" stroke="#0000ff" stroke-width="1.0" stroke-opacity="0.45"/>
<rect x="495.1" y="417.5" width="1.8" height="1.2" fill="#0000ff" fill-opacity="0.7"/>
<line x1="505" y1="421.51" x2="511.2" y2="421.51" stroke="#0000ff" stroke-width="1.0" stroke-opacity="0.45"/>
<rect x="507.1" y="420.91" width="1.8" height="1.2" fill="#0000ff" fill-opacity="0.7"/>
<line x1="504" y1="424.92" x2="509.8" y2="424.92" stroke="#0000ff" stroke-width="1.0" stroke-opacity="0.45"/>
<rect x="506.1" y="424.31" width="1.8" height="1.2" fill="#0000ff" fill-opacity="0.7"/>
<rect x="492" y="344.5" width="47.6" height="81.8" fill="none" stroke="#7a7a7a" stroke-width="1"/>
<line x1="494.2" y1="426.3" x2="494.2" y2="428.3" stroke="#7a7a7a" stroke-width="0.8"/>
<text x="494.2" y="435.7" font-size="6.6" text-anchor="middle" font-weight="bold" fill="#1a1a1a" stroke="#1a1a1a" stroke-width="0.2">−0.5</text>
<line x1="505" y1="426.3" x2="505" y2="428.3" stroke="#7a7a7a" stroke-width="0.8"/>
<text x="505" y="435.7" font-size="6.6" text-anchor="middle" font-weight="bold" fill="#1a1a1a" stroke="#1a1a1a" stroke-width="0.2">0</text>
<line x1="515.8" y1="426.3" x2="515.8" y2="428.3" stroke="#7a7a7a" stroke-width="0.8"/>
<text x="515.8" y="435.7" font-size="6.6" text-anchor="middle" font-weight="bold" fill="#1a1a1a" stroke="#1a1a1a" stroke-width="0.2">0.5</text>
<line x1="526.6" y1="426.3" x2="526.6" y2="428.3" stroke="#7a7a7a" stroke-width="0.8"/>
<text x="526.6" y="435.7" font-size="6.6" text-anchor="middle" font-weight="bold" fill="#1a1a1a" stroke="#1a1a1a" stroke-width="0.2">1</text>
<line x1="537.4" y1="426.3" x2="537.4" y2="428.3" stroke="#7a7a7a" stroke-width="0.8"/>
<text x="537.4" y="435.7" font-size="6.6" text-anchor="middle" font-weight="bold" fill="#1a1a1a" stroke="#1a1a1a" stroke-width="0.2">1.5</text>
<line x1="385.1" y1="346.6" x2="387.3" y2="346.6" stroke="#7a7a7a" stroke-width="0.8"/>
<text transform="translate(382.9,346.6) rotate(-90)" font-size="3.1" font-weight="bold" text-anchor="middle" fill="#333">1</text>
<line x1="385.1" y1="350" x2="387.3" y2="350" stroke="#7a7a7a" stroke-width="0.8"/>
<text transform="translate(382.9,350) rotate(-90)" font-size="3.1" font-weight="bold" text-anchor="middle" fill="#333">2</text>
<line x1="385.1" y1="353.41" x2="387.3" y2="353.41" stroke="#7a7a7a" stroke-width="0.8"/>
<text transform="translate(382.9,353.41) rotate(-90)" font-size="3.1" font-weight="bold" text-anchor="middle" fill="#333">3</text>
<line x1="385.1" y1="356.81" x2="387.3" y2="356.81" stroke="#7a7a7a" stroke-width="0.8"/>
<text transform="translate(382.9,356.81) rotate(-90)" font-size="3.1" font-weight="bold" text-anchor="middle" fill="#333">4</text>
<line x1="385.1" y1="360.22" x2="387.3" y2="360.22" stroke="#7a7a7a" stroke-width="0.8"/>
<text transform="translate(382.9,360.22) rotate(-90)" font-size="3.1" font-weight="bold" text-anchor="middle" fill="#333">5</text>
<line x1="385.1" y1="363.62" x2="387.3" y2="363.62" stroke="#7a7a7a" stroke-width="0.8"/>
<text transform="translate(382.9,363.62) rotate(-90)" font-size="3.1" font-weight="bold" text-anchor="middle" fill="#333">6</text>
<line x1="385.1" y1="367.03" x2="387.3" y2="367.03" stroke="#7a7a7a" stroke-width="0.8"/>
<text transform="translate(382.9,367.03) rotate(-90)" font-size="3.1" font-weight="bold" text-anchor="middle" fill="#333">7</text>
<line x1="385.1" y1="370.44" x2="387.3" y2="370.44" stroke="#7a7a7a" stroke-width="0.8"/>
<text transform="translate(382.9,370.44) rotate(-90)" font-size="3.1" font-weight="bold" text-anchor="middle" fill="#333">8</text>
<line x1="385.1" y1="373.84" x2="387.3" y2="373.84" stroke="#7a7a7a" stroke-width="0.8"/>
<text transform="translate(382.9,373.84) rotate(-90)" font-size="3.1" font-weight="bold" text-anchor="middle" fill="#333">9</text>
<line x1="385.1" y1="377.25" x2="387.3" y2="377.25" stroke="#7a7a7a" stroke-width="0.8"/>
<text transform="translate(382.9,377.25) rotate(-90)" font-size="3.1" font-weight="bold" text-anchor="middle" fill="#333">10</text>
<line x1="385.1" y1="380.65" x2="387.3" y2="380.65" stroke="#7a7a7a" stroke-width="0.8"/>
<text transform="translate(382.9,380.65) rotate(-90)" font-size="3.1" font-weight="bold" text-anchor="middle" fill="#333">11</text>
<line x1="385.1" y1="384.06" x2="387.3" y2="384.06" stroke="#7a7a7a" stroke-width="0.8"/>
<text transform="translate(382.9,384.06) rotate(-90)" font-size="3.1" font-weight="bold" text-anchor="middle" fill="#333">12</text>
<line x1="385.1" y1="387.46" x2="387.3" y2="387.46" stroke="#7a7a7a" stroke-width="0.8"/>
<text transform="translate(382.9,387.46) rotate(-90)" font-size="3.1" font-weight="bold" text-anchor="middle" fill="#333">13</text>
<line x1="385.1" y1="390.87" x2="387.3" y2="390.87" stroke="#7a7a7a" stroke-width="0.8"/>
<text transform="translate(382.9,390.87) rotate(-90)" font-size="3.1" font-weight="bold" text-anchor="middle" fill="#333">14</text>
<line x1="385.1" y1="394.27" x2="387.3" y2="394.27" stroke="#7a7a7a" stroke-width="0.8"/>
<text transform="translate(382.9,394.27) rotate(-90)" font-size="3.1" font-weight="bold" text-anchor="middle" fill="#333">15</text>
<line x1="385.1" y1="397.68" x2="387.3" y2="397.68" stroke="#7a7a7a" stroke-width="0.8"/>
<text transform="translate(382.9,397.68) rotate(-90)" font-size="3.1" font-weight="bold" text-anchor="middle" fill="#333">16</text>
<line x1="385.1" y1="401.08" x2="387.3" y2="401.08" stroke="#7a7a7a" stroke-width="0.8"/>
<text transform="translate(382.9,401.08) rotate(-90)" font-size="3.1" font-weight="bold" text-anchor="middle" fill="#333">17</text>
<line x1="385.1" y1="404.49" x2="387.3" y2="404.49" stroke="#7a7a7a" stroke-width="0.8"/>
<text transform="translate(382.9,404.49) rotate(-90)" font-size="3.1" font-weight="bold" text-anchor="middle" fill="#333">18</text>
<line x1="385.1" y1="407.89" x2="387.3" y2="407.89" stroke="#7a7a7a" stroke-width="0.8"/>
<text transform="translate(382.9,407.89) rotate(-90)" font-size="3.1" font-weight="bold" text-anchor="middle" fill="#333">19</text>
<line x1="385.1" y1="411.3" x2="387.3" y2="411.3" stroke="#7a7a7a" stroke-width="0.8"/>
<text transform="translate(382.9,411.3) rotate(-90)" font-size="3.1" font-weight="bold" text-anchor="middle" fill="#333">20</text>
<line x1="385.1" y1="414.7" x2="387.3" y2="414.7" stroke="#7a7a7a" stroke-width="0.8"/>
<text transform="translate(382.9,414.7) rotate(-90)" font-size="3.1" font-weight="bold" text-anchor="middle" fill="#333">21</text>
<line x1="385.1" y1="418.11" x2="387.3" y2="418.11" stroke="#7a7a7a" stroke-width="0.8"/>
<text transform="translate(382.9,418.11) rotate(-90)" font-size="3.1" font-weight="bold" text-anchor="middle" fill="#333">22</text>
<line x1="385.1" y1="421.51" x2="387.3" y2="421.51" stroke="#7a7a7a" stroke-width="0.8"/>
<text transform="translate(382.9,421.51) rotate(-90)" font-size="3.1" font-weight="bold" text-anchor="middle" fill="#333">23</text>
<line x1="385.1" y1="424.92" x2="387.3" y2="424.92" stroke="#7a7a7a" stroke-width="0.8"/>
<text transform="translate(382.9,424.92) rotate(-90)" font-size="3.1" font-weight="bold" text-anchor="middle" fill="#333">24</text>
<text x="390.6" y="323.7" font-size="11" text-anchor="start" font-weight="bold" fill="#000" stroke="#000" stroke-width="0.2">I</text>
<text x="463.45" y="448.1" font-size="9.2" text-anchor="middle" fill="#1a1a1a" stroke="#1a1a1a" stroke-width="0.2"><tspan font-size="10.2">(</tspan>mm<tspan font-size="10.2">)</tspan></text>
<rect x="387.3" y="475.6" width="47.5" height="14.2" fill="#d9d9d9" stroke="#7a7a7a" stroke-width="1"/>
<text x="411.05" y="485.2" font-size="7.1" text-anchor="middle" fill="#222" stroke="#222" stroke-width="0.2">(Intercept)</text>
<line x1="396.73" y1="489.8" x2="396.73" y2="571.6" stroke="#f3f3f3" stroke-width="0.6"/>
<line x1="411.08" y1="489.8" x2="411.08" y2="571.6" stroke="#f3f3f3" stroke-width="0.6"/>
<line x1="425.43" y1="489.8" x2="425.43" y2="571.6" stroke="#f3f3f3" stroke-width="0.6"/>
<line x1="389.55" y1="489.8" x2="389.55" y2="571.6" stroke="#e6e6e6" stroke-width="0.8"/>
<line x1="403.9" y1="489.8" x2="403.9" y2="571.6" stroke="#e6e6e6" stroke-width="0.8"/>
<line x1="418.25" y1="489.8" x2="418.25" y2="571.6" stroke="#e6e6e6" stroke-width="0.8"/>
<line x1="432.6" y1="489.8" x2="432.6" y2="571.6" stroke="#e6e6e6" stroke-width="0.8"/>
<line x1="387.3" y1="491.9" x2="434.8" y2="491.9" stroke="#e6e6e6" stroke-width="0.8"/>
<line x1="387.3" y1="495.31" x2="434.8" y2="495.31" stroke="#e6e6e6" stroke-width="0.8"/>
<line x1="387.3" y1="498.71" x2="434.8" y2="498.71" stroke="#e6e6e6" stroke-width="0.8"/>
<line x1="387.3" y1="502.12" x2="434.8" y2="502.12" stroke="#e6e6e6" stroke-width="0.8"/>
<line x1="387.3" y1="505.52" x2="434.8" y2="505.52" stroke="#e6e6e6" stroke-width="0.8"/>
<line x1="387.3" y1="508.93" x2="434.8" y2="508.93" stroke="#e6e6e6" stroke-width="0.8"/>
<line x1="387.3" y1="512.33" x2="434.8" y2="512.33" stroke="#e6e6e6" stroke-width="0.8"/>
<line x1="387.3" y1="515.74" x2="434.8" y2="515.74" stroke="#e6e6e6" stroke-width="0.8"/>
<line x1="387.3" y1="519.14" x2="434.8" y2="519.14" stroke="#e6e6e6" stroke-width="0.8"/>
<line x1="387.3" y1="522.55" x2="434.8" y2="522.55" stroke="#e6e6e6" stroke-width="0.8"/>
<line x1="387.3" y1="525.95" x2="434.8" y2="525.95" stroke="#e6e6e6" stroke-width="0.8"/>
<line x1="387.3" y1="529.36" x2="434.8" y2="529.36" stroke="#e6e6e6" stroke-width="0.8"/>
<line x1="387.3" y1="532.76" x2="434.8" y2="532.76" stroke="#e6e6e6" stroke-width="0.8"/>
<line x1="387.3" y1="536.17" x2="434.8" y2="536.17" stroke="#e6e6e6" stroke-width="0.8"/>
<line x1="387.3" y1="539.57" x2="434.8" y2="539.57" stroke="#e6e6e6" stroke-width="0.8"/>
<line x1="387.3" y1="542.98" x2="434.8" y2="542.98" stroke="#e6e6e6" stroke-width="0.8"/>
<line x1="387.3" y1="546.38" x2="434.8" y2="546.38" stroke="#e6e6e6" stroke-width="0.8"/>
<line x1="387.3" y1="549.79" x2="434.8" y2="549.79" stroke="#e6e6e6" stroke-width="0.8"/>
<line x1="387.3" y1="553.19" x2="434.8" y2="553.19" stroke="#e6e6e6" stroke-width="0.8"/>
<line x1="387.3" y1="556.6" x2="434.8" y2="556.6" stroke="#e6e6e6" stroke-width="0.8"/>
<line x1="387.3" y1="560" x2="434.8" y2="560" stroke="#e6e6e6" stroke-width="0.8"/>
<line x1="387.3" y1="563.4" x2="434.8" y2="563.4" stroke="#e6e6e6" stroke-width="0.8"/>
<line x1="387.3" y1="566.81" x2="434.8" y2="566.81" stroke="#e6e6e6" stroke-width="0.8"/>
<line x1="387.3" y1="570.22" x2="434.8" y2="570.22" stroke="#e6e6e6" stroke-width="0.8"/>
<line x1="403.9" y1="489.8" x2="403.9" y2="571.6" stroke="#b0b0b0" stroke-width="0.7"/>
<line x1="397.7" y1="491.9" x2="409.1" y2="491.9" stroke="#ff0000" stroke-width="1.0" stroke-opacity="0.45"/>
<rect x="402.7" y="491.3" width="1.8" height="1.2" fill="#ff0000" fill-opacity="0.7"/>
<line x1="398" y1="495.31" x2="409.1" y2="495.31" stroke="#ff0000" stroke-width="1.0" stroke-opacity="0.45"/>
<rect x="402.7" y="494.7" width="1.8" height="1.2" fill="#ff0000" fill-opacity="0.7"/>
<line x1="399.8" y1="498.71" x2="410.6" y2="498.71" stroke="#ff0000" stroke-width="1.0" stroke-opacity="0.45"/>
<rect x="404.3" y="498.11" width="1.8" height="1.2" fill="#ff0000" fill-opacity="0.7"/>
<line x1="399.8" y1="502.12" x2="410.4" y2="502.12" stroke="#ff0000" stroke-width="1.0" stroke-opacity="0.45"/>
<rect x="404.1" y="501.51" width="1.8" height="1.2" fill="#ff0000" fill-opacity="0.7"/>
<line x1="398.2" y1="505.52" x2="409.1" y2="505.52" stroke="#ff0000" stroke-width="1.0" stroke-opacity="0.45"/>
<rect x="402.7" y="504.92" width="1.8" height="1.2" fill="#ff0000" fill-opacity="0.7"/>
<line x1="398.5" y1="508.93" x2="409.4" y2="508.93" stroke="#ff0000" stroke-width="1.0" stroke-opacity="0.45"/>
<rect x="403.1" y="508.32" width="1.8" height="1.2" fill="#ff0000" fill-opacity="0.7"/>
<line x1="398.2" y1="512.33" x2="409.1" y2="512.33" stroke="#ff0000" stroke-width="1.0" stroke-opacity="0.45"/>
<rect x="402.7" y="511.73" width="1.8" height="1.2" fill="#ff0000" fill-opacity="0.7"/>
<line x1="398.2" y1="515.74" x2="409.1" y2="515.74" stroke="#ff0000" stroke-width="1.0" stroke-opacity="0.45"/>
<rect x="402.7" y="515.13" width="1.8" height="1.2" fill="#ff0000" fill-opacity="0.7"/>
<line x1="397.3" y1="519.14" x2="408.3" y2="519.14" stroke="#ff0000" stroke-width="1.0" stroke-opacity="0.45"/>
<rect x="402.1" y="518.54" width="1.8" height="1.2" fill="#ff0000" fill-opacity="0.7"/>
<line x1="397.9" y1="522.55" x2="409.4" y2="522.55" stroke="#ff0000" stroke-width="1.0" stroke-opacity="0.45"/>
<rect x="402.7" y="521.95" width="1.8" height="1.2" fill="#ff0000" fill-opacity="0.7"/>
<line x1="398.5" y1="525.95" x2="409.4" y2="525.95" stroke="#ff0000" stroke-width="1.0" stroke-opacity="0.45"/>
<rect x="403.1" y="525.35" width="1.8" height="1.2" fill="#ff0000" fill-opacity="0.7"/>
<line x1="399.2" y1="529.36" x2="410" y2="529.36" stroke="#ff0000" stroke-width="1.0" stroke-opacity="0.45"/>
<rect x="403.6" y="528.75" width="1.8" height="1.2" fill="#ff0000" fill-opacity="0.7"/>
<line x1="398.5" y1="532.76" x2="409.4" y2="532.76" stroke="#ff0000" stroke-width="1.0" stroke-opacity="0.45"/>
<rect x="403.1" y="532.16" width="1.8" height="1.2" fill="#ff0000" fill-opacity="0.7"/>
<line x1="397.9" y1="536.17" x2="409.1" y2="536.17" stroke="#ff0000" stroke-width="1.0" stroke-opacity="0.45"/>
<rect x="402.7" y="535.57" width="1.8" height="1.2" fill="#ff0000" fill-opacity="0.7"/>
<line x1="399.2" y1="539.57" x2="410" y2="539.57" stroke="#ff0000" stroke-width="1.0" stroke-opacity="0.45"/>
<rect x="403.6" y="538.97" width="1.8" height="1.2" fill="#ff0000" fill-opacity="0.7"/>
<line x1="398.2" y1="542.98" x2="409.8" y2="542.98" stroke="#ff0000" stroke-width="1.0" stroke-opacity="0.45"/>
<rect x="402.8" y="542.38" width="1.8" height="1.2" fill="#ff0000" fill-opacity="0.7"/>
<line x1="401.1" y1="546.38" x2="409.1" y2="546.38" stroke="#0000ff" stroke-width="1.0" stroke-opacity="0.45"/>
<rect x="403.8" y="545.78" width="1.8" height="1.2" fill="#0000ff" fill-opacity="0.7"/>
<line x1="401.5" y1="549.79" x2="409.8" y2="549.79" stroke="#0000ff" stroke-width="1.0" stroke-opacity="0.45"/>
<rect x="404.6" y="549.19" width="1.8" height="1.2" fill="#0000ff" fill-opacity="0.7"/>
<line x1="397.7" y1="553.19" x2="406.5" y2="553.19" stroke="#0000ff" stroke-width="1.0" stroke-opacity="0.45"/>
<rect x="400.9" y="552.59" width="1.8" height="1.2" fill="#0000ff" fill-opacity="0.7"/>
<line x1="397.2" y1="556.6" x2="405.9" y2="556.6" stroke="#0000ff" stroke-width="1.0" stroke-opacity="0.45"/>
<rect x="400.6" y="556" width="1.8" height="1.2" fill="#0000ff" fill-opacity="0.7"/>
<line x1="398.2" y1="560" x2="406.9" y2="560" stroke="#0000ff" stroke-width="1.0" stroke-opacity="0.45"/>
<rect x="401.6" y="559.4" width="1.8" height="1.2" fill="#0000ff" fill-opacity="0.7"/>
<line x1="398.2" y1="563.4" x2="406.9" y2="563.4" stroke="#0000ff" stroke-width="1.0" stroke-opacity="0.45"/>
<rect x="401.6" y="562.8" width="1.8" height="1.2" fill="#0000ff" fill-opacity="0.7"/>
<line x1="398.6" y1="566.81" x2="406.9" y2="566.81" stroke="#0000ff" stroke-width="1.0" stroke-opacity="0.45"/>
<rect x="401.6" y="566.21" width="1.8" height="1.2" fill="#0000ff" fill-opacity="0.7"/>
<line x1="403.3" y1="570.22" x2="411.7" y2="570.22" stroke="#0000ff" stroke-width="1.0" stroke-opacity="0.45"/>
<rect x="406" y="569.62" width="1.8" height="1.2" fill="#0000ff" fill-opacity="0.7"/>
<rect x="387.3" y="489.8" width="47.5" height="81.8" fill="none" stroke="#7a7a7a" stroke-width="1"/>
<line x1="389.55" y1="571.6" x2="389.55" y2="573.6" stroke="#7a7a7a" stroke-width="0.8"/>
<text x="389.55" y="581" font-size="6.6" text-anchor="middle" font-weight="bold" fill="#1a1a1a" stroke="#1a1a1a" stroke-width="0.2">−0.5</text>
<line x1="403.9" y1="571.6" x2="403.9" y2="573.6" stroke="#7a7a7a" stroke-width="0.8"/>
<text x="403.9" y="581" font-size="6.6" text-anchor="middle" font-weight="bold" fill="#1a1a1a" stroke="#1a1a1a" stroke-width="0.2">0</text>
<line x1="418.25" y1="571.6" x2="418.25" y2="573.6" stroke="#7a7a7a" stroke-width="0.8"/>
<text x="418.25" y="581" font-size="6.6" text-anchor="middle" font-weight="bold" fill="#1a1a1a" stroke="#1a1a1a" stroke-width="0.2">0.5</text>
<line x1="432.6" y1="571.6" x2="432.6" y2="573.6" stroke="#7a7a7a" stroke-width="0.8"/>
<text x="432.6" y="581" font-size="6.6" text-anchor="middle" font-weight="bold" fill="#1a1a1a" stroke="#1a1a1a" stroke-width="0.2">1</text>
<rect x="439.5" y="475.6" width="47.5" height="14.2" fill="#d9d9d9" stroke="#7a7a7a" stroke-width="1"/>
<text x="463.25" y="485.2" font-size="7.1" text-anchor="middle" fill="#222" stroke="#222" stroke-width="0.2">Support</text>
<line x1="448.93" y1="489.8" x2="448.93" y2="571.6" stroke="#f3f3f3" stroke-width="0.6"/>
<line x1="463.28" y1="489.8" x2="463.28" y2="571.6" stroke="#f3f3f3" stroke-width="0.6"/>
<line x1="477.62" y1="489.8" x2="477.62" y2="571.6" stroke="#f3f3f3" stroke-width="0.6"/>
<line x1="441.75" y1="489.8" x2="441.75" y2="571.6" stroke="#e6e6e6" stroke-width="0.8"/>
<line x1="456.1" y1="489.8" x2="456.1" y2="571.6" stroke="#e6e6e6" stroke-width="0.8"/>
<line x1="470.45" y1="489.8" x2="470.45" y2="571.6" stroke="#e6e6e6" stroke-width="0.8"/>
<line x1="484.8" y1="489.8" x2="484.8" y2="571.6" stroke="#e6e6e6" stroke-width="0.8"/>
<line x1="439.5" y1="491.9" x2="487" y2="491.9" stroke="#e6e6e6" stroke-width="0.8"/>
<line x1="439.5" y1="495.31" x2="487" y2="495.31" stroke="#e6e6e6" stroke-width="0.8"/>
<line x1="439.5" y1="498.71" x2="487" y2="498.71" stroke="#e6e6e6" stroke-width="0.8"/>
<line x1="439.5" y1="502.12" x2="487" y2="502.12" stroke="#e6e6e6" stroke-width="0.8"/>
<line x1="439.5" y1="505.52" x2="487" y2="505.52" stroke="#e6e6e6" stroke-width="0.8"/>
<line x1="439.5" y1="508.93" x2="487" y2="508.93" stroke="#e6e6e6" stroke-width="0.8"/>
<line x1="439.5" y1="512.33" x2="487" y2="512.33" stroke="#e6e6e6" stroke-width="0.8"/>
<line x1="439.5" y1="515.74" x2="487" y2="515.74" stroke="#e6e6e6" stroke-width="0.8"/>
<line x1="439.5" y1="519.14" x2="487" y2="519.14" stroke="#e6e6e6" stroke-width="0.8"/>
<line x1="439.5" y1="522.55" x2="487" y2="522.55" stroke="#e6e6e6" stroke-width="0.8"/>
<line x1="439.5" y1="525.95" x2="487" y2="525.95" stroke="#e6e6e6" stroke-width="0.8"/>
<line x1="439.5" y1="529.36" x2="487" y2="529.36" stroke="#e6e6e6" stroke-width="0.8"/>
<line x1="439.5" y1="532.76" x2="487" y2="532.76" stroke="#e6e6e6" stroke-width="0.8"/>
<line x1="439.5" y1="536.17" x2="487" y2="536.17" stroke="#e6e6e6" stroke-width="0.8"/>
<line x1="439.5" y1="539.57" x2="487" y2="539.57" stroke="#e6e6e6" stroke-width="0.8"/>
<line x1="439.5" y1="542.98" x2="487" y2="542.98" stroke="#e6e6e6" stroke-width="0.8"/>
<line x1="439.5" y1="546.38" x2="487" y2="546.38" stroke="#e6e6e6" stroke-width="0.8"/>
<line x1="439.5" y1="549.79" x2="487" y2="549.79" stroke="#e6e6e6" stroke-width="0.8"/>
<line x1="439.5" y1="553.19" x2="487" y2="553.19" stroke="#e6e6e6" stroke-width="0.8"/>
<line x1="439.5" y1="556.6" x2="487" y2="556.6" stroke="#e6e6e6" stroke-width="0.8"/>
<line x1="439.5" y1="560" x2="487" y2="560" stroke="#e6e6e6" stroke-width="0.8"/>
<line x1="439.5" y1="563.4" x2="487" y2="563.4" stroke="#e6e6e6" stroke-width="0.8"/>
<line x1="439.5" y1="566.81" x2="487" y2="566.81" stroke="#e6e6e6" stroke-width="0.8"/>
<line x1="439.5" y1="570.22" x2="487" y2="570.22" stroke="#e6e6e6" stroke-width="0.8"/>
<line x1="456.1" y1="489.8" x2="456.1" y2="571.6" stroke="#b0b0b0" stroke-width="0.7"/>
<line x1="443.2" y1="491.9" x2="444.8" y2="491.9" stroke="#ff0000" stroke-width="1.0" stroke-opacity="0.45"/>
<rect x="443.1" y="491.3" width="1.8" height="1.2" fill="#ff0000" fill-opacity="0.7"/>
<line x1="446.2" y1="495.31" x2="459.7" y2="495.31" stroke="#ff0000" stroke-width="1.0" stroke-opacity="0.45"/>
<rect x="452.1" y="494.7" width="1.8" height="1.2" fill="#ff0000" fill-opacity="0.7"/>
<line x1="471.7" y1="498.71" x2="484.5" y2="498.71" stroke="#ff0000" stroke-width="1.0" stroke-opacity="0.45"/>
<rect x="476.8" y="498.11" width="1.8" height="1.2" fill="#ff0000" fill-opacity="0.7"/>
<line x1="468.3" y1="502.12" x2="482.2" y2="502.12" stroke="#ff0000" stroke-width="1.0" stroke-opacity="0.45"/>
<rect x="474.3" y="501.51" width="1.8" height="1.2" fill="#ff0000" fill-opacity="0.7"/>
<line x1="445" y1="505.52" x2="446.6" y2="505.52" stroke="#ff0000" stroke-width="1.0" stroke-opacity="0.45"/>
<rect x="444.9" y="504.92" width="1.8" height="1.2" fill="#ff0000" fill-opacity="0.7"/>
<line x1="447.2" y1="508.93" x2="448.8" y2="508.93" stroke="#ff0000" stroke-width="1.0" stroke-opacity="0.45"/>
<rect x="447.1" y="508.32" width="1.8" height="1.2" fill="#ff0000" fill-opacity="0.7"/>
<line x1="443.5" y1="512.33" x2="456.7" y2="512.33" stroke="#ff0000" stroke-width="1.0" stroke-opacity="0.45"/>
<rect x="448.8" y="511.73" width="1.8" height="1.2" fill="#ff0000" fill-opacity="0.7"/>
<line x1="447.7" y1="515.74" x2="461.7" y2="515.74" stroke="#ff0000" stroke-width="1.0" stroke-opacity="0.45"/>
<rect x="453.3" y="515.13" width="1.8" height="1.2" fill="#ff0000" fill-opacity="0.7"/>
<line x1="443.7" y1="519.14" x2="445.3" y2="519.14" stroke="#ff0000" stroke-width="1.0" stroke-opacity="0.45"/>
<rect x="443.6" y="518.54" width="1.8" height="1.2" fill="#ff0000" fill-opacity="0.7"/>
<line x1="446.7" y1="522.55" x2="448.3" y2="522.55" stroke="#ff0000" stroke-width="1.0" stroke-opacity="0.45"/>
<rect x="446.6" y="521.95" width="1.8" height="1.2" fill="#ff0000" fill-opacity="0.7"/>
<line x1="449.7" y1="525.95" x2="463.5" y2="525.95" stroke="#ff0000" stroke-width="1.0" stroke-opacity="0.45"/>
<rect x="455.5" y="525.35" width="1.8" height="1.2" fill="#ff0000" fill-opacity="0.7"/>
<line x1="464.2" y1="529.36" x2="478.8" y2="529.36" stroke="#ff0000" stroke-width="1.0" stroke-opacity="0.45"/>
<rect x="470.4" y="528.75" width="1.8" height="1.2" fill="#ff0000" fill-opacity="0.7"/>
<line x1="453.7" y1="532.76" x2="468.3" y2="532.76" stroke="#ff0000" stroke-width="1.0" stroke-opacity="0.45"/>
<rect x="459.9" y="532.16" width="1.8" height="1.2" fill="#ff0000" fill-opacity="0.7"/>
<line x1="443.7" y1="536.17" x2="445.3" y2="536.17" stroke="#ff0000" stroke-width="1.0" stroke-opacity="0.45"/>
<rect x="443.6" y="535.57" width="1.8" height="1.2" fill="#ff0000" fill-opacity="0.7"/>
<line x1="458.2" y1="539.57" x2="472.5" y2="539.57" stroke="#ff0000" stroke-width="1.0" stroke-opacity="0.45"/>
<rect x="464.5" y="538.97" width="1.8" height="1.2" fill="#ff0000" fill-opacity="0.7"/>
<line x1="449.2" y1="542.98" x2="465" y2="542.98" stroke="#ff0000" stroke-width="1.0" stroke-opacity="0.45"/>
<rect x="455.8" y="542.38" width="1.8" height="1.2" fill="#ff0000" fill-opacity="0.7"/>
<rect x="439.5" y="489.8" width="47.5" height="81.8" fill="none" stroke="#7a7a7a" stroke-width="1"/>
<line x1="441.75" y1="571.6" x2="441.75" y2="573.6" stroke="#7a7a7a" stroke-width="0.8"/>
<text x="441.75" y="581" font-size="6.6" text-anchor="middle" font-weight="bold" fill="#1a1a1a" stroke="#1a1a1a" stroke-width="0.2">−0.5</text>
<line x1="456.1" y1="571.6" x2="456.1" y2="573.6" stroke="#7a7a7a" stroke-width="0.8"/>
<text x="456.1" y="581" font-size="6.6" text-anchor="middle" font-weight="bold" fill="#1a1a1a" stroke="#1a1a1a" stroke-width="0.2">0</text>
<line x1="470.45" y1="571.6" x2="470.45" y2="573.6" stroke="#7a7a7a" stroke-width="0.8"/>
<text x="470.45" y="581" font-size="6.6" text-anchor="middle" font-weight="bold" fill="#1a1a1a" stroke="#1a1a1a" stroke-width="0.2">0.5</text>
<line x1="484.8" y1="571.6" x2="484.8" y2="573.6" stroke="#7a7a7a" stroke-width="0.8"/>
<text x="484.8" y="581" font-size="6.6" text-anchor="middle" font-weight="bold" fill="#1a1a1a" stroke="#1a1a1a" stroke-width="0.2">1</text>
<rect x="492" y="475.6" width="47.6" height="14.2" fill="#d9d9d9" stroke="#7a7a7a" stroke-width="1"/>
<text x="515.8" y="485.2" font-size="7.1" text-anchor="middle" fill="#222" stroke="#222" stroke-width="0.2">No Support</text>
<line x1="501.43" y1="489.8" x2="501.43" y2="571.6" stroke="#f3f3f3" stroke-width="0.6"/>
<line x1="515.77" y1="489.8" x2="515.77" y2="571.6" stroke="#f3f3f3" stroke-width="0.6"/>
<line x1="530.12" y1="489.8" x2="530.12" y2="571.6" stroke="#f3f3f3" stroke-width="0.6"/>
<line x1="494.25" y1="489.8" x2="494.25" y2="571.6" stroke="#e6e6e6" stroke-width="0.8"/>
<line x1="508.6" y1="489.8" x2="508.6" y2="571.6" stroke="#e6e6e6" stroke-width="0.8"/>
<line x1="522.95" y1="489.8" x2="522.95" y2="571.6" stroke="#e6e6e6" stroke-width="0.8"/>
<line x1="537.3" y1="489.8" x2="537.3" y2="571.6" stroke="#e6e6e6" stroke-width="0.8"/>
<line x1="492" y1="491.9" x2="539.6" y2="491.9" stroke="#e6e6e6" stroke-width="0.8"/>
<line x1="492" y1="495.31" x2="539.6" y2="495.31" stroke="#e6e6e6" stroke-width="0.8"/>
<line x1="492" y1="498.71" x2="539.6" y2="498.71" stroke="#e6e6e6" stroke-width="0.8"/>
<line x1="492" y1="502.12" x2="539.6" y2="502.12" stroke="#e6e6e6" stroke-width="0.8"/>
<line x1="492" y1="505.52" x2="539.6" y2="505.52" stroke="#e6e6e6" stroke-width="0.8"/>
<line x1="492" y1="508.93" x2="539.6" y2="508.93" stroke="#e6e6e6" stroke-width="0.8"/>
<line x1="492" y1="512.33" x2="539.6" y2="512.33" stroke="#e6e6e6" stroke-width="0.8"/>
<line x1="492" y1="515.74" x2="539.6" y2="515.74" stroke="#e6e6e6" stroke-width="0.8"/>
<line x1="492" y1="519.14" x2="539.6" y2="519.14" stroke="#e6e6e6" stroke-width="0.8"/>
<line x1="492" y1="522.55" x2="539.6" y2="522.55" stroke="#e6e6e6" stroke-width="0.8"/>
<line x1="492" y1="525.95" x2="539.6" y2="525.95" stroke="#e6e6e6" stroke-width="0.8"/>
<line x1="492" y1="529.36" x2="539.6" y2="529.36" stroke="#e6e6e6" stroke-width="0.8"/>
<line x1="492" y1="532.76" x2="539.6" y2="532.76" stroke="#e6e6e6" stroke-width="0.8"/>
<line x1="492" y1="536.17" x2="539.6" y2="536.17" stroke="#e6e6e6" stroke-width="0.8"/>
<line x1="492" y1="539.57" x2="539.6" y2="539.57" stroke="#e6e6e6" stroke-width="0.8"/>
<line x1="492" y1="542.98" x2="539.6" y2="542.98" stroke="#e6e6e6" stroke-width="0.8"/>
<line x1="492" y1="546.38" x2="539.6" y2="546.38" stroke="#e6e6e6" stroke-width="0.8"/>
<line x1="492" y1="549.79" x2="539.6" y2="549.79" stroke="#e6e6e6" stroke-width="0.8"/>
<line x1="492" y1="553.19" x2="539.6" y2="553.19" stroke="#e6e6e6" stroke-width="0.8"/>
<line x1="492" y1="556.6" x2="539.6" y2="556.6" stroke="#e6e6e6" stroke-width="0.8"/>
<line x1="492" y1="560" x2="539.6" y2="560" stroke="#e6e6e6" stroke-width="0.8"/>
<line x1="492" y1="563.4" x2="539.6" y2="563.4" stroke="#e6e6e6" stroke-width="0.8"/>
<line x1="492" y1="566.81" x2="539.6" y2="566.81" stroke="#e6e6e6" stroke-width="0.8"/>
<line x1="492" y1="570.22" x2="539.6" y2="570.22" stroke="#e6e6e6" stroke-width="0.8"/>
<line x1="508.6" y1="489.8" x2="508.6" y2="571.6" stroke="#b0b0b0" stroke-width="0.7"/>
<line x1="505.2" y1="546.38" x2="512.5" y2="546.38" stroke="#0000ff" stroke-width="1.0" stroke-opacity="0.45"/>
<rect x="508.1" y="545.78" width="1.8" height="1.2" fill="#0000ff" fill-opacity="0.7"/>
<line x1="506" y1="549.79" x2="513" y2="549.79" stroke="#0000ff" stroke-width="1.0" stroke-opacity="0.45"/>
<rect x="508.3" y="549.19" width="1.8" height="1.2" fill="#0000ff" fill-opacity="0.7"/>
<line x1="504" y1="553.19" x2="511" y2="553.19" stroke="#0000ff" stroke-width="1.0" stroke-opacity="0.45"/>
<rect x="506.6" y="552.59" width="1.8" height="1.2" fill="#0000ff" fill-opacity="0.7"/>
<line x1="504" y1="556.6" x2="511" y2="556.6" stroke="#0000ff" stroke-width="1.0" stroke-opacity="0.45"/>
<rect x="506.6" y="556" width="1.8" height="1.2" fill="#0000ff" fill-opacity="0.7"/>
<line x1="504.5" y1="560" x2="512" y2="560" stroke="#0000ff" stroke-width="1.0" stroke-opacity="0.45"/>
<rect x="507.1" y="559.4" width="1.8" height="1.2" fill="#0000ff" fill-opacity="0.7"/>
<line x1="504" y1="563.4" x2="511" y2="563.4" stroke="#0000ff" stroke-width="1.0" stroke-opacity="0.45"/>
<rect x="506.6" y="562.8" width="1.8" height="1.2" fill="#0000ff" fill-opacity="0.7"/>
<line x1="505" y1="566.81" x2="512" y2="566.81" stroke="#0000ff" stroke-width="1.0" stroke-opacity="0.45"/>
<rect x="507.6" y="566.21" width="1.8" height="1.2" fill="#0000ff" fill-opacity="0.7"/>
<line x1="507" y1="570.22" x2="514" y2="570.22" stroke="#0000ff" stroke-width="1.0" stroke-opacity="0.45"/>
<rect x="509.1" y="569.62" width="1.8" height="1.2" fill="#0000ff" fill-opacity="0.7"/>
<rect x="492" y="489.8" width="47.6" height="81.8" fill="none" stroke="#7a7a7a" stroke-width="1"/>
<line x1="494.25" y1="571.6" x2="494.25" y2="573.6" stroke="#7a7a7a" stroke-width="0.8"/>
<text x="494.25" y="581" font-size="6.6" text-anchor="middle" font-weight="bold" fill="#1a1a1a" stroke="#1a1a1a" stroke-width="0.2">−0.5</text>
<line x1="508.6" y1="571.6" x2="508.6" y2="573.6" stroke="#7a7a7a" stroke-width="0.8"/>
<text x="508.6" y="581" font-size="6.6" text-anchor="middle" font-weight="bold" fill="#1a1a1a" stroke="#1a1a1a" stroke-width="0.2">0</text>
<line x1="522.95" y1="571.6" x2="522.95" y2="573.6" stroke="#7a7a7a" stroke-width="0.8"/>
<text x="522.95" y="581" font-size="6.6" text-anchor="middle" font-weight="bold" fill="#1a1a1a" stroke="#1a1a1a" stroke-width="0.2">0.5</text>
<line x1="537.3" y1="571.6" x2="537.3" y2="573.6" stroke="#7a7a7a" stroke-width="0.8"/>
<text x="537.3" y="581" font-size="6.6" text-anchor="middle" font-weight="bold" fill="#1a1a1a" stroke="#1a1a1a" stroke-width="0.2">1</text>
<line x1="385.1" y1="491.9" x2="387.3" y2="491.9" stroke="#7a7a7a" stroke-width="0.8"/>
<text transform="translate(382.9,491.9) rotate(-90)" font-size="3.1" font-weight="bold" text-anchor="middle" fill="#333">1</text>
<line x1="385.1" y1="495.31" x2="387.3" y2="495.31" stroke="#7a7a7a" stroke-width="0.8"/>
<text transform="translate(382.9,495.31) rotate(-90)" font-size="3.1" font-weight="bold" text-anchor="middle" fill="#333">2</text>
<line x1="385.1" y1="498.71" x2="387.3" y2="498.71" stroke="#7a7a7a" stroke-width="0.8"/>
<text transform="translate(382.9,498.71) rotate(-90)" font-size="3.1" font-weight="bold" text-anchor="middle" fill="#333">3</text>
<line x1="385.1" y1="502.12" x2="387.3" y2="502.12" stroke="#7a7a7a" stroke-width="0.8"/>
<text transform="translate(382.9,502.12) rotate(-90)" font-size="3.1" font-weight="bold" text-anchor="middle" fill="#333">4</text>
<line x1="385.1" y1="505.52" x2="387.3" y2="505.52" stroke="#7a7a7a" stroke-width="0.8"/>
<text transform="translate(382.9,505.52) rotate(-90)" font-size="3.1" font-weight="bold" text-anchor="middle" fill="#333">5</text>
<line x1="385.1" y1="508.93" x2="387.3" y2="508.93" stroke="#7a7a7a" stroke-width="0.8"/>
<text transform="translate(382.9,508.93) rotate(-90)" font-size="3.1" font-weight="bold" text-anchor="middle" fill="#333">6</text>
<line x1="385.1" y1="512.33" x2="387.3" y2="512.33" stroke="#7a7a7a" stroke-width="0.8"/>
<text transform="translate(382.9,512.33) rotate(-90)" font-size="3.1" font-weight="bold" text-anchor="middle" fill="#333">7</text>
<line x1="385.1" y1="515.74" x2="387.3" y2="515.74" stroke="#7a7a7a" stroke-width="0.8"/>
<text transform="translate(382.9,515.74) rotate(-90)" font-size="3.1" font-weight="bold" text-anchor="middle" fill="#333">8</text>
<line x1="385.1" y1="519.14" x2="387.3" y2="519.14" stroke="#7a7a7a" stroke-width="0.8"/>
<text transform="translate(382.9,519.14) rotate(-90)" font-size="3.1" font-weight="bold" text-anchor="middle" fill="#333">9</text>
<line x1="385.1" y1="522.55" x2="387.3" y2="522.55" stroke="#7a7a7a" stroke-width="0.8"/>
<text transform="translate(382.9,522.55) rotate(-90)" font-size="3.1" font-weight="bold" text-anchor="middle" fill="#333">10</text>
<line x1="385.1" y1="525.95" x2="387.3" y2="525.95" stroke="#7a7a7a" stroke-width="0.8"/>
<text transform="translate(382.9,525.95) rotate(-90)" font-size="3.1" font-weight="bold" text-anchor="middle" fill="#333">11</text>
<line x1="385.1" y1="529.36" x2="387.3" y2="529.36" stroke="#7a7a7a" stroke-width="0.8"/>
<text transform="translate(382.9,529.36) rotate(-90)" font-size="3.1" font-weight="bold" text-anchor="middle" fill="#333">12</text>
<line x1="385.1" y1="532.76" x2="387.3" y2="532.76" stroke="#7a7a7a" stroke-width="0.8"/>
<text transform="translate(382.9,532.76) rotate(-90)" font-size="3.1" font-weight="bold" text-anchor="middle" fill="#333">13</text>
<line x1="385.1" y1="536.17" x2="387.3" y2="536.17" stroke="#7a7a7a" stroke-width="0.8"/>
<text transform="translate(382.9,536.17) rotate(-90)" font-size="3.1" font-weight="bold" text-anchor="middle" fill="#333">14</text>
<line x1="385.1" y1="539.57" x2="387.3" y2="539.57" stroke="#7a7a7a" stroke-width="0.8"/>
<text transform="translate(382.9,539.57) rotate(-90)" font-size="3.1" font-weight="bold" text-anchor="middle" fill="#333">15</text>
<line x1="385.1" y1="542.98" x2="387.3" y2="542.98" stroke="#7a7a7a" stroke-width="0.8"/>
<text transform="translate(382.9,542.98) rotate(-90)" font-size="3.1" font-weight="bold" text-anchor="middle" fill="#333">16</text>
<line x1="385.1" y1="546.38" x2="387.3" y2="546.38" stroke="#7a7a7a" stroke-width="0.8"/>
<text transform="translate(382.9,546.38) rotate(-90)" font-size="3.1" font-weight="bold" text-anchor="middle" fill="#333">17</text>
<line x1="385.1" y1="549.79" x2="387.3" y2="549.79" stroke="#7a7a7a" stroke-width="0.8"/>
<text transform="translate(382.9,549.79) rotate(-90)" font-size="3.1" font-weight="bold" text-anchor="middle" fill="#333">18</text>
<line x1="385.1" y1="553.19" x2="387.3" y2="553.19" stroke="#7a7a7a" stroke-width="0.8"/>
<text transform="translate(382.9,553.19) rotate(-90)" font-size="3.1" font-weight="bold" text-anchor="middle" fill="#333">19</text>
<line x1="385.1" y1="556.6" x2="387.3" y2="556.6" stroke="#7a7a7a" stroke-width="0.8"/>
<text transform="translate(382.9,556.6) rotate(-90)" font-size="3.1" font-weight="bold" text-anchor="middle" fill="#333">20</text>
<line x1="385.1" y1="560" x2="387.3" y2="560" stroke="#7a7a7a" stroke-width="0.8"/>
<text transform="translate(382.9,560) rotate(-90)" font-size="3.1" font-weight="bold" text-anchor="middle" fill="#333">21</text>
<line x1="385.1" y1="563.4" x2="387.3" y2="563.4" stroke="#7a7a7a" stroke-width="0.8"/>
<text transform="translate(382.9,563.4) rotate(-90)" font-size="3.1" font-weight="bold" text-anchor="middle" fill="#333">22</text>
<line x1="385.1" y1="566.81" x2="387.3" y2="566.81" stroke="#7a7a7a" stroke-width="0.8"/>
<text transform="translate(382.9,566.81) rotate(-90)" font-size="3.1" font-weight="bold" text-anchor="middle" fill="#333">23</text>
<line x1="385.1" y1="570.22" x2="387.3" y2="570.22" stroke="#7a7a7a" stroke-width="0.8"/>
<text transform="translate(382.9,570.22) rotate(-90)" font-size="3.1" font-weight="bold" text-anchor="middle" fill="#333">24</text>
<text x="390.6" y="469" font-size="11" text-anchor="start" font-weight="bold" fill="#000" stroke="#000" stroke-width="0.2">L</text>
<text x="463.45" y="592.9" font-size="9.2" text-anchor="middle" fill="#1a1a1a" stroke="#1a1a1a" stroke-width="0.2"><tspan font-size="10.2">(</tspan>mm<tspan font-size="6.8" dy="-3.9">2</tspan><tspan dy="3.9" font-size="10.2">)</tspan></text>
<text transform="translate(375.6,530.7) rotate(-90)" font-size="9.2" text-anchor="middle" fill="#1a1a1a" stroke="#1a1a1a" stroke-width="0.2">ID plant</text>
<line x1="217.9" y1="10.4" x2="227.2" y2="10.4" stroke="#ff0000" stroke-width="1.3"/>
<text x="232" y="13.6" font-size="9.2" text-anchor="start" fill="#1a1a1a" stroke="#1a1a1a" stroke-width="0.2">Support</text>
<line x1="270.4" y1="10.4" x2="279.6" y2="10.4" stroke="#0000ff" stroke-width="1.3"/>
<text x="284.7" y="13.6" font-size="9.2" text-anchor="start" fill="#1a1a1a" stroke="#1a1a1a" stroke-width="0.2">No Support</text></svg>
</body></html>
